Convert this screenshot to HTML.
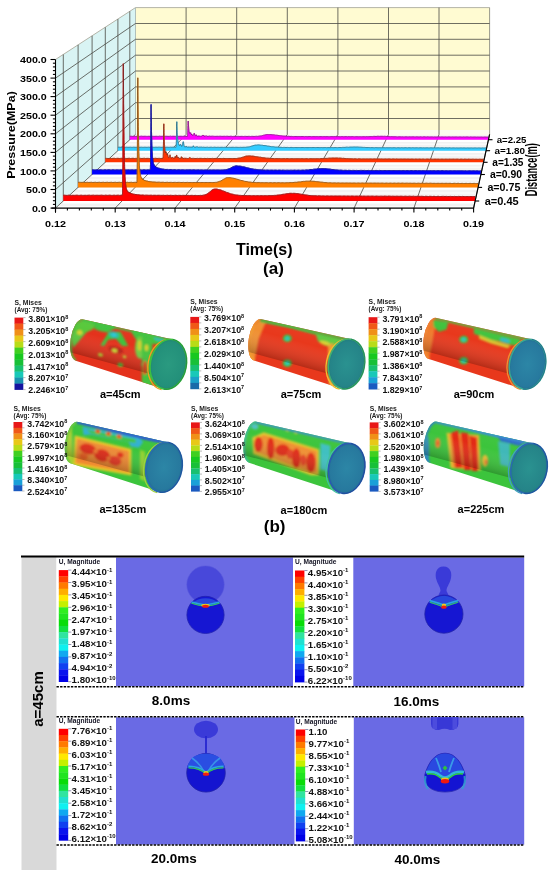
<!DOCTYPE html>
<html><head><meta charset="utf-8"><style>
html,body{margin:0;padding:0;background:#fff;width:550px;height:879px;overflow:hidden}
svg{display:block}
text{font-family:"Liberation Sans",sans-serif}
</style></head><body>
<svg width="550" height="879" viewBox="0 0 550 879">
<polygon points="55.5,208.1 473.6,208.1 489.6,134.4 135.5,134.4" fill="#f2f2f2"/>
<polygon points="63.3,201 475.2,201 474.8,203.4 62.8,203.4" fill="#ffffff"/>
<polygon points="57.7,206.1 474,206.1 473.6,207.6 57.2,207.6" fill="#fafafa"/>
<polygon points="78.1,187.4 478.1,187.4 477.7,189.8 77.6,189.8" fill="#ffffff"/>
<polygon points="72.9,192.2 477.1,192.2 476.7,193.7 72.4,193.7" fill="#fafafa"/>
<polygon points="92.1,174.5 480.9,174.5 480.5,176.9 91.6,176.9" fill="#ffffff"/>
<polygon points="87.1,179.1 479.9,179.1 479.5,180.6 86.6,180.6" fill="#fafafa"/>
<polygon points="105.3,162.3 483.6,162.3 483.2,164.7 104.8,164.7" fill="#ffffff"/>
<polygon points="100.7,166.6 482.7,166.6 482.3,168.1 100.2,168.1" fill="#fafafa"/>
<polygon points="117.9,150.7 486.1,150.7 485.7,153.1 117.4,153.1" fill="#ffffff"/>
<polygon points="113.5,154.8 485.2,154.8 484.8,156.3 113,156.3" fill="#fafafa"/>
<polygon points="129.8,139.7 488.5,139.7 488.1,142.1 129.3,142.1" fill="#ffffff"/>
<polygon points="125.6,143.6 487.6,143.6 487.2,145.1 125.1,145.1" fill="#fafafa"/>
<polygon points="55.5,208.1 55.5,59.5 135.5,7.6 135.5,134.4" fill="#d9f4f4"/>
<polygon points="135.5,134.4 489.6,134.4 489.6,7.6 135.5,7.6" fill="#fffbd2"/>
<polygon points="135.5,134.4 489.6,134.4 489.6,130 135.5,130" fill="#fbfbee"/>
<polyline points="55.5,59.5 135.5,7.6 489.6,7.6" fill="none" stroke="#b4b4a8" stroke-width="1"/>
<polyline points="489.6,7.6 489.6,134.4" fill="none" stroke="#8c8c80" stroke-width="0.9"/>
<polyline points="135.5,7.6 135.5,134.4" fill="none" stroke="#a8b8b4" stroke-width="0.9"/>
<g stroke="#4a4a44" stroke-width="0.8" fill="none"><line x1="186.1" y1="134.4" x2="186.1" y2="7.6"/><line x1="236.7" y1="134.4" x2="236.7" y2="7.6"/><line x1="287.3" y1="134.4" x2="287.3" y2="7.6"/><line x1="337.9" y1="134.4" x2="337.9" y2="7.6"/><line x1="388.5" y1="134.4" x2="388.5" y2="7.6"/><line x1="439" y1="134.4" x2="439" y2="7.6"/><line x1="135.5" y1="118.5" x2="489.6" y2="118.5"/><line x1="55.5" y1="189.5" x2="135.5" y2="118.5"/><line x1="135.5" y1="102.7" x2="489.6" y2="102.7"/><line x1="55.5" y1="170.9" x2="135.5" y2="102.7"/><line x1="135.5" y1="86.9" x2="489.6" y2="86.9"/><line x1="55.5" y1="152.4" x2="135.5" y2="86.9"/><line x1="135.5" y1="71" x2="489.6" y2="71"/><line x1="55.5" y1="133.8" x2="135.5" y2="71"/><line x1="135.5" y1="55.2" x2="489.6" y2="55.2"/><line x1="55.5" y1="115.2" x2="135.5" y2="55.2"/><line x1="135.5" y1="39.3" x2="489.6" y2="39.3"/><line x1="55.5" y1="96.6" x2="135.5" y2="39.3"/><line x1="135.5" y1="23.5" x2="489.6" y2="23.5"/><line x1="55.5" y1="78.1" x2="135.5" y2="23.5"/><line x1="63.3" y1="201" x2="63.3" y2="54.5"/><line x1="78.1" y1="187.4" x2="78.1" y2="44.9"/><line x1="92.1" y1="174.5" x2="92.1" y2="35.9"/><line x1="105.3" y1="162.3" x2="105.3" y2="27.3"/><line x1="117.9" y1="150.7" x2="117.9" y2="19.1"/><line x1="129.8" y1="139.7" x2="129.8" y2="11.4"/><line x1="115.2" y1="208.1" x2="186.1" y2="134.4"/><line x1="175" y1="208.1" x2="236.7" y2="134.4"/><line x1="234.7" y1="208.1" x2="287.3" y2="134.4"/><line x1="294.4" y1="208.1" x2="337.9" y2="134.4"/><line x1="354.1" y1="208.1" x2="388.5" y2="134.4"/><line x1="413.9" y1="208.1" x2="439" y2="134.4"/><line x1="473.6" y1="208.1" x2="489.6" y2="134.4"/><line x1="55.5" y1="208.1" x2="135.5" y2="134.4"/></g>
<polygon points="129.8,136.4 131,136.2 132.2,136.4 133.4,136.4 134.6,136.3 135.8,136.4 137,136.4 138.2,136.3 139.4,136.4 140.5,136.3 141.7,136.2 142.9,136.4 144.1,136.3 145.3,136.3 146.5,136.4 147.7,136.4 148.9,136.3 150.1,136.4 151.3,136.3 152.5,136.3 153.7,136.4 154.9,136.4 156.1,136.3 157.3,136.4 158.5,136.4 159.7,136.2 160.9,136.4 162.1,136.3 163.3,136.3 164.5,136.4 165.7,136.3 166.8,136.3 168,136.4 169.2,136.4 170.4,136.2 171.6,136.4 172.8,136.3 174,136.3 175.2,136.4 176.4,136.3 177.6,136.3 178.8,136.4 180,136.3 181.2,136.3 182.4,136.4 183.6,136.3 184.8,136.3 186,136.4 186.7,136.4 186.7,136.4 186.8,136.3 186.8,136.4 186.9,136.4 186.9,136.3 187,136.4 187,136.3 187.1,136.4 187.1,136.3 187.2,136.3 187.2,136.3 187.3,136.3 187.3,136.3 187.4,136.2 187.4,136.1 187.5,136 187.5,135.8 187.6,135.5 187.6,135 187.7,134.3 187.7,133.3 187.8,132.2 187.8,130.6 187.9,128.9 187.9,127.1 188,125.3 188,123.6 188.1,122.2 188.2,121.3 188.2,121 188.3,122 188.3,122.9 188.4,123.8 188.4,124 188.4,124.6 188.5,125.3 188.5,126 188.6,126.6 188.6,127.2 188.7,127.7 188.7,128.3 188.8,128.7 188.8,129.2 188.9,129.6 188.9,130 189,130.3 189,130.7 189.1,131 189.1,131.3 189.2,131.6 189.2,131.8 189.3,132 189.3,132.2 189.4,132.4 189.4,132.6 189.5,132.7 189.5,132.9 189.6,132.9 189.6,133 189.6,133.1 189.7,133.1 189.7,133.2 189.8,133.2 189.8,133.2 189.9,133.2 189.9,133.2 190,133.2 190,133.2 190.1,133.2 190.1,133.2 190.2,133.2 190.3,133.2 190.3,133.2 190.4,133.1 190.4,133 190.5,132.9 190.5,132.8 190.6,132.7 190.6,132.7 190.7,132.7 190.7,132.9 190.8,133.1 190.8,133.3 190.9,133.5 190.9,133.7 191,133.8 191,133.9 191.1,134 191.1,134.1 191.2,134.2 191.2,134.3 191.3,134.4 191.3,134.4 191.4,134.4 191.4,134.5 191.5,134.5 191.5,134.4 191.6,134.3 191.6,134.2 191.7,134.1 191.7,134 191.8,134 191.8,134 191.9,134.1 191.9,134.3 192,134.3 192,134.4 192,134.6 192.1,134.8 192.1,134.9 192.2,135.1 192.2,135.2 192.3,135.3 192.4,135.3 192.4,135.3 192.5,135.4 192.5,135.4 192.6,135.4 192.6,135.5 192.7,135.5 192.7,135.5 192.8,135.5 192.8,135.5 192.9,135.6 192.9,135.6 193,135.6 193,135.6 193.1,135.5 193.1,135.5 193.2,135.5 193.2,135.5 193.2,135.5 193.3,135.4 193.3,135.4 193.4,135.3 193.4,135.2 193.5,135.1 193.5,135 193.6,134.9 193.6,134.7 193.7,134.6 193.7,134.4 193.8,134.2 193.8,134 193.9,133.9 193.9,133.7 194,133.5 194,133.4 194.1,133.3 194.1,133.3 194.2,133.2 194.2,133.3 194.3,133.3 194.4,133.4 194.4,133.5 194.5,133.6 194.5,133.8 194.6,134 194.6,134.2 194.7,134.4 194.7,134.5 194.8,134.7 194.8,134.9 194.9,135 195,135.3 195.1,135.5 195.2,135.6 195.3,135.7 195.4,135.7 195.5,135.8 195.5,135.8 195.6,135.8 195.7,135.8 195.8,135.7 195.9,135.5 196,135.2 196.1,134.9 196.2,134.7 196.3,134.9 196.4,135.3 196.5,135.6 196.6,135.9 196.7,136 196.7,136 196.8,136 196.9,136.1 197,136.1 197.1,136.1 197.2,136.1 197.3,136.1 197.4,136.1 197.5,136.1 197.6,136.1 197.7,136.1 197.8,136 197.9,136.1 198,136 198.1,136 198.2,136 198.3,136 198.5,136 198.6,136 198.7,136 198.8,136 198.9,136 199,136 199.1,136 199.1,136 199.2,136.1 199.3,136.1 199.4,136.1 199.5,136.1 199.6,136.1 199.7,136.1 199.8,136.2 199.9,136.2 200,136.2 200.1,136.2 200.2,136.2 200.3,136.2 200.3,136.2 200.4,136.3 200.5,136.3 200.6,136.3 200.7,136.3 200.8,136.2 200.9,136.3 201,136.2 201.1,136.2 201.2,136.2 201.3,136.2 201.4,136.2 201.5,136.2 201.6,136.2 201.7,136.1 201.8,136.1 201.9,136.1 202,136 202.1,135.9 202.2,135.8 202.3,135.7 202.4,135.5 202.5,135.4 202.7,135.4 202.7,135.5 202.8,135.5 202.9,135.6 203,135.7 203.1,135.8 203.2,135.8 203.3,135.7 203.4,135.5 203.5,135.3 203.6,135.2 203.7,135.2 203.8,135.5 203.9,135.8 203.9,135.9 204,136.1 204.1,136.2 204.2,136.3 204.3,136.3 204.4,136.3 204.5,136.3 204.6,136.3 204.7,136.3 204.8,136.3 204.9,136.3 205,136.3 205.1,136.2 205.2,136.2 205.3,136.2 205.4,136.1 205.5,136.1 205.6,136 205.7,136 205.8,135.9 205.9,135.9 206,135.9 206.1,135.8 206.2,135.8 206.3,135.8 206.3,135.8 206.4,135.9 206.5,136 206.6,136.1 206.8,136.2 206.9,136.3 207,136.3 207.1,136.3 207.2,136.3 207.3,136.3 207.4,136.4 207.5,136.4 207.5,136.4 207.6,136.4 207.7,136.4 207.8,136.4 207.9,136.4 208,136.4 208.1,136.3 208.2,136.3 208.3,136.3 208.4,136.4 208.5,136.3 208.6,136.3 208.7,136.3 208.8,136.3 208.9,136.3 209,136.3 209.1,136.2 209.2,136.2 209.3,136.2 209.4,136.2 209.5,136.1 209.6,136.1 209.7,136 209.8,136.1 209.9,136.1 209.9,136.1 210,136.2 210.1,136.3 211.1,136.3 212.3,136.2 213.5,136.3 214.7,136.4 215.9,136.4 217.1,136.3 218.3,136.4 219.5,136.3 220.7,136.3 221.9,136.4 223,136.4 224.2,136.3 225.4,136.4 226.6,136.3 227.8,136.3 229,136.5 230.2,136.3 231.4,136.3 232.6,136.5 233.8,136.4 235,136.4 236.2,136.5 237.4,136.4 238.6,136.4 239.8,136.5 241,136.4 242.2,136.4 243.4,136.5 244.6,136.4 245.8,136.4 247,136.5 248.2,136.4 249.4,136.4 250.5,136.5 251.7,136.4 252.9,136.4 254.1,136.5 255.3,136.4 256.5,136.3 257.7,136.4 258.9,136.2 260.1,136 261.3,135.9 262.5,135.5 263.7,135.2 264.9,135 266.1,134.7 267.3,134.5 268.5,134.6 269.7,134.6 270.9,134.6 272.1,134.8 273.3,134.8 274.5,134.9 275.7,135.2 276.9,135.2 278,135.4 279.2,135.6 280.4,135.7 281.6,135.8 282.8,136 284,136.1 285.2,136.1 286.4,136.3 287.6,136.3 288.8,136.3 290,136.5 291.2,136.4 292.4,136.5 293.6,136.6 294.8,136.5 296,136.5 297.2,136.6 298.4,136.5 299.6,136.5 300.8,136.6 302,136.5 303.2,136.5 304.4,136.7 305.5,136.5 306.7,136.6 307.9,136.7 309.1,136.5 310.3,136.5 311.5,136.7 312.7,136.6 313.9,136.6 315.1,136.7 316.3,136.6 317.5,136.6 318.7,136.7 319.9,136.6 321.1,136.6 322.3,136.7 323.5,136.6 324.7,136.6 325.9,136.7 327.1,136.6 328.3,136.7 329.5,136.7 330.7,136.6 331.9,136.6 333.1,136.7 334.2,136.6 335.4,136.6 336.6,136.7 337.8,136.6 339,136.7 340.2,136.8 341.4,136.6 342.6,136.6 343.8,136.8 345,136.7 346.2,136.6 347.4,136.8 348.6,136.6 349.8,136.7 351,136.8 352.2,136.6 353.4,136.7 354.6,136.8 355.8,136.7 357,136.7 358.2,136.8 359.4,136.7 360.5,136.7 361.7,136.8 362.9,136.7 364.1,136.7 365.3,136.8 366.5,136.6 367.7,136.7 368.9,136.7 370.1,136.6 371.3,136.5 372.5,136.6 373.7,136.4 374.9,136.4 376.1,136.5 377.3,136.3 378.5,136.3 379.7,136.4 380.9,136.3 382.1,136.3 383.3,136.4 384.5,136.3 385.7,136.4 386.9,136.5 388.1,136.4 389.2,136.6 390.4,136.7 391.6,136.6 392.8,136.7 394,136.8 395.2,136.7 396.4,136.8 397.6,136.9 398.8,136.8 400,136.8 401.2,136.9 402.4,136.8 403.6,136.9 404.8,136.9 406,136.8 407.2,136.9 408.4,136.9 409.6,136.8 410.8,136.9 412,136.9 413.2,136.8 414.4,136.9 415.6,136.9 416.7,136.8 417.9,136.9 419.1,137 420.3,136.8 421.5,136.9 422.7,137 423.9,136.8 425.1,136.9 426.3,137 427.5,136.8 428.7,136.9 429.9,137 431.1,136.9 432.3,136.9 433.5,137 434.7,136.9 435.9,137 437.1,137 438.3,136.9 439.5,136.9 440.7,137 441.9,136.9 443.1,137 444.2,137 445.4,136.9 446.6,137 447.8,137 449,136.9 450.2,137 451.4,137 452.6,136.9 453.8,137 455,137 456.2,136.9 457.4,137 458.6,137 459.8,136.9 461,137 462.2,137.1 463.4,136.9 464.6,137 465.8,137 467,136.9 468.2,137 469.4,137.1 470.6,136.9 471.7,137 472.9,137.1 474.1,137 475.3,137 476.5,137.1 477.7,137 478.9,137.1 480.1,137.1 481.3,137 482.5,137.1 483.7,137.1 484.9,137 486.1,137.1 487.3,137.1 488.5,137 488.5,139.7 129.8,139.7" fill="#ff00ff"/>
<polyline points="129.8,136.4 131,136.2 132.2,136.4 133.4,136.4 134.6,136.3 135.8,136.4 137,136.4 138.2,136.3 139.4,136.4 140.5,136.3 141.7,136.2 142.9,136.4 144.1,136.3 145.3,136.3 146.5,136.4 147.7,136.4 148.9,136.3 150.1,136.4 151.3,136.3 152.5,136.3 153.7,136.4 154.9,136.4 156.1,136.3 157.3,136.4 158.5,136.4 159.7,136.2 160.9,136.4 162.1,136.3 163.3,136.3 164.5,136.4 165.7,136.3 166.8,136.3 168,136.4 169.2,136.4 170.4,136.2 171.6,136.4 172.8,136.3 174,136.3 175.2,136.4 176.4,136.3 177.6,136.3 178.8,136.4 180,136.3 181.2,136.3 182.4,136.4 183.6,136.3 184.8,136.3 186,136.4 186.7,136.4 186.7,136.4 186.8,136.3 186.8,136.4 186.9,136.4 186.9,136.3 187,136.4 187,136.3 187.1,136.4 187.1,136.3 187.2,136.3 187.2,136.3 187.3,136.3 187.3,136.3 187.4,136.2 187.4,136.1 187.5,136 187.5,135.8 187.6,135.5 187.6,135 187.7,134.3 187.7,133.3 187.8,132.2 187.8,130.6 187.9,128.9 187.9,127.1 188,125.3 188,123.6 188.1,122.2 188.2,121.3 188.2,121 188.3,122 188.3,122.9 188.4,123.8 188.4,124 188.4,124.6 188.5,125.3 188.5,126 188.6,126.6 188.6,127.2 188.7,127.7 188.7,128.3 188.8,128.7 188.8,129.2 188.9,129.6 188.9,130 189,130.3 189,130.7 189.1,131 189.1,131.3 189.2,131.6 189.2,131.8 189.3,132 189.3,132.2 189.4,132.4 189.4,132.6 189.5,132.7 189.5,132.9 189.6,132.9 189.6,133 189.6,133.1 189.7,133.1 189.7,133.2 189.8,133.2 189.8,133.2 189.9,133.2 189.9,133.2 190,133.2 190,133.2 190.1,133.2 190.1,133.2 190.2,133.2 190.3,133.2 190.3,133.2 190.4,133.1 190.4,133 190.5,132.9 190.5,132.8 190.6,132.7 190.6,132.7 190.7,132.7 190.7,132.9 190.8,133.1 190.8,133.3 190.9,133.5 190.9,133.7 191,133.8 191,133.9 191.1,134 191.1,134.1 191.2,134.2 191.2,134.3 191.3,134.4 191.3,134.4 191.4,134.4 191.4,134.5 191.5,134.5 191.5,134.4 191.6,134.3 191.6,134.2 191.7,134.1 191.7,134 191.8,134 191.8,134 191.9,134.1 191.9,134.3 192,134.3 192,134.4 192,134.6 192.1,134.8 192.1,134.9 192.2,135.1 192.2,135.2 192.3,135.3 192.4,135.3 192.4,135.3 192.5,135.4 192.5,135.4 192.6,135.4 192.6,135.5 192.7,135.5 192.7,135.5 192.8,135.5 192.8,135.5 192.9,135.6 192.9,135.6 193,135.6 193,135.6 193.1,135.5 193.1,135.5 193.2,135.5 193.2,135.5 193.2,135.5 193.3,135.4 193.3,135.4 193.4,135.3 193.4,135.2 193.5,135.1 193.5,135 193.6,134.9 193.6,134.7 193.7,134.6 193.7,134.4 193.8,134.2 193.8,134 193.9,133.9 193.9,133.7 194,133.5 194,133.4 194.1,133.3 194.1,133.3 194.2,133.2 194.2,133.3 194.3,133.3 194.4,133.4 194.4,133.5 194.5,133.6 194.5,133.8 194.6,134 194.6,134.2 194.7,134.4 194.7,134.5 194.8,134.7 194.8,134.9 194.9,135 195,135.3 195.1,135.5 195.2,135.6 195.3,135.7 195.4,135.7 195.5,135.8 195.5,135.8 195.6,135.8 195.7,135.8 195.8,135.7 195.9,135.5 196,135.2 196.1,134.9 196.2,134.7 196.3,134.9 196.4,135.3 196.5,135.6 196.6,135.9 196.7,136 196.7,136 196.8,136 196.9,136.1 197,136.1 197.1,136.1 197.2,136.1 197.3,136.1 197.4,136.1 197.5,136.1 197.6,136.1 197.7,136.1 197.8,136 197.9,136.1 198,136 198.1,136 198.2,136 198.3,136 198.5,136 198.6,136 198.7,136 198.8,136 198.9,136 199,136 199.1,136 199.1,136 199.2,136.1 199.3,136.1 199.4,136.1 199.5,136.1 199.6,136.1 199.7,136.1 199.8,136.2 199.9,136.2 200,136.2 200.1,136.2 200.2,136.2 200.3,136.2 200.3,136.2 200.4,136.3 200.5,136.3 200.6,136.3 200.7,136.3 200.8,136.2 200.9,136.3 201,136.2 201.1,136.2 201.2,136.2 201.3,136.2 201.4,136.2 201.5,136.2 201.6,136.2 201.7,136.1 201.8,136.1 201.9,136.1 202,136 202.1,135.9 202.2,135.8 202.3,135.7 202.4,135.5 202.5,135.4 202.7,135.4 202.7,135.5 202.8,135.5 202.9,135.6 203,135.7 203.1,135.8 203.2,135.8 203.3,135.7 203.4,135.5 203.5,135.3 203.6,135.2 203.7,135.2 203.8,135.5 203.9,135.8 203.9,135.9 204,136.1 204.1,136.2 204.2,136.3 204.3,136.3 204.4,136.3 204.5,136.3 204.6,136.3 204.7,136.3 204.8,136.3 204.9,136.3 205,136.3 205.1,136.2 205.2,136.2 205.3,136.2 205.4,136.1 205.5,136.1 205.6,136 205.7,136 205.8,135.9 205.9,135.9 206,135.9 206.1,135.8 206.2,135.8 206.3,135.8 206.3,135.8 206.4,135.9 206.5,136 206.6,136.1 206.8,136.2 206.9,136.3 207,136.3 207.1,136.3 207.2,136.3 207.3,136.3 207.4,136.4 207.5,136.4 207.5,136.4 207.6,136.4 207.7,136.4 207.8,136.4 207.9,136.4 208,136.4 208.1,136.3 208.2,136.3 208.3,136.3 208.4,136.4 208.5,136.3 208.6,136.3 208.7,136.3 208.8,136.3 208.9,136.3 209,136.3 209.1,136.2 209.2,136.2 209.3,136.2 209.4,136.2 209.5,136.1 209.6,136.1 209.7,136 209.8,136.1 209.9,136.1 209.9,136.1 210,136.2 210.1,136.3 211.1,136.3 212.3,136.2 213.5,136.3 214.7,136.4 215.9,136.4 217.1,136.3 218.3,136.4 219.5,136.3 220.7,136.3 221.9,136.4 223,136.4 224.2,136.3 225.4,136.4 226.6,136.3 227.8,136.3 229,136.5 230.2,136.3 231.4,136.3 232.6,136.5 233.8,136.4 235,136.4 236.2,136.5 237.4,136.4 238.6,136.4 239.8,136.5 241,136.4 242.2,136.4 243.4,136.5 244.6,136.4 245.8,136.4 247,136.5 248.2,136.4 249.4,136.4 250.5,136.5 251.7,136.4 252.9,136.4 254.1,136.5 255.3,136.4 256.5,136.3 257.7,136.4 258.9,136.2 260.1,136 261.3,135.9 262.5,135.5 263.7,135.2 264.9,135 266.1,134.7 267.3,134.5 268.5,134.6 269.7,134.6 270.9,134.6 272.1,134.8 273.3,134.8 274.5,134.9 275.7,135.2 276.9,135.2 278,135.4 279.2,135.6 280.4,135.7 281.6,135.8 282.8,136 284,136.1 285.2,136.1 286.4,136.3 287.6,136.3 288.8,136.3 290,136.5 291.2,136.4 292.4,136.5 293.6,136.6 294.8,136.5 296,136.5 297.2,136.6 298.4,136.5 299.6,136.5 300.8,136.6 302,136.5 303.2,136.5 304.4,136.7 305.5,136.5 306.7,136.6 307.9,136.7 309.1,136.5 310.3,136.5 311.5,136.7 312.7,136.6 313.9,136.6 315.1,136.7 316.3,136.6 317.5,136.6 318.7,136.7 319.9,136.6 321.1,136.6 322.3,136.7 323.5,136.6 324.7,136.6 325.9,136.7 327.1,136.6 328.3,136.7 329.5,136.7 330.7,136.6 331.9,136.6 333.1,136.7 334.2,136.6 335.4,136.6 336.6,136.7 337.8,136.6 339,136.7 340.2,136.8 341.4,136.6 342.6,136.6 343.8,136.8 345,136.7 346.2,136.6 347.4,136.8 348.6,136.6 349.8,136.7 351,136.8 352.2,136.6 353.4,136.7 354.6,136.8 355.8,136.7 357,136.7 358.2,136.8 359.4,136.7 360.5,136.7 361.7,136.8 362.9,136.7 364.1,136.7 365.3,136.8 366.5,136.6 367.7,136.7 368.9,136.7 370.1,136.6 371.3,136.5 372.5,136.6 373.7,136.4 374.9,136.4 376.1,136.5 377.3,136.3 378.5,136.3 379.7,136.4 380.9,136.3 382.1,136.3 383.3,136.4 384.5,136.3 385.7,136.4 386.9,136.5 388.1,136.4 389.2,136.6 390.4,136.7 391.6,136.6 392.8,136.7 394,136.8 395.2,136.7 396.4,136.8 397.6,136.9 398.8,136.8 400,136.8 401.2,136.9 402.4,136.8 403.6,136.9 404.8,136.9 406,136.8 407.2,136.9 408.4,136.9 409.6,136.8 410.8,136.9 412,136.9 413.2,136.8 414.4,136.9 415.6,136.9 416.7,136.8 417.9,136.9 419.1,137 420.3,136.8 421.5,136.9 422.7,137 423.9,136.8 425.1,136.9 426.3,137 427.5,136.8 428.7,136.9 429.9,137 431.1,136.9 432.3,136.9 433.5,137 434.7,136.9 435.9,137 437.1,137 438.3,136.9 439.5,136.9 440.7,137 441.9,136.9 443.1,137 444.2,137 445.4,136.9 446.6,137 447.8,137 449,136.9 450.2,137 451.4,137 452.6,136.9 453.8,137 455,137 456.2,136.9 457.4,137 458.6,137 459.8,136.9 461,137 462.2,137.1 463.4,136.9 464.6,137 465.8,137 467,136.9 468.2,137 469.4,137.1 470.6,136.9 471.7,137 472.9,137.1 474.1,137 475.3,137 476.5,137.1 477.7,137 478.9,137.1 480.1,137.1 481.3,137 482.5,137.1 483.7,137.1 484.9,137 486.1,137.1 487.3,137.1 488.5,137" fill="none" stroke="#ff00ff" stroke-width="0.9" stroke-linejoin="round"/>
<polyline points="129.8,136.4 131,136.2 132.2,136.4 133.4,136.4 134.6,136.3 135.8,136.4 137,136.4 138.2,136.3 139.4,136.4 140.5,136.3 141.7,136.2 142.9,136.4 144.1,136.3 145.3,136.3 146.5,136.4 147.7,136.4 148.9,136.3 150.1,136.4 151.3,136.3 152.5,136.3 153.7,136.4 154.9,136.4 156.1,136.3 157.3,136.4 158.5,136.4 159.7,136.2 160.9,136.4 162.1,136.3 163.3,136.3 164.5,136.4 165.7,136.3 166.8,136.3 168,136.4 169.2,136.4 170.4,136.2 171.6,136.4 172.8,136.3 174,136.3 175.2,136.4 176.4,136.3 177.6,136.3 178.8,136.4 180,136.3 181.2,136.3 182.4,136.4 183.6,136.3 184.8,136.3 186,136.4 186.7,136.4 186.7,136.4 186.8,136.3 186.8,136.4 186.9,136.4 186.9,136.3 187,136.4 187,136.3 187.1,136.4 187.1,136.3 187.2,136.3 187.2,136.3 187.3,136.3 187.3,136.3 187.4,136.2 187.4,136.1 187.5,136 187.5,135.8 187.6,135.5 187.6,135 187.7,134.3 187.7,133.3 187.8,132.2 187.8,130.6 187.9,128.9 187.9,127.1 188,125.3 188,123.6 188.1,122.2 188.2,121.3 188.2,121 188.3,122 188.3,122.9 188.4,123.8 188.4,124 188.4,124.6 188.5,125.3 188.5,126 188.6,126.6 188.6,127.2 188.7,127.7 188.7,128.3 188.8,128.7 188.8,129.2 188.9,129.6 188.9,130 189,130.3 189,130.7 189.1,131 189.1,131.3 189.2,131.6 189.2,131.8 189.3,132 189.3,132.2 189.4,132.4 189.4,132.6 189.5,132.7 189.5,132.9 189.6,132.9 189.6,133 189.6,133.1 189.7,133.1 189.7,133.2 189.8,133.2 189.8,133.2 189.9,133.2 189.9,133.2 190,133.2 190,133.2 190.1,133.2 190.1,133.2 190.2,133.2 190.3,133.2 190.3,133.2 190.4,133.1 190.4,133 190.5,132.9 190.5,132.8 190.6,132.7 190.6,132.7 190.7,132.7 190.7,132.9 190.8,133.1 190.8,133.3 190.9,133.5 190.9,133.7 191,133.8 191,133.9 191.1,134 191.1,134.1 191.2,134.2 191.2,134.3 191.3,134.4 191.3,134.4 191.4,134.4 191.4,134.5 191.5,134.5 191.5,134.4 191.6,134.3 191.6,134.2 191.7,134.1 191.7,134 191.8,134 191.8,134 191.9,134.1 191.9,134.3 192,134.3 192,134.4 192,134.6 192.1,134.8 192.1,134.9 192.2,135.1 192.2,135.2 192.3,135.3 192.4,135.3 192.4,135.3 192.5,135.4 192.5,135.4 192.6,135.4 192.6,135.5 192.7,135.5 192.7,135.5 192.8,135.5 192.8,135.5 192.9,135.6 192.9,135.6 193,135.6 193,135.6 193.1,135.5 193.1,135.5 193.2,135.5 193.2,135.5 193.2,135.5 193.3,135.4 193.3,135.4 193.4,135.3 193.4,135.2 193.5,135.1 193.5,135 193.6,134.9 193.6,134.7 193.7,134.6 193.7,134.4 193.8,134.2 193.8,134 193.9,133.9 193.9,133.7 194,133.5 194,133.4 194.1,133.3 194.1,133.3 194.2,133.2 194.2,133.3 194.3,133.3 194.4,133.4 194.4,133.5 194.5,133.6 194.5,133.8 194.6,134 194.6,134.2 194.7,134.4 194.7,134.5 194.8,134.7 194.8,134.9 194.9,135 195,135.3 195.1,135.5 195.2,135.6 195.3,135.7 195.4,135.7 195.5,135.8 195.5,135.8 195.6,135.8 195.7,135.8 195.8,135.7 195.9,135.5 196,135.2 196.1,134.9 196.2,134.7 196.3,134.9 196.4,135.3 196.5,135.6 196.6,135.9 196.7,136 196.7,136 196.8,136 196.9,136.1 197,136.1 197.1,136.1 197.2,136.1 197.3,136.1 197.4,136.1 197.5,136.1 197.6,136.1 197.7,136.1 197.8,136 197.9,136.1 198,136 198.1,136 198.2,136 198.3,136 198.5,136 198.6,136 198.7,136 198.8,136 198.9,136 199,136 199.1,136 199.1,136 199.2,136.1 199.3,136.1 199.4,136.1 199.5,136.1 199.6,136.1 199.7,136.1 199.8,136.2 199.9,136.2 200,136.2 200.1,136.2 200.2,136.2 200.3,136.2 200.3,136.2 200.4,136.3 200.5,136.3 200.6,136.3 200.7,136.3 200.8,136.2 200.9,136.3 201,136.2 201.1,136.2 201.2,136.2 201.3,136.2 201.4,136.2 201.5,136.2 201.6,136.2 201.7,136.1 201.8,136.1 201.9,136.1 202,136 202.1,135.9 202.2,135.8 202.3,135.7 202.4,135.5 202.5,135.4 202.7,135.4 202.7,135.5 202.8,135.5 202.9,135.6 203,135.7 203.1,135.8 203.2,135.8 203.3,135.7 203.4,135.5 203.5,135.3 203.6,135.2 203.7,135.2 203.8,135.5 203.9,135.8 203.9,135.9 204,136.1 204.1,136.2 204.2,136.3 204.3,136.3 204.4,136.3 204.5,136.3 204.6,136.3 204.7,136.3 204.8,136.3 204.9,136.3 205,136.3 205.1,136.2 205.2,136.2 205.3,136.2 205.4,136.1 205.5,136.1 205.6,136 205.7,136 205.8,135.9 205.9,135.9 206,135.9 206.1,135.8 206.2,135.8 206.3,135.8 206.3,135.8 206.4,135.9 206.5,136 206.6,136.1 206.8,136.2 206.9,136.3 207,136.3 207.1,136.3 207.2,136.3 207.3,136.3 207.4,136.4 207.5,136.4 207.5,136.4 207.6,136.4 207.7,136.4 207.8,136.4 207.9,136.4 208,136.4 208.1,136.3 208.2,136.3 208.3,136.3 208.4,136.4 208.5,136.3 208.6,136.3 208.7,136.3 208.8,136.3 208.9,136.3 209,136.3 209.1,136.2 209.2,136.2 209.3,136.2 209.4,136.2 209.5,136.1 209.6,136.1 209.7,136 209.8,136.1 209.9,136.1 209.9,136.1 210,136.2 210.1,136.3 211.1,136.3 212.3,136.2 213.5,136.3 214.7,136.4 215.9,136.4 217.1,136.3 218.3,136.4 219.5,136.3 220.7,136.3 221.9,136.4 223,136.4 224.2,136.3 225.4,136.4 226.6,136.3 227.8,136.3 229,136.5 230.2,136.3 231.4,136.3 232.6,136.5 233.8,136.4 235,136.4 236.2,136.5 237.4,136.4 238.6,136.4 239.8,136.5 241,136.4 242.2,136.4 243.4,136.5 244.6,136.4 245.8,136.4 247,136.5 248.2,136.4 249.4,136.4 250.5,136.5 251.7,136.4 252.9,136.4 254.1,136.5 255.3,136.4 256.5,136.3 257.7,136.4 258.9,136.2 260.1,136 261.3,135.9 262.5,135.5 263.7,135.2 264.9,135 266.1,134.7 267.3,134.5 268.5,134.6 269.7,134.6 270.9,134.6 272.1,134.8 273.3,134.8 274.5,134.9 275.7,135.2 276.9,135.2 278,135.4 279.2,135.6 280.4,135.7 281.6,135.8 282.8,136 284,136.1 285.2,136.1 286.4,136.3 287.6,136.3 288.8,136.3 290,136.5 291.2,136.4 292.4,136.5 293.6,136.6 294.8,136.5 296,136.5 297.2,136.6 298.4,136.5 299.6,136.5 300.8,136.6 302,136.5 303.2,136.5 304.4,136.7 305.5,136.5 306.7,136.6 307.9,136.7 309.1,136.5 310.3,136.5 311.5,136.7 312.7,136.6 313.9,136.6 315.1,136.7 316.3,136.6 317.5,136.6 318.7,136.7 319.9,136.6 321.1,136.6 322.3,136.7 323.5,136.6 324.7,136.6 325.9,136.7 327.1,136.6 328.3,136.7 329.5,136.7 330.7,136.6 331.9,136.6 333.1,136.7 334.2,136.6 335.4,136.6 336.6,136.7 337.8,136.6 339,136.7 340.2,136.8 341.4,136.6 342.6,136.6 343.8,136.8 345,136.7 346.2,136.6 347.4,136.8 348.6,136.6 349.8,136.7 351,136.8 352.2,136.6 353.4,136.7 354.6,136.8 355.8,136.7 357,136.7 358.2,136.8 359.4,136.7 360.5,136.7 361.7,136.8 362.9,136.7 364.1,136.7 365.3,136.8 366.5,136.6 367.7,136.7 368.9,136.7 370.1,136.6 371.3,136.5 372.5,136.6 373.7,136.4 374.9,136.4 376.1,136.5 377.3,136.3 378.5,136.3 379.7,136.4 380.9,136.3 382.1,136.3 383.3,136.4 384.5,136.3 385.7,136.4 386.9,136.5 388.1,136.4 389.2,136.6 390.4,136.7 391.6,136.6 392.8,136.7 394,136.8 395.2,136.7 396.4,136.8 397.6,136.9 398.8,136.8 400,136.8 401.2,136.9 402.4,136.8 403.6,136.9 404.8,136.9 406,136.8 407.2,136.9 408.4,136.9 409.6,136.8 410.8,136.9 412,136.9 413.2,136.8 414.4,136.9 415.6,136.9 416.7,136.8 417.9,136.9 419.1,137 420.3,136.8 421.5,136.9 422.7,137 423.9,136.8 425.1,136.9 426.3,137 427.5,136.8 428.7,136.9 429.9,137 431.1,136.9 432.3,136.9 433.5,137 434.7,136.9 435.9,137 437.1,137 438.3,136.9 439.5,136.9 440.7,137 441.9,136.9 443.1,137 444.2,137 445.4,136.9 446.6,137 447.8,137 449,136.9 450.2,137 451.4,137 452.6,136.9 453.8,137 455,137 456.2,136.9 457.4,137 458.6,137 459.8,136.9 461,137 462.2,137.1 463.4,136.9 464.6,137 465.8,137 467,136.9 468.2,137 469.4,137.1 470.6,136.9 471.7,137 472.9,137.1 474.1,137 475.3,137 476.5,137.1 477.7,137 478.9,137.1 480.1,137.1 481.3,137 482.5,137.1 483.7,137.1 484.9,137 486.1,137.1 487.3,137.1 488.5,137" fill="none" stroke="#383838" stroke-width="0.55" stroke-opacity="0.85"/>
<polygon points="117.9,147.3 119.1,147.2 120.3,147.3 121.6,147.2 122.8,147.2 124,147.3 125.3,147.3 126.5,147.2 127.7,147.3 128.9,147.3 130.2,147.2 131.4,147.3 132.6,147.3 133.8,147.2 135.1,147.3 136.3,147.3 137.5,147.2 138.8,147.3 140,147.3 141.2,147.2 142.4,147.3 143.7,147.3 144.9,147.2 146.1,147.3 147.3,147.3 148.6,147.2 149.8,147.3 151,147.3 152.3,147.2 153.5,147.3 154.7,147.3 155.9,147.2 157.2,147.3 158.4,147.2 159.6,147.2 160.8,147.3 162.1,147.3 163.3,147.2 164.5,147.3 165.8,147.3 167,147.2 168.2,147.3 169.4,147.3 170.7,147.2 171.9,147.3 173.1,147.2 174.3,147.2 175.2,147.3 175.3,147.3 175.3,147.3 175.4,147.3 175.4,147.3 175.5,147.3 175.5,147.3 175.6,147.3 175.6,147.3 175.6,147.3 175.7,147.3 175.8,147.3 175.8,147.3 175.9,147.3 175.9,147.3 176,147.2 176,147.1 176.1,146.9 176.1,146.5 176.2,146 176.2,145.2 176.3,144 176.3,142.5 176.4,140.4 176.4,137.9 176.5,135.1 176.5,132 176.6,128.9 176.6,126.1 176.7,123.8 176.8,122.3 176.8,121.7 176.9,123.5 176.9,125.1 177,126.6 177,128 177.1,129.3 177.1,130.4 177.2,131.5 177.2,132.6 177.3,133.5 177.3,134.4 177.4,135.2 177.4,136 177.5,136.7 177.5,137.3 177.6,137.9 177.6,138.5 177.7,139 177.8,139.5 177.8,139.9 177.9,140.4 177.9,140.7 178,141.1 178,141.5 178,141.5 178.1,141.8 178.1,142.1 178.2,142.3 178.2,142.6 178.3,142.8 178.3,143 178.4,143.3 178.4,143.4 178.5,143.7 178.5,143.8 178.6,144 178.6,144.1 178.7,144.3 178.7,144.4 178.8,144.6 178.9,144.6 178.9,144.7 179,144.8 179,145 179.1,145 179.1,145.1 179.2,145.2 179.2,145.2 179.3,145.3 179.3,145.3 179.3,145.4 179.4,145.4 179.4,145.4 179.5,145.5 179.5,145.5 179.6,145.5 179.6,145.5 179.7,145.4 179.7,145.4 179.8,145.4 179.9,145.3 179.9,145.2 180,145.2 180,145.1 180.1,145 180.1,144.9 180.2,144.7 180.2,144.7 180.3,144.5 180.3,144.5 180.4,144.4 180.4,144.3 180.5,144.3 180.5,144.3 180.6,144.3 180.6,144.3 180.7,144.4 180.7,144.4 180.8,144.6 180.9,144.7 180.9,144.8 181,144.9 181,145.1 181.1,145.2 181.1,145.3 181.2,145.5 181.2,145.6 181.3,145.7 181.3,145.8 181.4,145.9 181.4,146 181.5,146.1 181.5,146.1 181.6,146.2 181.6,146.3 181.7,146.3 181.7,146.3 181.7,146.3 181.8,146.3 181.9,146.3 181.9,146.3 182,146.3 182,146.3 182.1,146.2 182.1,146.1 182.2,145.9 182.2,145.8 182.3,145.7 182.3,145.5 182.4,145.3 182.4,145 182.5,144.8 182.5,144.5 182.6,144.2 182.6,143.9 182.7,143.5 182.7,143.1 182.8,142.7 182.9,142.4 182.9,142.2 182.9,142.1 183,142 183,141.9 183.1,141.9 183.1,141.9 183.2,141.8 183.2,141.8 183.3,141.7 183.3,141.7 183.4,141.8 183.4,141.9 183.5,142.1 183.5,142.4 183.6,142.7 183.6,143.1 183.7,143.9 183.9,144.7 184,145.4 184.1,145.9 184.2,146.2 184.3,146.4 184.4,146.6 184.5,146.7 184.6,146.7 184.7,146.7 184.8,146.7 184.9,146.8 185,146.8 185.1,146.8 185.2,146.8 185.3,146.8 185.4,146.8 185.4,146.8 185.5,146.8 185.6,146.9 185.7,146.8 185.9,146.7 186,146.5 186.1,146.2 186.2,146.2 186.3,146.3 186.4,146.6 186.5,146.9 186.6,147 186.6,147 186.7,147 186.8,147.1 186.9,147.1 187,147.1 187.1,147.1 187.2,147.1 187.3,147 187.4,147 187.5,147 187.6,147.1 187.7,147.1 187.8,147.1 188,147 188.1,147 188.2,147 188.3,147 188.4,147 188.5,147 188.6,147 188.7,147 188.8,147 188.9,147 189,147 189.1,147 189.1,147 189.2,147 189.3,147 189.4,147 189.5,147.1 189.6,147.1 189.7,147.1 189.8,147.2 190,147.1 190.1,147.1 190.2,147.2 190.3,147.2 190.3,147.2 190.4,147.2 190.5,147.2 190.6,147.2 190.7,147.2 190.8,147.2 190.9,147.2 191,147.2 191.1,147.2 191.2,147.2 191.3,147.2 191.4,147.2 191.5,147.1 191.6,147.1 191.7,147.1 191.8,147.1 192,147.1 192.1,147.1 192.2,147.1 192.3,147.1 192.4,147.1 192.5,147.1 192.6,147.1 192.7,147 192.8,147 192.8,147 192.9,146.8 193,146.5 193.1,146.2 193.2,145.9 193.3,145.8 193.4,145.8 193.5,146 193.6,146.2 193.7,146.4 193.8,146.6 194,146.8 194,146.9 194.1,147 194.2,147.1 194.3,147.2 194.4,147.2 194.5,147.2 194.6,147.3 194.7,147.3 194.8,147.2 194.9,147.2 195,147.3 195.1,147.2 195.2,147.2 195.3,147.2 195.4,147.2 195.5,147.2 195.6,147.1 195.7,147.1 195.8,147.1 196,147.1 196.1,147 196.2,146.9 196.3,146.9 196.4,146.8 196.4,146.9 196.5,146.9 196.6,147 196.7,147 196.8,147 196.9,147 197,147 197.1,146.9 197.2,146.9 197.3,146.9 197.4,146.9 197.5,146.9 197.6,146.9 197.7,147 197.7,147 197.8,147.1 197.9,147.1 198.1,147.2 198.2,147.2 198.3,147.3 198.4,147.2 198.5,147.3 198.6,147.3 198.7,147.2 198.8,147.2 198.9,147.2 199,147.2 199.1,147.2 199.2,147.2 199.3,147.2 200.1,147.2 201.4,147.1 202.6,147.3 203.8,147.2 205,147.4 206.3,147.3 207.5,147.2 208.7,147.4 209.9,147.3 211.2,147.2 212.4,147.4 213.6,147.3 214.9,147.2 216.1,147.4 217.3,147.3 218.5,147.3 219.8,147.4 221,147.3 222.2,147.3 223.4,147.4 224.7,147.3 225.9,147.3 227.1,147.4 228.4,147.4 229.6,147.3 230.8,147.4 232,147.3 233.3,147.3 234.5,147.4 235.7,147.3 236.9,147.3 238.2,147.4 239.4,147.4 240.6,147.3 241.9,147.4 243.1,147.3 244.3,147.3 245.5,147.3 246.8,147.1 248,147 249.2,146.9 250.4,146.5 251.7,146.1 252.9,145.8 254.1,145.4 255.4,145.1 256.6,145.1 257.8,144.9 259,144.9 260.3,145.1 261.5,145.2 262.7,145.3 263.9,145.6 265.2,145.6 266.4,145.8 267.6,146.1 268.9,146.2 270.1,146.4 271.3,146.7 272.5,146.7 273.8,146.8 275,147.1 276.2,147.1 277.4,147.1 278.7,147.3 279.9,147.3 281.1,147.3 282.4,147.5 283.6,147.4 284.8,147.4 286,147.5 287.3,147.4 288.5,147.5 289.7,147.6 291,147.4 292.2,147.5 293.4,147.6 294.6,147.5 295.9,147.5 297.1,147.6 298.3,147.5 299.5,147.5 300.8,147.6 302,147.5 303.2,147.5 304.5,147.6 305.7,147.5 306.9,147.6 308.1,147.6 309.4,147.5 310.6,147.5 311.8,147.6 313,147.5 314.3,147.5 315.5,147.6 316.7,147.5 318,147.5 319.2,147.6 320.4,147.6 321.6,147.5 322.9,147.7 324.1,147.6 325.3,147.5 326.5,147.7 327.8,147.6 329,147.6 330.2,147.7 331.5,147.5 332.7,147.6 333.9,147.7 335.1,147.5 336.4,147.6 337.6,147.7 338.8,147.5 340,147.5 341.3,147.6 342.5,147.4 343.7,147.4 345,147.4 346.2,147.2 347.4,147.2 348.6,147.3 349.9,147.1 351.1,147.1 352.3,147.1 353.5,147 354.8,147 356,147.1 357.2,147 358.5,147.1 359.7,147.2 360.9,147.2 362.1,147.3 363.4,147.4 364.6,147.4 365.8,147.5 367,147.6 368.3,147.5 369.5,147.6 370.7,147.7 372,147.6 373.2,147.7 374.4,147.8 375.6,147.6 376.9,147.7 378.1,147.8 379.3,147.7 380.5,147.7 381.8,147.8 383,147.7 384.2,147.7 385.5,147.8 386.7,147.7 387.9,147.8 389.1,147.8 390.4,147.7 391.6,147.8 392.8,147.8 394.1,147.7 395.3,147.8 396.5,147.9 397.7,147.7 399,147.8 400.2,147.9 401.4,147.7 402.6,147.8 403.9,147.9 405.1,147.7 406.3,147.8 407.6,147.9 408.8,147.7 410,147.8 411.2,147.9 412.5,147.7 413.7,147.8 414.9,147.9 416.1,147.8 417.4,147.8 418.6,147.9 419.8,147.8 421.1,147.8 422.3,147.9 423.5,147.8 424.7,147.9 426,147.9 427.2,147.8 428.4,147.9 429.6,147.9 430.9,147.8 432.1,147.9 433.3,147.9 434.6,147.8 435.8,147.9 437,147.9 438.2,147.8 439.5,147.9 440.7,147.9 441.9,147.8 443.1,147.9 444.4,148 445.6,147.8 446.8,147.9 448.1,148 449.3,147.8 450.5,147.9 451.7,148 453,147.9 454.2,147.9 455.4,148 456.6,147.9 457.9,148 459.1,148 460.3,147.9 461.6,147.9 462.8,148 464,147.9 465.2,148 466.5,148 467.7,147.9 468.9,148 470.1,148 471.4,147.9 472.6,148 473.8,148 475.1,147.9 476.3,148 477.5,148 478.7,147.9 480,148 481.2,148.1 482.4,147.9 483.6,148 484.9,148 486.1,147.9 486.1,150.7 117.9,150.7" fill="#33ccff"/>
<polyline points="117.9,147.3 119.1,147.2 120.3,147.3 121.6,147.2 122.8,147.2 124,147.3 125.3,147.3 126.5,147.2 127.7,147.3 128.9,147.3 130.2,147.2 131.4,147.3 132.6,147.3 133.8,147.2 135.1,147.3 136.3,147.3 137.5,147.2 138.8,147.3 140,147.3 141.2,147.2 142.4,147.3 143.7,147.3 144.9,147.2 146.1,147.3 147.3,147.3 148.6,147.2 149.8,147.3 151,147.3 152.3,147.2 153.5,147.3 154.7,147.3 155.9,147.2 157.2,147.3 158.4,147.2 159.6,147.2 160.8,147.3 162.1,147.3 163.3,147.2 164.5,147.3 165.8,147.3 167,147.2 168.2,147.3 169.4,147.3 170.7,147.2 171.9,147.3 173.1,147.2 174.3,147.2 175.2,147.3 175.3,147.3 175.3,147.3 175.4,147.3 175.4,147.3 175.5,147.3 175.5,147.3 175.6,147.3 175.6,147.3 175.6,147.3 175.7,147.3 175.8,147.3 175.8,147.3 175.9,147.3 175.9,147.3 176,147.2 176,147.1 176.1,146.9 176.1,146.5 176.2,146 176.2,145.2 176.3,144 176.3,142.5 176.4,140.4 176.4,137.9 176.5,135.1 176.5,132 176.6,128.9 176.6,126.1 176.7,123.8 176.8,122.3 176.8,121.7 176.9,123.5 176.9,125.1 177,126.6 177,128 177.1,129.3 177.1,130.4 177.2,131.5 177.2,132.6 177.3,133.5 177.3,134.4 177.4,135.2 177.4,136 177.5,136.7 177.5,137.3 177.6,137.9 177.6,138.5 177.7,139 177.8,139.5 177.8,139.9 177.9,140.4 177.9,140.7 178,141.1 178,141.5 178,141.5 178.1,141.8 178.1,142.1 178.2,142.3 178.2,142.6 178.3,142.8 178.3,143 178.4,143.3 178.4,143.4 178.5,143.7 178.5,143.8 178.6,144 178.6,144.1 178.7,144.3 178.7,144.4 178.8,144.6 178.9,144.6 178.9,144.7 179,144.8 179,145 179.1,145 179.1,145.1 179.2,145.2 179.2,145.2 179.3,145.3 179.3,145.3 179.3,145.4 179.4,145.4 179.4,145.4 179.5,145.5 179.5,145.5 179.6,145.5 179.6,145.5 179.7,145.4 179.7,145.4 179.8,145.4 179.9,145.3 179.9,145.2 180,145.2 180,145.1 180.1,145 180.1,144.9 180.2,144.7 180.2,144.7 180.3,144.5 180.3,144.5 180.4,144.4 180.4,144.3 180.5,144.3 180.5,144.3 180.6,144.3 180.6,144.3 180.7,144.4 180.7,144.4 180.8,144.6 180.9,144.7 180.9,144.8 181,144.9 181,145.1 181.1,145.2 181.1,145.3 181.2,145.5 181.2,145.6 181.3,145.7 181.3,145.8 181.4,145.9 181.4,146 181.5,146.1 181.5,146.1 181.6,146.2 181.6,146.3 181.7,146.3 181.7,146.3 181.7,146.3 181.8,146.3 181.9,146.3 181.9,146.3 182,146.3 182,146.3 182.1,146.2 182.1,146.1 182.2,145.9 182.2,145.8 182.3,145.7 182.3,145.5 182.4,145.3 182.4,145 182.5,144.8 182.5,144.5 182.6,144.2 182.6,143.9 182.7,143.5 182.7,143.1 182.8,142.7 182.9,142.4 182.9,142.2 182.9,142.1 183,142 183,141.9 183.1,141.9 183.1,141.9 183.2,141.8 183.2,141.8 183.3,141.7 183.3,141.7 183.4,141.8 183.4,141.9 183.5,142.1 183.5,142.4 183.6,142.7 183.6,143.1 183.7,143.9 183.9,144.7 184,145.4 184.1,145.9 184.2,146.2 184.3,146.4 184.4,146.6 184.5,146.7 184.6,146.7 184.7,146.7 184.8,146.7 184.9,146.8 185,146.8 185.1,146.8 185.2,146.8 185.3,146.8 185.4,146.8 185.4,146.8 185.5,146.8 185.6,146.9 185.7,146.8 185.9,146.7 186,146.5 186.1,146.2 186.2,146.2 186.3,146.3 186.4,146.6 186.5,146.9 186.6,147 186.6,147 186.7,147 186.8,147.1 186.9,147.1 187,147.1 187.1,147.1 187.2,147.1 187.3,147 187.4,147 187.5,147 187.6,147.1 187.7,147.1 187.8,147.1 188,147 188.1,147 188.2,147 188.3,147 188.4,147 188.5,147 188.6,147 188.7,147 188.8,147 188.9,147 189,147 189.1,147 189.1,147 189.2,147 189.3,147 189.4,147 189.5,147.1 189.6,147.1 189.7,147.1 189.8,147.2 190,147.1 190.1,147.1 190.2,147.2 190.3,147.2 190.3,147.2 190.4,147.2 190.5,147.2 190.6,147.2 190.7,147.2 190.8,147.2 190.9,147.2 191,147.2 191.1,147.2 191.2,147.2 191.3,147.2 191.4,147.2 191.5,147.1 191.6,147.1 191.7,147.1 191.8,147.1 192,147.1 192.1,147.1 192.2,147.1 192.3,147.1 192.4,147.1 192.5,147.1 192.6,147.1 192.7,147 192.8,147 192.8,147 192.9,146.8 193,146.5 193.1,146.2 193.2,145.9 193.3,145.8 193.4,145.8 193.5,146 193.6,146.2 193.7,146.4 193.8,146.6 194,146.8 194,146.9 194.1,147 194.2,147.1 194.3,147.2 194.4,147.2 194.5,147.2 194.6,147.3 194.7,147.3 194.8,147.2 194.9,147.2 195,147.3 195.1,147.2 195.2,147.2 195.3,147.2 195.4,147.2 195.5,147.2 195.6,147.1 195.7,147.1 195.8,147.1 196,147.1 196.1,147 196.2,146.9 196.3,146.9 196.4,146.8 196.4,146.9 196.5,146.9 196.6,147 196.7,147 196.8,147 196.9,147 197,147 197.1,146.9 197.2,146.9 197.3,146.9 197.4,146.9 197.5,146.9 197.6,146.9 197.7,147 197.7,147 197.8,147.1 197.9,147.1 198.1,147.2 198.2,147.2 198.3,147.3 198.4,147.2 198.5,147.3 198.6,147.3 198.7,147.2 198.8,147.2 198.9,147.2 199,147.2 199.1,147.2 199.2,147.2 199.3,147.2 200.1,147.2 201.4,147.1 202.6,147.3 203.8,147.2 205,147.4 206.3,147.3 207.5,147.2 208.7,147.4 209.9,147.3 211.2,147.2 212.4,147.4 213.6,147.3 214.9,147.2 216.1,147.4 217.3,147.3 218.5,147.3 219.8,147.4 221,147.3 222.2,147.3 223.4,147.4 224.7,147.3 225.9,147.3 227.1,147.4 228.4,147.4 229.6,147.3 230.8,147.4 232,147.3 233.3,147.3 234.5,147.4 235.7,147.3 236.9,147.3 238.2,147.4 239.4,147.4 240.6,147.3 241.9,147.4 243.1,147.3 244.3,147.3 245.5,147.3 246.8,147.1 248,147 249.2,146.9 250.4,146.5 251.7,146.1 252.9,145.8 254.1,145.4 255.4,145.1 256.6,145.1 257.8,144.9 259,144.9 260.3,145.1 261.5,145.2 262.7,145.3 263.9,145.6 265.2,145.6 266.4,145.8 267.6,146.1 268.9,146.2 270.1,146.4 271.3,146.7 272.5,146.7 273.8,146.8 275,147.1 276.2,147.1 277.4,147.1 278.7,147.3 279.9,147.3 281.1,147.3 282.4,147.5 283.6,147.4 284.8,147.4 286,147.5 287.3,147.4 288.5,147.5 289.7,147.6 291,147.4 292.2,147.5 293.4,147.6 294.6,147.5 295.9,147.5 297.1,147.6 298.3,147.5 299.5,147.5 300.8,147.6 302,147.5 303.2,147.5 304.5,147.6 305.7,147.5 306.9,147.6 308.1,147.6 309.4,147.5 310.6,147.5 311.8,147.6 313,147.5 314.3,147.5 315.5,147.6 316.7,147.5 318,147.5 319.2,147.6 320.4,147.6 321.6,147.5 322.9,147.7 324.1,147.6 325.3,147.5 326.5,147.7 327.8,147.6 329,147.6 330.2,147.7 331.5,147.5 332.7,147.6 333.9,147.7 335.1,147.5 336.4,147.6 337.6,147.7 338.8,147.5 340,147.5 341.3,147.6 342.5,147.4 343.7,147.4 345,147.4 346.2,147.2 347.4,147.2 348.6,147.3 349.9,147.1 351.1,147.1 352.3,147.1 353.5,147 354.8,147 356,147.1 357.2,147 358.5,147.1 359.7,147.2 360.9,147.2 362.1,147.3 363.4,147.4 364.6,147.4 365.8,147.5 367,147.6 368.3,147.5 369.5,147.6 370.7,147.7 372,147.6 373.2,147.7 374.4,147.8 375.6,147.6 376.9,147.7 378.1,147.8 379.3,147.7 380.5,147.7 381.8,147.8 383,147.7 384.2,147.7 385.5,147.8 386.7,147.7 387.9,147.8 389.1,147.8 390.4,147.7 391.6,147.8 392.8,147.8 394.1,147.7 395.3,147.8 396.5,147.9 397.7,147.7 399,147.8 400.2,147.9 401.4,147.7 402.6,147.8 403.9,147.9 405.1,147.7 406.3,147.8 407.6,147.9 408.8,147.7 410,147.8 411.2,147.9 412.5,147.7 413.7,147.8 414.9,147.9 416.1,147.8 417.4,147.8 418.6,147.9 419.8,147.8 421.1,147.8 422.3,147.9 423.5,147.8 424.7,147.9 426,147.9 427.2,147.8 428.4,147.9 429.6,147.9 430.9,147.8 432.1,147.9 433.3,147.9 434.6,147.8 435.8,147.9 437,147.9 438.2,147.8 439.5,147.9 440.7,147.9 441.9,147.8 443.1,147.9 444.4,148 445.6,147.8 446.8,147.9 448.1,148 449.3,147.8 450.5,147.9 451.7,148 453,147.9 454.2,147.9 455.4,148 456.6,147.9 457.9,148 459.1,148 460.3,147.9 461.6,147.9 462.8,148 464,147.9 465.2,148 466.5,148 467.7,147.9 468.9,148 470.1,148 471.4,147.9 472.6,148 473.8,148 475.1,147.9 476.3,148 477.5,148 478.7,147.9 480,148 481.2,148.1 482.4,147.9 483.6,148 484.9,148 486.1,147.9" fill="none" stroke="#33ccff" stroke-width="0.9" stroke-linejoin="round"/>
<polyline points="117.9,147.3 119.1,147.2 120.3,147.3 121.6,147.2 122.8,147.2 124,147.3 125.3,147.3 126.5,147.2 127.7,147.3 128.9,147.3 130.2,147.2 131.4,147.3 132.6,147.3 133.8,147.2 135.1,147.3 136.3,147.3 137.5,147.2 138.8,147.3 140,147.3 141.2,147.2 142.4,147.3 143.7,147.3 144.9,147.2 146.1,147.3 147.3,147.3 148.6,147.2 149.8,147.3 151,147.3 152.3,147.2 153.5,147.3 154.7,147.3 155.9,147.2 157.2,147.3 158.4,147.2 159.6,147.2 160.8,147.3 162.1,147.3 163.3,147.2 164.5,147.3 165.8,147.3 167,147.2 168.2,147.3 169.4,147.3 170.7,147.2 171.9,147.3 173.1,147.2 174.3,147.2 175.2,147.3 175.3,147.3 175.3,147.3 175.4,147.3 175.4,147.3 175.5,147.3 175.5,147.3 175.6,147.3 175.6,147.3 175.6,147.3 175.7,147.3 175.8,147.3 175.8,147.3 175.9,147.3 175.9,147.3 176,147.2 176,147.1 176.1,146.9 176.1,146.5 176.2,146 176.2,145.2 176.3,144 176.3,142.5 176.4,140.4 176.4,137.9 176.5,135.1 176.5,132 176.6,128.9 176.6,126.1 176.7,123.8 176.8,122.3 176.8,121.7 176.9,123.5 176.9,125.1 177,126.6 177,128 177.1,129.3 177.1,130.4 177.2,131.5 177.2,132.6 177.3,133.5 177.3,134.4 177.4,135.2 177.4,136 177.5,136.7 177.5,137.3 177.6,137.9 177.6,138.5 177.7,139 177.8,139.5 177.8,139.9 177.9,140.4 177.9,140.7 178,141.1 178,141.5 178,141.5 178.1,141.8 178.1,142.1 178.2,142.3 178.2,142.6 178.3,142.8 178.3,143 178.4,143.3 178.4,143.4 178.5,143.7 178.5,143.8 178.6,144 178.6,144.1 178.7,144.3 178.7,144.4 178.8,144.6 178.9,144.6 178.9,144.7 179,144.8 179,145 179.1,145 179.1,145.1 179.2,145.2 179.2,145.2 179.3,145.3 179.3,145.3 179.3,145.4 179.4,145.4 179.4,145.4 179.5,145.5 179.5,145.5 179.6,145.5 179.6,145.5 179.7,145.4 179.7,145.4 179.8,145.4 179.9,145.3 179.9,145.2 180,145.2 180,145.1 180.1,145 180.1,144.9 180.2,144.7 180.2,144.7 180.3,144.5 180.3,144.5 180.4,144.4 180.4,144.3 180.5,144.3 180.5,144.3 180.6,144.3 180.6,144.3 180.7,144.4 180.7,144.4 180.8,144.6 180.9,144.7 180.9,144.8 181,144.9 181,145.1 181.1,145.2 181.1,145.3 181.2,145.5 181.2,145.6 181.3,145.7 181.3,145.8 181.4,145.9 181.4,146 181.5,146.1 181.5,146.1 181.6,146.2 181.6,146.3 181.7,146.3 181.7,146.3 181.7,146.3 181.8,146.3 181.9,146.3 181.9,146.3 182,146.3 182,146.3 182.1,146.2 182.1,146.1 182.2,145.9 182.2,145.8 182.3,145.7 182.3,145.5 182.4,145.3 182.4,145 182.5,144.8 182.5,144.5 182.6,144.2 182.6,143.9 182.7,143.5 182.7,143.1 182.8,142.7 182.9,142.4 182.9,142.2 182.9,142.1 183,142 183,141.9 183.1,141.9 183.1,141.9 183.2,141.8 183.2,141.8 183.3,141.7 183.3,141.7 183.4,141.8 183.4,141.9 183.5,142.1 183.5,142.4 183.6,142.7 183.6,143.1 183.7,143.9 183.9,144.7 184,145.4 184.1,145.9 184.2,146.2 184.3,146.4 184.4,146.6 184.5,146.7 184.6,146.7 184.7,146.7 184.8,146.7 184.9,146.8 185,146.8 185.1,146.8 185.2,146.8 185.3,146.8 185.4,146.8 185.4,146.8 185.5,146.8 185.6,146.9 185.7,146.8 185.9,146.7 186,146.5 186.1,146.2 186.2,146.2 186.3,146.3 186.4,146.6 186.5,146.9 186.6,147 186.6,147 186.7,147 186.8,147.1 186.9,147.1 187,147.1 187.1,147.1 187.2,147.1 187.3,147 187.4,147 187.5,147 187.6,147.1 187.7,147.1 187.8,147.1 188,147 188.1,147 188.2,147 188.3,147 188.4,147 188.5,147 188.6,147 188.7,147 188.8,147 188.9,147 189,147 189.1,147 189.1,147 189.2,147 189.3,147 189.4,147 189.5,147.1 189.6,147.1 189.7,147.1 189.8,147.2 190,147.1 190.1,147.1 190.2,147.2 190.3,147.2 190.3,147.2 190.4,147.2 190.5,147.2 190.6,147.2 190.7,147.2 190.8,147.2 190.9,147.2 191,147.2 191.1,147.2 191.2,147.2 191.3,147.2 191.4,147.2 191.5,147.1 191.6,147.1 191.7,147.1 191.8,147.1 192,147.1 192.1,147.1 192.2,147.1 192.3,147.1 192.4,147.1 192.5,147.1 192.6,147.1 192.7,147 192.8,147 192.8,147 192.9,146.8 193,146.5 193.1,146.2 193.2,145.9 193.3,145.8 193.4,145.8 193.5,146 193.6,146.2 193.7,146.4 193.8,146.6 194,146.8 194,146.9 194.1,147 194.2,147.1 194.3,147.2 194.4,147.2 194.5,147.2 194.6,147.3 194.7,147.3 194.8,147.2 194.9,147.2 195,147.3 195.1,147.2 195.2,147.2 195.3,147.2 195.4,147.2 195.5,147.2 195.6,147.1 195.7,147.1 195.8,147.1 196,147.1 196.1,147 196.2,146.9 196.3,146.9 196.4,146.8 196.4,146.9 196.5,146.9 196.6,147 196.7,147 196.8,147 196.9,147 197,147 197.1,146.9 197.2,146.9 197.3,146.9 197.4,146.9 197.5,146.9 197.6,146.9 197.7,147 197.7,147 197.8,147.1 197.9,147.1 198.1,147.2 198.2,147.2 198.3,147.3 198.4,147.2 198.5,147.3 198.6,147.3 198.7,147.2 198.8,147.2 198.9,147.2 199,147.2 199.1,147.2 199.2,147.2 199.3,147.2 200.1,147.2 201.4,147.1 202.6,147.3 203.8,147.2 205,147.4 206.3,147.3 207.5,147.2 208.7,147.4 209.9,147.3 211.2,147.2 212.4,147.4 213.6,147.3 214.9,147.2 216.1,147.4 217.3,147.3 218.5,147.3 219.8,147.4 221,147.3 222.2,147.3 223.4,147.4 224.7,147.3 225.9,147.3 227.1,147.4 228.4,147.4 229.6,147.3 230.8,147.4 232,147.3 233.3,147.3 234.5,147.4 235.7,147.3 236.9,147.3 238.2,147.4 239.4,147.4 240.6,147.3 241.9,147.4 243.1,147.3 244.3,147.3 245.5,147.3 246.8,147.1 248,147 249.2,146.9 250.4,146.5 251.7,146.1 252.9,145.8 254.1,145.4 255.4,145.1 256.6,145.1 257.8,144.9 259,144.9 260.3,145.1 261.5,145.2 262.7,145.3 263.9,145.6 265.2,145.6 266.4,145.8 267.6,146.1 268.9,146.2 270.1,146.4 271.3,146.7 272.5,146.7 273.8,146.8 275,147.1 276.2,147.1 277.4,147.1 278.7,147.3 279.9,147.3 281.1,147.3 282.4,147.5 283.6,147.4 284.8,147.4 286,147.5 287.3,147.4 288.5,147.5 289.7,147.6 291,147.4 292.2,147.5 293.4,147.6 294.6,147.5 295.9,147.5 297.1,147.6 298.3,147.5 299.5,147.5 300.8,147.6 302,147.5 303.2,147.5 304.5,147.6 305.7,147.5 306.9,147.6 308.1,147.6 309.4,147.5 310.6,147.5 311.8,147.6 313,147.5 314.3,147.5 315.5,147.6 316.7,147.5 318,147.5 319.2,147.6 320.4,147.6 321.6,147.5 322.9,147.7 324.1,147.6 325.3,147.5 326.5,147.7 327.8,147.6 329,147.6 330.2,147.7 331.5,147.5 332.7,147.6 333.9,147.7 335.1,147.5 336.4,147.6 337.6,147.7 338.8,147.5 340,147.5 341.3,147.6 342.5,147.4 343.7,147.4 345,147.4 346.2,147.2 347.4,147.2 348.6,147.3 349.9,147.1 351.1,147.1 352.3,147.1 353.5,147 354.8,147 356,147.1 357.2,147 358.5,147.1 359.7,147.2 360.9,147.2 362.1,147.3 363.4,147.4 364.6,147.4 365.8,147.5 367,147.6 368.3,147.5 369.5,147.6 370.7,147.7 372,147.6 373.2,147.7 374.4,147.8 375.6,147.6 376.9,147.7 378.1,147.8 379.3,147.7 380.5,147.7 381.8,147.8 383,147.7 384.2,147.7 385.5,147.8 386.7,147.7 387.9,147.8 389.1,147.8 390.4,147.7 391.6,147.8 392.8,147.8 394.1,147.7 395.3,147.8 396.5,147.9 397.7,147.7 399,147.8 400.2,147.9 401.4,147.7 402.6,147.8 403.9,147.9 405.1,147.7 406.3,147.8 407.6,147.9 408.8,147.7 410,147.8 411.2,147.9 412.5,147.7 413.7,147.8 414.9,147.9 416.1,147.8 417.4,147.8 418.6,147.9 419.8,147.8 421.1,147.8 422.3,147.9 423.5,147.8 424.7,147.9 426,147.9 427.2,147.8 428.4,147.9 429.6,147.9 430.9,147.8 432.1,147.9 433.3,147.9 434.6,147.8 435.8,147.9 437,147.9 438.2,147.8 439.5,147.9 440.7,147.9 441.9,147.8 443.1,147.9 444.4,148 445.6,147.8 446.8,147.9 448.1,148 449.3,147.8 450.5,147.9 451.7,148 453,147.9 454.2,147.9 455.4,148 456.6,147.9 457.9,148 459.1,148 460.3,147.9 461.6,147.9 462.8,148 464,147.9 465.2,148 466.5,148 467.7,147.9 468.9,148 470.1,148 471.4,147.9 472.6,148 473.8,148 475.1,147.9 476.3,148 477.5,148 478.7,147.9 480,148 481.2,148.1 482.4,147.9 483.6,148 484.9,148 486.1,147.9" fill="none" stroke="#383838" stroke-width="0.55" stroke-opacity="0.85"/>
<polygon points="105.3,158.4 106.6,158.4 107.9,158.5 109.1,158.5 110.4,158.3 111.7,158.5 112.9,158.4 114.2,158.3 115.4,158.5 116.7,158.4 118,158.3 119.2,158.5 120.5,158.4 121.7,158.3 123,158.5 124.3,158.4 125.5,158.4 126.8,158.5 128,158.4 129.3,158.3 130.6,158.5 131.8,158.4 133.1,158.3 134.3,158.5 135.6,158.4 136.9,158.4 138.1,158.5 139.4,158.4 140.6,158.4 141.9,158.5 143.2,158.4 144.4,158.3 145.7,158.5 147,158.4 148.2,158.4 149.5,158.5 150.7,158.5 152,158.3 153.3,158.5 154.5,158.4 155.8,158.3 157,158.5 158.3,158.4 159.6,158.4 160.8,158.5 162.1,158.4 162.2,158.4 162.2,158.4 162.3,158.4 162.4,158.4 162.4,158.4 162.5,158.4 162.5,158.4 162.6,158.3 162.6,158.3 162.7,158.3 162.7,158.3 162.8,158.3 162.8,158.3 162.9,158.2 162.9,158.2 163,158 163.1,157.7 163.1,157.2 163.2,156.5 163.2,155.4 163.3,153.9 163.3,151.7 163.3,151 163.4,149 163.4,145.6 163.5,141.8 163.5,137.6 163.6,133.4 163.7,129.6 163.7,126.5 163.8,124.5 163.8,123.8 163.9,126.2 163.9,128.5 164,130.6 164,132.5 164.1,134.2 164.1,135.9 164.2,137.5 164.2,138.9 164.3,140.2 164.4,141.4 164.4,142.6 164.5,143.6 164.5,144.6 164.6,145.5 164.6,146.1 164.6,146.3 164.7,147.1 164.7,147.8 164.8,148.5 164.8,149.1 164.9,149.7 164.9,150.2 165,150.7 165.1,151.2 165.1,151.5 165.2,151.9 165.2,152.3 165.3,152.5 165.3,152.8 165.4,153 165.4,153 165.5,153 165.5,152.9 165.6,152.6 165.6,152.2 165.7,151.8 165.8,151.6 165.8,151.5 165.9,151.6 165.9,151.8 166,152.1 166,152.4 166.1,152.6 166.1,152.8 166.2,152.8 166.2,152.8 166.3,152.8 166.4,152.7 166.4,152.8 166.5,152.8 166.5,152.9 166.6,153 166.6,153.2 166.7,153.4 166.7,153.6 166.8,153.8 166.8,154 166.9,154.3 166.9,154.4 167,154.6 167.1,154.7 167.1,154.7 167.1,154.8 167.2,154.8 167.2,154.7 167.3,154.7 167.3,154.6 167.4,154.5 167.4,154.4 167.5,154.4 167.5,154.3 167.6,154.3 167.6,154.4 167.7,154.5 167.8,154.6 167.8,154.8 167.9,155 167.9,155.3 168,155.5 168,155.8 168.1,156.1 168.1,156.3 168.2,156.6 168.2,156.8 168.3,156.9 168.4,157.1 168.4,157.2 168.4,157.2 168.5,157.3 168.5,157.4 168.6,157.5 168.6,157.5 168.7,157.6 168.7,157.6 168.8,157.6 168.8,157.6 168.9,157.6 168.9,157.6 169,157.6 169.1,157.6 169.1,157.6 169.2,157.5 169.2,157.5 169.3,157.4 169.3,157.3 169.4,157.1 169.4,157.1 169.5,156.9 169.5,156.7 169.6,156.6 169.6,156.4 169.7,156.2 169.8,155.9 169.8,155.6 169.9,155.4 169.9,155.1 170,154.9 170,154.8 170.1,154.9 170.1,155.2 170.2,155.5 170.2,155.9 170.3,156.3 170.4,156.7 170.4,156.9 170.5,157.1 170.5,157.3 170.6,157.4 170.6,157.5 170.7,157.6 170.7,157.6 170.8,157.7 170.8,157.7 170.9,157.8 170.9,157.8 171.1,157.8 171.2,157.8 171.3,157.9 171.4,157.9 171.5,157.9 171.6,157.9 171.7,157.9 171.8,157.9 171.9,157.7 172,157.7 172.1,157.6 172.2,157.5 172.2,157.5 172.3,157.4 172.5,157.4 172.6,157.4 172.7,157.5 172.8,157.6 172.9,157.7 173,157.8 173.1,157.9 173.2,158 173.3,158 173.4,158 173.5,158 173.6,158.1 173.8,158 173.9,158 174,158 174.1,158.1 174.2,158.1 174.3,158.1 174.4,158 174.5,158 174.6,157.9 174.7,157.7 174.7,157.6 174.8,157.3 174.9,156.9 175.1,156.5 175.2,156.4 175.3,156.5 175.4,156.8 175.5,157.2 175.6,157.5 175.7,157.6 175.8,157.6 175.9,157.4 176,157.3 176,157.1 176.1,156.7 176.2,156.3 176.3,155.8 176.5,155.4 176.6,155.1 176.7,155.1 176.8,155.2 176.9,155.5 177,156 177.1,156.5 177.2,157 177.3,157.4 177.4,157.6 177.5,157.7 177.6,157.6 177.8,157.4 177.9,157.2 178,157 178.1,157 178.2,157.1 178.3,157.3 178.4,157.6 178.5,157.8 178.5,157.8 178.6,158 178.7,158.2 178.8,158.3 178.9,158.3 179.1,158.3 179.2,158.4 179.3,158.3 179.4,158.4 179.5,158.4 179.6,158.4 179.7,158.4 179.7,158.4 179.8,158.4 179.9,158.4 180,158.4 180.1,158.4 180.2,158.4 180.3,158.4 180.5,158.4 180.6,158.4 180.7,158.4 180.8,158.4 180.9,158.2 181,158.1 181.1,157.7 181.2,157.2 181.3,156.8 181.4,156.7 181.5,156.9 181.6,157.2 181.8,157.6 181.9,157.9 182,158.1 182.1,158.2 182.2,158.2 182.3,158.2 182.3,158.1 182.4,158 182.5,157.9 182.6,157.7 182.7,157.8 182.8,157.9 182.9,158.1 183,158.3 183.2,158.4 183.3,158.4 183.4,158.5 183.5,158.4 183.5,158.5 183.6,158.5 183.7,158.5 183.8,158.5 183.9,158.5 184,158.5 184.1,158.4 184.2,158.4 184.3,158.3 184.5,158.2 184.6,158.1 184.7,158 184.8,158 184.9,158.1 185,158.1 185.1,158.2 185.2,158.3 185.3,158.3 185.4,158.3 185.5,158.3 185.6,158.3 185.8,158.3 185.9,158.3 186,158.3 186,158.3 186.1,158.3 186.2,158.4 186.3,158.4 186.4,158.4 186.5,158.4 186.6,158.4 186.7,158.4 186.8,158.4 186.9,158.4 187.3,158.5 188.6,158.4 189.8,157.6 191.1,158.5 192.3,158.4 193.6,158.4 194.9,158.5 196.1,158.5 197.4,158.4 198.6,158.5 199.9,158.4 201.2,158.4 202.4,158.5 203.7,158.5 204.9,158.4 206.2,158.6 207.5,158.4 208.7,158.5 210,158.6 211.3,158.5 212.5,158.4 213.8,158.6 215,158.5 216.3,158.4 217.6,158.6 218.8,158.5 220.1,158.5 221.3,158.6 222.6,158.5 223.9,158.4 225.1,158.6 226.4,158.5 227.6,158.5 228.9,158.6 230.2,158.5 231.4,158.5 232.7,158.6 233.9,158.5 235.2,158.5 236.5,158.5 237.7,158.3 239,158.1 240.3,158 241.5,157.5 242.8,157.2 244,156.9 245.3,156.3 246.6,156 247.8,156 249.1,155.9 250.3,155.9 251.6,156.1 252.9,156.1 254.1,156.3 255.4,156.6 256.6,156.7 257.9,156.9 259.2,157.2 260.4,157.2 261.7,157.5 262.9,157.8 264.2,157.8 265.5,158 266.7,158.2 268,158.2 269.3,158.3 270.5,158.5 271.8,158.5 273,158.5 274.3,158.7 275.6,158.6 276.8,158.6 278.1,158.7 279.3,158.6 280.6,158.7 281.9,158.8 283.1,158.7 284.4,158.6 285.6,158.8 286.9,158.6 288.2,158.7 289.4,158.8 290.7,158.7 291.9,158.7 293.2,158.8 294.5,158.7 295.7,158.7 297,158.8 298.3,158.7 299.5,158.7 300.8,158.8 302,158.7 303.3,158.8 304.6,158.8 305.8,158.7 307.1,158.7 308.3,158.9 309.6,158.7 310.9,158.7 312.1,158.8 313.4,158.7 314.6,158.7 315.9,158.8 317.2,158.7 318.4,158.7 319.7,158.8 320.9,158.6 322.2,158.6 323.5,158.6 324.7,158.4 326,158.4 327.3,158.4 328.5,158.2 329.8,158.1 331,158.2 332.3,158 333.6,158 334.8,158.1 336.1,158 337.3,158 338.6,158.2 339.9,158.1 341.1,158.2 342.4,158.4 343.6,158.3 344.9,158.5 346.2,158.7 347.4,158.6 348.7,158.7 349.9,158.8 351.2,158.8 352.5,158.8 353.7,158.9 355,158.8 356.2,158.9 357.5,159 358.8,158.8 360,158.9 361.3,159 362.6,158.9 363.8,158.9 365.1,159 366.3,158.9 367.6,158.9 368.9,159 370.1,158.9 371.4,158.9 372.6,159 373.9,158.9 375.2,158.9 376.4,159 377.7,158.9 378.9,158.9 380.2,159 381.5,158.9 382.7,159 384,159.1 385.2,158.9 386.5,159 387.8,159 389,158.9 390.3,159 391.6,159.1 392.8,158.9 394.1,159 395.3,159.1 396.6,158.9 397.9,159.1 399.1,159.1 400.4,159 401.6,159 402.9,159.1 404.2,159 405.4,159 406.7,159.1 407.9,159 409.2,159.1 410.5,159.1 411.7,159 413,159.1 414.2,159.2 415.5,159 416.8,159.1 418,159.2 419.3,159 420.5,159.1 421.8,159.2 423.1,159 424.3,159.2 425.6,159.2 426.9,159 428.1,159.1 429.4,159.2 430.6,159 431.9,159.2 433.2,159.2 434.4,159.1 435.7,159.1 436.9,159.2 438.2,159.1 439.5,159.2 440.7,159.2 442,159.1 443.2,159.2 444.5,159.2 445.8,159.1 447,159.2 448.3,159.2 449.5,159.1 450.8,159.2 452.1,159.2 453.3,159.1 454.6,159.2 455.9,159.2 457.1,159.1 458.4,159.2 459.6,159.3 460.9,159.1 462.2,159.2 463.4,159.3 464.7,159.1 465.9,159.2 467.2,159.3 468.5,159.1 469.7,159.2 471,159.3 472.2,159.2 473.5,159.2 474.8,159.3 476,159.2 477.3,159.3 478.5,159.3 479.8,159.2 481.1,159.3 482.3,159.3 483.6,159.2 483.6,162.3 105.3,162.3" fill="#ff3300"/>
<polyline points="105.3,158.4 106.6,158.4 107.9,158.5 109.1,158.5 110.4,158.3 111.7,158.5 112.9,158.4 114.2,158.3 115.4,158.5 116.7,158.4 118,158.3 119.2,158.5 120.5,158.4 121.7,158.3 123,158.5 124.3,158.4 125.5,158.4 126.8,158.5 128,158.4 129.3,158.3 130.6,158.5 131.8,158.4 133.1,158.3 134.3,158.5 135.6,158.4 136.9,158.4 138.1,158.5 139.4,158.4 140.6,158.4 141.9,158.5 143.2,158.4 144.4,158.3 145.7,158.5 147,158.4 148.2,158.4 149.5,158.5 150.7,158.5 152,158.3 153.3,158.5 154.5,158.4 155.8,158.3 157,158.5 158.3,158.4 159.6,158.4 160.8,158.5 162.1,158.4 162.2,158.4 162.2,158.4 162.3,158.4 162.4,158.4 162.4,158.4 162.5,158.4 162.5,158.4 162.6,158.3 162.6,158.3 162.7,158.3 162.7,158.3 162.8,158.3 162.8,158.3 162.9,158.2 162.9,158.2 163,158 163.1,157.7 163.1,157.2 163.2,156.5 163.2,155.4 163.3,153.9 163.3,151.7 163.3,151 163.4,149 163.4,145.6 163.5,141.8 163.5,137.6 163.6,133.4 163.7,129.6 163.7,126.5 163.8,124.5 163.8,123.8 163.9,126.2 163.9,128.5 164,130.6 164,132.5 164.1,134.2 164.1,135.9 164.2,137.5 164.2,138.9 164.3,140.2 164.4,141.4 164.4,142.6 164.5,143.6 164.5,144.6 164.6,145.5 164.6,146.1 164.6,146.3 164.7,147.1 164.7,147.8 164.8,148.5 164.8,149.1 164.9,149.7 164.9,150.2 165,150.7 165.1,151.2 165.1,151.5 165.2,151.9 165.2,152.3 165.3,152.5 165.3,152.8 165.4,153 165.4,153 165.5,153 165.5,152.9 165.6,152.6 165.6,152.2 165.7,151.8 165.8,151.6 165.8,151.5 165.9,151.6 165.9,151.8 166,152.1 166,152.4 166.1,152.6 166.1,152.8 166.2,152.8 166.2,152.8 166.3,152.8 166.4,152.7 166.4,152.8 166.5,152.8 166.5,152.9 166.6,153 166.6,153.2 166.7,153.4 166.7,153.6 166.8,153.8 166.8,154 166.9,154.3 166.9,154.4 167,154.6 167.1,154.7 167.1,154.7 167.1,154.8 167.2,154.8 167.2,154.7 167.3,154.7 167.3,154.6 167.4,154.5 167.4,154.4 167.5,154.4 167.5,154.3 167.6,154.3 167.6,154.4 167.7,154.5 167.8,154.6 167.8,154.8 167.9,155 167.9,155.3 168,155.5 168,155.8 168.1,156.1 168.1,156.3 168.2,156.6 168.2,156.8 168.3,156.9 168.4,157.1 168.4,157.2 168.4,157.2 168.5,157.3 168.5,157.4 168.6,157.5 168.6,157.5 168.7,157.6 168.7,157.6 168.8,157.6 168.8,157.6 168.9,157.6 168.9,157.6 169,157.6 169.1,157.6 169.1,157.6 169.2,157.5 169.2,157.5 169.3,157.4 169.3,157.3 169.4,157.1 169.4,157.1 169.5,156.9 169.5,156.7 169.6,156.6 169.6,156.4 169.7,156.2 169.8,155.9 169.8,155.6 169.9,155.4 169.9,155.1 170,154.9 170,154.8 170.1,154.9 170.1,155.2 170.2,155.5 170.2,155.9 170.3,156.3 170.4,156.7 170.4,156.9 170.5,157.1 170.5,157.3 170.6,157.4 170.6,157.5 170.7,157.6 170.7,157.6 170.8,157.7 170.8,157.7 170.9,157.8 170.9,157.8 171.1,157.8 171.2,157.8 171.3,157.9 171.4,157.9 171.5,157.9 171.6,157.9 171.7,157.9 171.8,157.9 171.9,157.7 172,157.7 172.1,157.6 172.2,157.5 172.2,157.5 172.3,157.4 172.5,157.4 172.6,157.4 172.7,157.5 172.8,157.6 172.9,157.7 173,157.8 173.1,157.9 173.2,158 173.3,158 173.4,158 173.5,158 173.6,158.1 173.8,158 173.9,158 174,158 174.1,158.1 174.2,158.1 174.3,158.1 174.4,158 174.5,158 174.6,157.9 174.7,157.7 174.7,157.6 174.8,157.3 174.9,156.9 175.1,156.5 175.2,156.4 175.3,156.5 175.4,156.8 175.5,157.2 175.6,157.5 175.7,157.6 175.8,157.6 175.9,157.4 176,157.3 176,157.1 176.1,156.7 176.2,156.3 176.3,155.8 176.5,155.4 176.6,155.1 176.7,155.1 176.8,155.2 176.9,155.5 177,156 177.1,156.5 177.2,157 177.3,157.4 177.4,157.6 177.5,157.7 177.6,157.6 177.8,157.4 177.9,157.2 178,157 178.1,157 178.2,157.1 178.3,157.3 178.4,157.6 178.5,157.8 178.5,157.8 178.6,158 178.7,158.2 178.8,158.3 178.9,158.3 179.1,158.3 179.2,158.4 179.3,158.3 179.4,158.4 179.5,158.4 179.6,158.4 179.7,158.4 179.7,158.4 179.8,158.4 179.9,158.4 180,158.4 180.1,158.4 180.2,158.4 180.3,158.4 180.5,158.4 180.6,158.4 180.7,158.4 180.8,158.4 180.9,158.2 181,158.1 181.1,157.7 181.2,157.2 181.3,156.8 181.4,156.7 181.5,156.9 181.6,157.2 181.8,157.6 181.9,157.9 182,158.1 182.1,158.2 182.2,158.2 182.3,158.2 182.3,158.1 182.4,158 182.5,157.9 182.6,157.7 182.7,157.8 182.8,157.9 182.9,158.1 183,158.3 183.2,158.4 183.3,158.4 183.4,158.5 183.5,158.4 183.5,158.5 183.6,158.5 183.7,158.5 183.8,158.5 183.9,158.5 184,158.5 184.1,158.4 184.2,158.4 184.3,158.3 184.5,158.2 184.6,158.1 184.7,158 184.8,158 184.9,158.1 185,158.1 185.1,158.2 185.2,158.3 185.3,158.3 185.4,158.3 185.5,158.3 185.6,158.3 185.8,158.3 185.9,158.3 186,158.3 186,158.3 186.1,158.3 186.2,158.4 186.3,158.4 186.4,158.4 186.5,158.4 186.6,158.4 186.7,158.4 186.8,158.4 186.9,158.4 187.3,158.5 188.6,158.4 189.8,157.6 191.1,158.5 192.3,158.4 193.6,158.4 194.9,158.5 196.1,158.5 197.4,158.4 198.6,158.5 199.9,158.4 201.2,158.4 202.4,158.5 203.7,158.5 204.9,158.4 206.2,158.6 207.5,158.4 208.7,158.5 210,158.6 211.3,158.5 212.5,158.4 213.8,158.6 215,158.5 216.3,158.4 217.6,158.6 218.8,158.5 220.1,158.5 221.3,158.6 222.6,158.5 223.9,158.4 225.1,158.6 226.4,158.5 227.6,158.5 228.9,158.6 230.2,158.5 231.4,158.5 232.7,158.6 233.9,158.5 235.2,158.5 236.5,158.5 237.7,158.3 239,158.1 240.3,158 241.5,157.5 242.8,157.2 244,156.9 245.3,156.3 246.6,156 247.8,156 249.1,155.9 250.3,155.9 251.6,156.1 252.9,156.1 254.1,156.3 255.4,156.6 256.6,156.7 257.9,156.9 259.2,157.2 260.4,157.2 261.7,157.5 262.9,157.8 264.2,157.8 265.5,158 266.7,158.2 268,158.2 269.3,158.3 270.5,158.5 271.8,158.5 273,158.5 274.3,158.7 275.6,158.6 276.8,158.6 278.1,158.7 279.3,158.6 280.6,158.7 281.9,158.8 283.1,158.7 284.4,158.6 285.6,158.8 286.9,158.6 288.2,158.7 289.4,158.8 290.7,158.7 291.9,158.7 293.2,158.8 294.5,158.7 295.7,158.7 297,158.8 298.3,158.7 299.5,158.7 300.8,158.8 302,158.7 303.3,158.8 304.6,158.8 305.8,158.7 307.1,158.7 308.3,158.9 309.6,158.7 310.9,158.7 312.1,158.8 313.4,158.7 314.6,158.7 315.9,158.8 317.2,158.7 318.4,158.7 319.7,158.8 320.9,158.6 322.2,158.6 323.5,158.6 324.7,158.4 326,158.4 327.3,158.4 328.5,158.2 329.8,158.1 331,158.2 332.3,158 333.6,158 334.8,158.1 336.1,158 337.3,158 338.6,158.2 339.9,158.1 341.1,158.2 342.4,158.4 343.6,158.3 344.9,158.5 346.2,158.7 347.4,158.6 348.7,158.7 349.9,158.8 351.2,158.8 352.5,158.8 353.7,158.9 355,158.8 356.2,158.9 357.5,159 358.8,158.8 360,158.9 361.3,159 362.6,158.9 363.8,158.9 365.1,159 366.3,158.9 367.6,158.9 368.9,159 370.1,158.9 371.4,158.9 372.6,159 373.9,158.9 375.2,158.9 376.4,159 377.7,158.9 378.9,158.9 380.2,159 381.5,158.9 382.7,159 384,159.1 385.2,158.9 386.5,159 387.8,159 389,158.9 390.3,159 391.6,159.1 392.8,158.9 394.1,159 395.3,159.1 396.6,158.9 397.9,159.1 399.1,159.1 400.4,159 401.6,159 402.9,159.1 404.2,159 405.4,159 406.7,159.1 407.9,159 409.2,159.1 410.5,159.1 411.7,159 413,159.1 414.2,159.2 415.5,159 416.8,159.1 418,159.2 419.3,159 420.5,159.1 421.8,159.2 423.1,159 424.3,159.2 425.6,159.2 426.9,159 428.1,159.1 429.4,159.2 430.6,159 431.9,159.2 433.2,159.2 434.4,159.1 435.7,159.1 436.9,159.2 438.2,159.1 439.5,159.2 440.7,159.2 442,159.1 443.2,159.2 444.5,159.2 445.8,159.1 447,159.2 448.3,159.2 449.5,159.1 450.8,159.2 452.1,159.2 453.3,159.1 454.6,159.2 455.9,159.2 457.1,159.1 458.4,159.2 459.6,159.3 460.9,159.1 462.2,159.2 463.4,159.3 464.7,159.1 465.9,159.2 467.2,159.3 468.5,159.1 469.7,159.2 471,159.3 472.2,159.2 473.5,159.2 474.8,159.3 476,159.2 477.3,159.3 478.5,159.3 479.8,159.2 481.1,159.3 482.3,159.3 483.6,159.2" fill="none" stroke="#ff3300" stroke-width="0.9" stroke-linejoin="round"/>
<polyline points="105.3,158.4 106.6,158.4 107.9,158.5 109.1,158.5 110.4,158.3 111.7,158.5 112.9,158.4 114.2,158.3 115.4,158.5 116.7,158.4 118,158.3 119.2,158.5 120.5,158.4 121.7,158.3 123,158.5 124.3,158.4 125.5,158.4 126.8,158.5 128,158.4 129.3,158.3 130.6,158.5 131.8,158.4 133.1,158.3 134.3,158.5 135.6,158.4 136.9,158.4 138.1,158.5 139.4,158.4 140.6,158.4 141.9,158.5 143.2,158.4 144.4,158.3 145.7,158.5 147,158.4 148.2,158.4 149.5,158.5 150.7,158.5 152,158.3 153.3,158.5 154.5,158.4 155.8,158.3 157,158.5 158.3,158.4 159.6,158.4 160.8,158.5 162.1,158.4 162.2,158.4 162.2,158.4 162.3,158.4 162.4,158.4 162.4,158.4 162.5,158.4 162.5,158.4 162.6,158.3 162.6,158.3 162.7,158.3 162.7,158.3 162.8,158.3 162.8,158.3 162.9,158.2 162.9,158.2 163,158 163.1,157.7 163.1,157.2 163.2,156.5 163.2,155.4 163.3,153.9 163.3,151.7 163.3,151 163.4,149 163.4,145.6 163.5,141.8 163.5,137.6 163.6,133.4 163.7,129.6 163.7,126.5 163.8,124.5 163.8,123.8 163.9,126.2 163.9,128.5 164,130.6 164,132.5 164.1,134.2 164.1,135.9 164.2,137.5 164.2,138.9 164.3,140.2 164.4,141.4 164.4,142.6 164.5,143.6 164.5,144.6 164.6,145.5 164.6,146.1 164.6,146.3 164.7,147.1 164.7,147.8 164.8,148.5 164.8,149.1 164.9,149.7 164.9,150.2 165,150.7 165.1,151.2 165.1,151.5 165.2,151.9 165.2,152.3 165.3,152.5 165.3,152.8 165.4,153 165.4,153 165.5,153 165.5,152.9 165.6,152.6 165.6,152.2 165.7,151.8 165.8,151.6 165.8,151.5 165.9,151.6 165.9,151.8 166,152.1 166,152.4 166.1,152.6 166.1,152.8 166.2,152.8 166.2,152.8 166.3,152.8 166.4,152.7 166.4,152.8 166.5,152.8 166.5,152.9 166.6,153 166.6,153.2 166.7,153.4 166.7,153.6 166.8,153.8 166.8,154 166.9,154.3 166.9,154.4 167,154.6 167.1,154.7 167.1,154.7 167.1,154.8 167.2,154.8 167.2,154.7 167.3,154.7 167.3,154.6 167.4,154.5 167.4,154.4 167.5,154.4 167.5,154.3 167.6,154.3 167.6,154.4 167.7,154.5 167.8,154.6 167.8,154.8 167.9,155 167.9,155.3 168,155.5 168,155.8 168.1,156.1 168.1,156.3 168.2,156.6 168.2,156.8 168.3,156.9 168.4,157.1 168.4,157.2 168.4,157.2 168.5,157.3 168.5,157.4 168.6,157.5 168.6,157.5 168.7,157.6 168.7,157.6 168.8,157.6 168.8,157.6 168.9,157.6 168.9,157.6 169,157.6 169.1,157.6 169.1,157.6 169.2,157.5 169.2,157.5 169.3,157.4 169.3,157.3 169.4,157.1 169.4,157.1 169.5,156.9 169.5,156.7 169.6,156.6 169.6,156.4 169.7,156.2 169.8,155.9 169.8,155.6 169.9,155.4 169.9,155.1 170,154.9 170,154.8 170.1,154.9 170.1,155.2 170.2,155.5 170.2,155.9 170.3,156.3 170.4,156.7 170.4,156.9 170.5,157.1 170.5,157.3 170.6,157.4 170.6,157.5 170.7,157.6 170.7,157.6 170.8,157.7 170.8,157.7 170.9,157.8 170.9,157.8 171.1,157.8 171.2,157.8 171.3,157.9 171.4,157.9 171.5,157.9 171.6,157.9 171.7,157.9 171.8,157.9 171.9,157.7 172,157.7 172.1,157.6 172.2,157.5 172.2,157.5 172.3,157.4 172.5,157.4 172.6,157.4 172.7,157.5 172.8,157.6 172.9,157.7 173,157.8 173.1,157.9 173.2,158 173.3,158 173.4,158 173.5,158 173.6,158.1 173.8,158 173.9,158 174,158 174.1,158.1 174.2,158.1 174.3,158.1 174.4,158 174.5,158 174.6,157.9 174.7,157.7 174.7,157.6 174.8,157.3 174.9,156.9 175.1,156.5 175.2,156.4 175.3,156.5 175.4,156.8 175.5,157.2 175.6,157.5 175.7,157.6 175.8,157.6 175.9,157.4 176,157.3 176,157.1 176.1,156.7 176.2,156.3 176.3,155.8 176.5,155.4 176.6,155.1 176.7,155.1 176.8,155.2 176.9,155.5 177,156 177.1,156.5 177.2,157 177.3,157.4 177.4,157.6 177.5,157.7 177.6,157.6 177.8,157.4 177.9,157.2 178,157 178.1,157 178.2,157.1 178.3,157.3 178.4,157.6 178.5,157.8 178.5,157.8 178.6,158 178.7,158.2 178.8,158.3 178.9,158.3 179.1,158.3 179.2,158.4 179.3,158.3 179.4,158.4 179.5,158.4 179.6,158.4 179.7,158.4 179.7,158.4 179.8,158.4 179.9,158.4 180,158.4 180.1,158.4 180.2,158.4 180.3,158.4 180.5,158.4 180.6,158.4 180.7,158.4 180.8,158.4 180.9,158.2 181,158.1 181.1,157.7 181.2,157.2 181.3,156.8 181.4,156.7 181.5,156.9 181.6,157.2 181.8,157.6 181.9,157.9 182,158.1 182.1,158.2 182.2,158.2 182.3,158.2 182.3,158.1 182.4,158 182.5,157.9 182.6,157.7 182.7,157.8 182.8,157.9 182.9,158.1 183,158.3 183.2,158.4 183.3,158.4 183.4,158.5 183.5,158.4 183.5,158.5 183.6,158.5 183.7,158.5 183.8,158.5 183.9,158.5 184,158.5 184.1,158.4 184.2,158.4 184.3,158.3 184.5,158.2 184.6,158.1 184.7,158 184.8,158 184.9,158.1 185,158.1 185.1,158.2 185.2,158.3 185.3,158.3 185.4,158.3 185.5,158.3 185.6,158.3 185.8,158.3 185.9,158.3 186,158.3 186,158.3 186.1,158.3 186.2,158.4 186.3,158.4 186.4,158.4 186.5,158.4 186.6,158.4 186.7,158.4 186.8,158.4 186.9,158.4 187.3,158.5 188.6,158.4 189.8,157.6 191.1,158.5 192.3,158.4 193.6,158.4 194.9,158.5 196.1,158.5 197.4,158.4 198.6,158.5 199.9,158.4 201.2,158.4 202.4,158.5 203.7,158.5 204.9,158.4 206.2,158.6 207.5,158.4 208.7,158.5 210,158.6 211.3,158.5 212.5,158.4 213.8,158.6 215,158.5 216.3,158.4 217.6,158.6 218.8,158.5 220.1,158.5 221.3,158.6 222.6,158.5 223.9,158.4 225.1,158.6 226.4,158.5 227.6,158.5 228.9,158.6 230.2,158.5 231.4,158.5 232.7,158.6 233.9,158.5 235.2,158.5 236.5,158.5 237.7,158.3 239,158.1 240.3,158 241.5,157.5 242.8,157.2 244,156.9 245.3,156.3 246.6,156 247.8,156 249.1,155.9 250.3,155.9 251.6,156.1 252.9,156.1 254.1,156.3 255.4,156.6 256.6,156.7 257.9,156.9 259.2,157.2 260.4,157.2 261.7,157.5 262.9,157.8 264.2,157.8 265.5,158 266.7,158.2 268,158.2 269.3,158.3 270.5,158.5 271.8,158.5 273,158.5 274.3,158.7 275.6,158.6 276.8,158.6 278.1,158.7 279.3,158.6 280.6,158.7 281.9,158.8 283.1,158.7 284.4,158.6 285.6,158.8 286.9,158.6 288.2,158.7 289.4,158.8 290.7,158.7 291.9,158.7 293.2,158.8 294.5,158.7 295.7,158.7 297,158.8 298.3,158.7 299.5,158.7 300.8,158.8 302,158.7 303.3,158.8 304.6,158.8 305.8,158.7 307.1,158.7 308.3,158.9 309.6,158.7 310.9,158.7 312.1,158.8 313.4,158.7 314.6,158.7 315.9,158.8 317.2,158.7 318.4,158.7 319.7,158.8 320.9,158.6 322.2,158.6 323.5,158.6 324.7,158.4 326,158.4 327.3,158.4 328.5,158.2 329.8,158.1 331,158.2 332.3,158 333.6,158 334.8,158.1 336.1,158 337.3,158 338.6,158.2 339.9,158.1 341.1,158.2 342.4,158.4 343.6,158.3 344.9,158.5 346.2,158.7 347.4,158.6 348.7,158.7 349.9,158.8 351.2,158.8 352.5,158.8 353.7,158.9 355,158.8 356.2,158.9 357.5,159 358.8,158.8 360,158.9 361.3,159 362.6,158.9 363.8,158.9 365.1,159 366.3,158.9 367.6,158.9 368.9,159 370.1,158.9 371.4,158.9 372.6,159 373.9,158.9 375.2,158.9 376.4,159 377.7,158.9 378.9,158.9 380.2,159 381.5,158.9 382.7,159 384,159.1 385.2,158.9 386.5,159 387.8,159 389,158.9 390.3,159 391.6,159.1 392.8,158.9 394.1,159 395.3,159.1 396.6,158.9 397.9,159.1 399.1,159.1 400.4,159 401.6,159 402.9,159.1 404.2,159 405.4,159 406.7,159.1 407.9,159 409.2,159.1 410.5,159.1 411.7,159 413,159.1 414.2,159.2 415.5,159 416.8,159.1 418,159.2 419.3,159 420.5,159.1 421.8,159.2 423.1,159 424.3,159.2 425.6,159.2 426.9,159 428.1,159.1 429.4,159.2 430.6,159 431.9,159.2 433.2,159.2 434.4,159.1 435.7,159.1 436.9,159.2 438.2,159.1 439.5,159.2 440.7,159.2 442,159.1 443.2,159.2 444.5,159.2 445.8,159.1 447,159.2 448.3,159.2 449.5,159.1 450.8,159.2 452.1,159.2 453.3,159.1 454.6,159.2 455.9,159.2 457.1,159.1 458.4,159.2 459.6,159.3 460.9,159.1 462.2,159.2 463.4,159.3 464.7,159.1 465.9,159.2 467.2,159.3 468.5,159.1 469.7,159.2 471,159.3 472.2,159.2 473.5,159.2 474.8,159.3 476,159.2 477.3,159.3 478.5,159.3 479.8,159.2 481.1,159.3 482.3,159.3 483.6,159.2" fill="none" stroke="#383838" stroke-width="0.55" stroke-opacity="0.85"/>
<polygon points="92.1,169.8 93.4,169.8 94.7,169.9 96,169.9 97.3,169.7 98.6,169.9 99.9,169.8 101.2,169.8 102.5,169.9 103.8,169.9 105.1,169.7 106.4,169.9 107.7,169.8 108.9,169.7 110.2,169.9 111.5,169.9 112.8,169.7 114.1,169.9 115.4,169.9 116.7,169.8 118,169.9 119.3,169.9 120.6,169.8 121.9,169.9 123.2,169.8 124.5,169.7 125.8,169.9 127.1,169.9 128.4,169.8 129.7,169.9 131,169.9 132.3,169.8 133.6,169.9 134.9,169.9 136.2,169.7 137.5,169.9 138.8,169.8 140.1,169.8 141.4,169.9 142.7,169.9 143.9,169.7 145.2,169.9 146.5,169.9 147.8,169.8 149.1,169.9 149.4,169.9 149.5,169.9 149.5,169.9 149.6,169.9 149.6,169.9 149.7,169.9 149.8,169.9 149.8,169.9 149.9,169.9 149.9,169.9 150,169.8 150,169.9 150.1,169.8 150.1,169.7 150.2,169.5 150.3,169.2 150.3,168.6 150.4,167.8 150.4,166.4 150.5,164.3 150.5,161.3 150.6,157.3 150.6,152.1 150.7,145.8 150.8,138.4 150.8,130.5 150.9,122.6 150.9,115.4 151,109.6 151,105.8 151.1,104.4 151.1,108.8 151.2,112.8 151.3,116.6 151.3,120 151.4,123.2 151.4,126.2 151.5,129 151.5,131.6 151.6,134 151.6,136.2 151.7,138.2 151.7,138.9 151.8,140.1 151.8,141.9 151.9,143.6 151.9,145.1 152,146.5 152,147.9 152.1,149.1 152.1,150.2 152.2,151.3 152.3,152.3 152.3,153.2 152.4,154.1 152.4,154.9 152.5,155.7 152.5,156.4 152.6,157 152.6,157.6 152.7,158.1 152.8,158.7 152.8,159.1 152.9,159.6 152.9,160.1 153,160.5 153,160.7 153,160.8 153.1,161.2 153.1,161.5 153.2,161.8 153.3,162.1 153.3,162.4 153.4,162.6 153.4,162.9 153.5,163.1 153.5,163.3 153.6,163.5 153.6,163.6 153.7,163.8 153.8,164 153.8,164.1 153.9,164.3 153.9,164.4 154,164.5 154,164.7 154.1,164.7 154.1,164.9 154.2,165 154.3,165.1 154.3,165.2 154.4,165.2 154.4,165.3 154.5,165.4 154.5,165.5 154.6,165.6 154.6,165.6 154.7,165.7 154.8,165.8 154.8,165.8 154.9,165.9 154.9,165.9 155,166 155,166 155.1,166.1 155.1,166.1 155.2,166.2 155.3,166.2 155.3,166.3 155.4,166.4 155.4,166.4 155.5,166.4 155.5,166.5 155.6,166.5 155.6,166.6 155.6,166.6 155.7,166.7 155.8,166.7 155.8,166.8 155.9,166.8 155.9,166.8 156,166.9 156,166.9 156.1,167 156.1,167 156.2,167 156.3,167.1 156.3,167.1 156.4,167.2 156.4,167.2 156.5,167.2 156.5,167.3 156.6,167.3 156.6,167.3 156.7,167.4 156.8,167.4 156.8,167.5 156.9,167.5 156.9,167.5 156.9,167.5 157,167.6 157,167.6 157.1,167.6 157.1,167.6 157.2,167.7 157.3,167.7 157.3,167.7 157.4,167.7 157.4,167.7 157.5,167.8 157.5,167.8 157.6,167.8 157.6,167.8 157.7,167.9 157.8,167.9 157.8,167.9 157.9,167.9 157.9,167.9 158,167.9 158,167.9 158.1,168 158.1,168 158.2,168 158.3,168 159.5,168.3 160.8,168.8 162.1,169 163.4,169.1 164.7,169.4 166,169.5 167.3,169.4 168.6,169.7 169.9,169.6 171.2,169.6 172.5,169.8 173.8,169.7 175.1,169.7 176.4,169.9 177.6,169.8 178.9,169.7 180.2,169.9 181.5,169.8 182.8,169.8 184.1,169.9 185.4,169.9 186.7,169.8 188,169.9 189.3,169.8 190.6,169.8 191.9,170 193.2,169.8 194.5,169.8 195.8,170 197.1,169.9 198.4,169.8 199.7,170 201,169.9 202.3,169.9 203.6,170 204.9,169.9 206.2,169.9 207.5,170 208.8,170 210,169.9 211.3,170 212.6,169.9 213.9,169.9 215.2,170 216.5,169.9 217.8,169.9 219.1,170 220.4,170 221.7,169.9 223,170 224.3,169.8 225.6,169.7 226.9,169.5 228.2,169 229.5,168.5 230.8,168 232.1,167.2 233.4,166.5 234.7,166.2 236,165.8 237.3,165.9 238.6,166.1 239.9,166.1 241.2,166.3 242.5,166.7 243.7,166.8 245,167.1 246.3,167.6 247.6,167.8 248.9,168.1 250.2,168.5 251.5,168.7 252.8,168.9 254.1,169.3 255.4,169.3 256.7,169.5 258,169.8 259.3,169.8 260.6,169.8 261.9,170 263.2,170 264.5,170 265.8,170.2 267.1,170 268.4,170.1 269.7,170.2 271,170.1 272.3,170.1 273.6,170.2 274.9,170.1 276.1,170.1 277.4,170.3 278.7,170.1 280,170.1 281.3,170.3 282.6,170.1 283.9,170.2 285.2,170.3 286.5,170.2 287.8,170.2 289.1,170.3 290.4,170.2 291.7,170.2 293,170.3 294.3,170.1 295.6,170.2 296.9,170.3 298.2,170.1 299.5,170.2 300.8,170.3 302.1,170.1 303.4,170.1 304.7,170.2 306,169.9 307.3,169.9 308.6,169.9 309.8,169.6 311.1,169.5 312.4,169.5 313.7,169.2 315,169.1 316.3,169.1 317.6,168.8 318.9,168.7 320.2,168.7 321.5,168.5 322.8,168.6 324.1,168.7 325.4,168.6 326.7,168.8 328,169 329.3,169 330.6,169.2 331.9,169.5 333.2,169.5 334.5,169.7 335.8,169.9 337.1,169.9 338.4,170.1 339.7,170.2 341,170.1 342.2,170.3 343.5,170.4 344.8,170.3 346.1,170.3 347.4,170.5 348.7,170.3 350,170.4 351.3,170.5 352.6,170.4 353.9,170.4 355.2,170.5 356.5,170.4 357.8,170.5 359.1,170.5 360.4,170.4 361.7,170.4 363,170.5 364.3,170.4 365.6,170.5 366.9,170.6 368.2,170.4 369.5,170.5 370.8,170.6 372.1,170.4 373.4,170.5 374.7,170.6 376,170.4 377.2,170.5 378.5,170.6 379.8,170.4 381.1,170.6 382.4,170.6 383.7,170.5 385,170.5 386.3,170.6 387.6,170.5 388.9,170.5 390.2,170.6 391.5,170.5 392.8,170.6 394.1,170.6 395.4,170.5 396.7,170.6 398,170.7 399.3,170.5 400.6,170.6 401.9,170.7 403.2,170.5 404.5,170.6 405.8,170.7 407.1,170.5 408.4,170.6 409.7,170.7 410.9,170.5 412.2,170.6 413.5,170.7 414.8,170.6 416.1,170.6 417.4,170.7 418.7,170.6 420,170.7 421.3,170.7 422.6,170.6 423.9,170.7 425.2,170.8 426.5,170.6 427.8,170.7 429.1,170.8 430.4,170.6 431.7,170.7 433,170.8 434.3,170.6 435.6,170.8 436.9,170.8 438.2,170.6 439.5,170.7 440.8,170.8 442.1,170.6 443.3,170.7 444.6,170.8 445.9,170.7 447.2,170.8 448.5,170.8 449.8,170.7 451.1,170.8 452.4,170.8 453.7,170.7 455,170.8 456.3,170.8 457.6,170.7 458.9,170.8 460.2,170.8 461.5,170.7 462.8,170.8 464.1,170.9 465.4,170.7 466.7,170.9 468,170.9 469.3,170.7 470.6,170.8 471.9,170.9 473.2,170.8 474.5,170.8 475.8,170.9 477,170.8 478.3,170.9 479.6,170.9 480.9,170.8 480.9,174.5 92.1,174.5" fill="#0000ff"/>
<polyline points="92.1,169.8 93.4,169.8 94.7,169.9 96,169.9 97.3,169.7 98.6,169.9 99.9,169.8 101.2,169.8 102.5,169.9 103.8,169.9 105.1,169.7 106.4,169.9 107.7,169.8 108.9,169.7 110.2,169.9 111.5,169.9 112.8,169.7 114.1,169.9 115.4,169.9 116.7,169.8 118,169.9 119.3,169.9 120.6,169.8 121.9,169.9 123.2,169.8 124.5,169.7 125.8,169.9 127.1,169.9 128.4,169.8 129.7,169.9 131,169.9 132.3,169.8 133.6,169.9 134.9,169.9 136.2,169.7 137.5,169.9 138.8,169.8 140.1,169.8 141.4,169.9 142.7,169.9 143.9,169.7 145.2,169.9 146.5,169.9 147.8,169.8 149.1,169.9 149.4,169.9 149.5,169.9 149.5,169.9 149.6,169.9 149.6,169.9 149.7,169.9 149.8,169.9 149.8,169.9 149.9,169.9 149.9,169.9 150,169.8 150,169.9 150.1,169.8 150.1,169.7 150.2,169.5 150.3,169.2 150.3,168.6 150.4,167.8 150.4,166.4 150.5,164.3 150.5,161.3 150.6,157.3 150.6,152.1 150.7,145.8 150.8,138.4 150.8,130.5 150.9,122.6 150.9,115.4 151,109.6 151,105.8 151.1,104.4 151.1,108.8 151.2,112.8 151.3,116.6 151.3,120 151.4,123.2 151.4,126.2 151.5,129 151.5,131.6 151.6,134 151.6,136.2 151.7,138.2 151.7,138.9 151.8,140.1 151.8,141.9 151.9,143.6 151.9,145.1 152,146.5 152,147.9 152.1,149.1 152.1,150.2 152.2,151.3 152.3,152.3 152.3,153.2 152.4,154.1 152.4,154.9 152.5,155.7 152.5,156.4 152.6,157 152.6,157.6 152.7,158.1 152.8,158.7 152.8,159.1 152.9,159.6 152.9,160.1 153,160.5 153,160.7 153,160.8 153.1,161.2 153.1,161.5 153.2,161.8 153.3,162.1 153.3,162.4 153.4,162.6 153.4,162.9 153.5,163.1 153.5,163.3 153.6,163.5 153.6,163.6 153.7,163.8 153.8,164 153.8,164.1 153.9,164.3 153.9,164.4 154,164.5 154,164.7 154.1,164.7 154.1,164.9 154.2,165 154.3,165.1 154.3,165.2 154.4,165.2 154.4,165.3 154.5,165.4 154.5,165.5 154.6,165.6 154.6,165.6 154.7,165.7 154.8,165.8 154.8,165.8 154.9,165.9 154.9,165.9 155,166 155,166 155.1,166.1 155.1,166.1 155.2,166.2 155.3,166.2 155.3,166.3 155.4,166.4 155.4,166.4 155.5,166.4 155.5,166.5 155.6,166.5 155.6,166.6 155.6,166.6 155.7,166.7 155.8,166.7 155.8,166.8 155.9,166.8 155.9,166.8 156,166.9 156,166.9 156.1,167 156.1,167 156.2,167 156.3,167.1 156.3,167.1 156.4,167.2 156.4,167.2 156.5,167.2 156.5,167.3 156.6,167.3 156.6,167.3 156.7,167.4 156.8,167.4 156.8,167.5 156.9,167.5 156.9,167.5 156.9,167.5 157,167.6 157,167.6 157.1,167.6 157.1,167.6 157.2,167.7 157.3,167.7 157.3,167.7 157.4,167.7 157.4,167.7 157.5,167.8 157.5,167.8 157.6,167.8 157.6,167.8 157.7,167.9 157.8,167.9 157.8,167.9 157.9,167.9 157.9,167.9 158,167.9 158,167.9 158.1,168 158.1,168 158.2,168 158.3,168 159.5,168.3 160.8,168.8 162.1,169 163.4,169.1 164.7,169.4 166,169.5 167.3,169.4 168.6,169.7 169.9,169.6 171.2,169.6 172.5,169.8 173.8,169.7 175.1,169.7 176.4,169.9 177.6,169.8 178.9,169.7 180.2,169.9 181.5,169.8 182.8,169.8 184.1,169.9 185.4,169.9 186.7,169.8 188,169.9 189.3,169.8 190.6,169.8 191.9,170 193.2,169.8 194.5,169.8 195.8,170 197.1,169.9 198.4,169.8 199.7,170 201,169.9 202.3,169.9 203.6,170 204.9,169.9 206.2,169.9 207.5,170 208.8,170 210,169.9 211.3,170 212.6,169.9 213.9,169.9 215.2,170 216.5,169.9 217.8,169.9 219.1,170 220.4,170 221.7,169.9 223,170 224.3,169.8 225.6,169.7 226.9,169.5 228.2,169 229.5,168.5 230.8,168 232.1,167.2 233.4,166.5 234.7,166.2 236,165.8 237.3,165.9 238.6,166.1 239.9,166.1 241.2,166.3 242.5,166.7 243.7,166.8 245,167.1 246.3,167.6 247.6,167.8 248.9,168.1 250.2,168.5 251.5,168.7 252.8,168.9 254.1,169.3 255.4,169.3 256.7,169.5 258,169.8 259.3,169.8 260.6,169.8 261.9,170 263.2,170 264.5,170 265.8,170.2 267.1,170 268.4,170.1 269.7,170.2 271,170.1 272.3,170.1 273.6,170.2 274.9,170.1 276.1,170.1 277.4,170.3 278.7,170.1 280,170.1 281.3,170.3 282.6,170.1 283.9,170.2 285.2,170.3 286.5,170.2 287.8,170.2 289.1,170.3 290.4,170.2 291.7,170.2 293,170.3 294.3,170.1 295.6,170.2 296.9,170.3 298.2,170.1 299.5,170.2 300.8,170.3 302.1,170.1 303.4,170.1 304.7,170.2 306,169.9 307.3,169.9 308.6,169.9 309.8,169.6 311.1,169.5 312.4,169.5 313.7,169.2 315,169.1 316.3,169.1 317.6,168.8 318.9,168.7 320.2,168.7 321.5,168.5 322.8,168.6 324.1,168.7 325.4,168.6 326.7,168.8 328,169 329.3,169 330.6,169.2 331.9,169.5 333.2,169.5 334.5,169.7 335.8,169.9 337.1,169.9 338.4,170.1 339.7,170.2 341,170.1 342.2,170.3 343.5,170.4 344.8,170.3 346.1,170.3 347.4,170.5 348.7,170.3 350,170.4 351.3,170.5 352.6,170.4 353.9,170.4 355.2,170.5 356.5,170.4 357.8,170.5 359.1,170.5 360.4,170.4 361.7,170.4 363,170.5 364.3,170.4 365.6,170.5 366.9,170.6 368.2,170.4 369.5,170.5 370.8,170.6 372.1,170.4 373.4,170.5 374.7,170.6 376,170.4 377.2,170.5 378.5,170.6 379.8,170.4 381.1,170.6 382.4,170.6 383.7,170.5 385,170.5 386.3,170.6 387.6,170.5 388.9,170.5 390.2,170.6 391.5,170.5 392.8,170.6 394.1,170.6 395.4,170.5 396.7,170.6 398,170.7 399.3,170.5 400.6,170.6 401.9,170.7 403.2,170.5 404.5,170.6 405.8,170.7 407.1,170.5 408.4,170.6 409.7,170.7 410.9,170.5 412.2,170.6 413.5,170.7 414.8,170.6 416.1,170.6 417.4,170.7 418.7,170.6 420,170.7 421.3,170.7 422.6,170.6 423.9,170.7 425.2,170.8 426.5,170.6 427.8,170.7 429.1,170.8 430.4,170.6 431.7,170.7 433,170.8 434.3,170.6 435.6,170.8 436.9,170.8 438.2,170.6 439.5,170.7 440.8,170.8 442.1,170.6 443.3,170.7 444.6,170.8 445.9,170.7 447.2,170.8 448.5,170.8 449.8,170.7 451.1,170.8 452.4,170.8 453.7,170.7 455,170.8 456.3,170.8 457.6,170.7 458.9,170.8 460.2,170.8 461.5,170.7 462.8,170.8 464.1,170.9 465.4,170.7 466.7,170.9 468,170.9 469.3,170.7 470.6,170.8 471.9,170.9 473.2,170.8 474.5,170.8 475.8,170.9 477,170.8 478.3,170.9 479.6,170.9 480.9,170.8" fill="none" stroke="#0000ff" stroke-width="0.9" stroke-linejoin="round"/>
<polyline points="92.1,169.8 93.4,169.8 94.7,169.9 96,169.9 97.3,169.7 98.6,169.9 99.9,169.8 101.2,169.8 102.5,169.9 103.8,169.9 105.1,169.7 106.4,169.9 107.7,169.8 108.9,169.7 110.2,169.9 111.5,169.9 112.8,169.7 114.1,169.9 115.4,169.9 116.7,169.8 118,169.9 119.3,169.9 120.6,169.8 121.9,169.9 123.2,169.8 124.5,169.7 125.8,169.9 127.1,169.9 128.4,169.8 129.7,169.9 131,169.9 132.3,169.8 133.6,169.9 134.9,169.9 136.2,169.7 137.5,169.9 138.8,169.8 140.1,169.8 141.4,169.9 142.7,169.9 143.9,169.7 145.2,169.9 146.5,169.9 147.8,169.8 149.1,169.9 149.4,169.9 149.5,169.9 149.5,169.9 149.6,169.9 149.6,169.9 149.7,169.9 149.8,169.9 149.8,169.9 149.9,169.9 149.9,169.9 150,169.8 150,169.9 150.1,169.8 150.1,169.7 150.2,169.5 150.3,169.2 150.3,168.6 150.4,167.8 150.4,166.4 150.5,164.3 150.5,161.3 150.6,157.3 150.6,152.1 150.7,145.8 150.8,138.4 150.8,130.5 150.9,122.6 150.9,115.4 151,109.6 151,105.8 151.1,104.4 151.1,108.8 151.2,112.8 151.3,116.6 151.3,120 151.4,123.2 151.4,126.2 151.5,129 151.5,131.6 151.6,134 151.6,136.2 151.7,138.2 151.7,138.9 151.8,140.1 151.8,141.9 151.9,143.6 151.9,145.1 152,146.5 152,147.9 152.1,149.1 152.1,150.2 152.2,151.3 152.3,152.3 152.3,153.2 152.4,154.1 152.4,154.9 152.5,155.7 152.5,156.4 152.6,157 152.6,157.6 152.7,158.1 152.8,158.7 152.8,159.1 152.9,159.6 152.9,160.1 153,160.5 153,160.7 153,160.8 153.1,161.2 153.1,161.5 153.2,161.8 153.3,162.1 153.3,162.4 153.4,162.6 153.4,162.9 153.5,163.1 153.5,163.3 153.6,163.5 153.6,163.6 153.7,163.8 153.8,164 153.8,164.1 153.9,164.3 153.9,164.4 154,164.5 154,164.7 154.1,164.7 154.1,164.9 154.2,165 154.3,165.1 154.3,165.2 154.4,165.2 154.4,165.3 154.5,165.4 154.5,165.5 154.6,165.6 154.6,165.6 154.7,165.7 154.8,165.8 154.8,165.8 154.9,165.9 154.9,165.9 155,166 155,166 155.1,166.1 155.1,166.1 155.2,166.2 155.3,166.2 155.3,166.3 155.4,166.4 155.4,166.4 155.5,166.4 155.5,166.5 155.6,166.5 155.6,166.6 155.6,166.6 155.7,166.7 155.8,166.7 155.8,166.8 155.9,166.8 155.9,166.8 156,166.9 156,166.9 156.1,167 156.1,167 156.2,167 156.3,167.1 156.3,167.1 156.4,167.2 156.4,167.2 156.5,167.2 156.5,167.3 156.6,167.3 156.6,167.3 156.7,167.4 156.8,167.4 156.8,167.5 156.9,167.5 156.9,167.5 156.9,167.5 157,167.6 157,167.6 157.1,167.6 157.1,167.6 157.2,167.7 157.3,167.7 157.3,167.7 157.4,167.7 157.4,167.7 157.5,167.8 157.5,167.8 157.6,167.8 157.6,167.8 157.7,167.9 157.8,167.9 157.8,167.9 157.9,167.9 157.9,167.9 158,167.9 158,167.9 158.1,168 158.1,168 158.2,168 158.3,168 159.5,168.3 160.8,168.8 162.1,169 163.4,169.1 164.7,169.4 166,169.5 167.3,169.4 168.6,169.7 169.9,169.6 171.2,169.6 172.5,169.8 173.8,169.7 175.1,169.7 176.4,169.9 177.6,169.8 178.9,169.7 180.2,169.9 181.5,169.8 182.8,169.8 184.1,169.9 185.4,169.9 186.7,169.8 188,169.9 189.3,169.8 190.6,169.8 191.9,170 193.2,169.8 194.5,169.8 195.8,170 197.1,169.9 198.4,169.8 199.7,170 201,169.9 202.3,169.9 203.6,170 204.9,169.9 206.2,169.9 207.5,170 208.8,170 210,169.9 211.3,170 212.6,169.9 213.9,169.9 215.2,170 216.5,169.9 217.8,169.9 219.1,170 220.4,170 221.7,169.9 223,170 224.3,169.8 225.6,169.7 226.9,169.5 228.2,169 229.5,168.5 230.8,168 232.1,167.2 233.4,166.5 234.7,166.2 236,165.8 237.3,165.9 238.6,166.1 239.9,166.1 241.2,166.3 242.5,166.7 243.7,166.8 245,167.1 246.3,167.6 247.6,167.8 248.9,168.1 250.2,168.5 251.5,168.7 252.8,168.9 254.1,169.3 255.4,169.3 256.7,169.5 258,169.8 259.3,169.8 260.6,169.8 261.9,170 263.2,170 264.5,170 265.8,170.2 267.1,170 268.4,170.1 269.7,170.2 271,170.1 272.3,170.1 273.6,170.2 274.9,170.1 276.1,170.1 277.4,170.3 278.7,170.1 280,170.1 281.3,170.3 282.6,170.1 283.9,170.2 285.2,170.3 286.5,170.2 287.8,170.2 289.1,170.3 290.4,170.2 291.7,170.2 293,170.3 294.3,170.1 295.6,170.2 296.9,170.3 298.2,170.1 299.5,170.2 300.8,170.3 302.1,170.1 303.4,170.1 304.7,170.2 306,169.9 307.3,169.9 308.6,169.9 309.8,169.6 311.1,169.5 312.4,169.5 313.7,169.2 315,169.1 316.3,169.1 317.6,168.8 318.9,168.7 320.2,168.7 321.5,168.5 322.8,168.6 324.1,168.7 325.4,168.6 326.7,168.8 328,169 329.3,169 330.6,169.2 331.9,169.5 333.2,169.5 334.5,169.7 335.8,169.9 337.1,169.9 338.4,170.1 339.7,170.2 341,170.1 342.2,170.3 343.5,170.4 344.8,170.3 346.1,170.3 347.4,170.5 348.7,170.3 350,170.4 351.3,170.5 352.6,170.4 353.9,170.4 355.2,170.5 356.5,170.4 357.8,170.5 359.1,170.5 360.4,170.4 361.7,170.4 363,170.5 364.3,170.4 365.6,170.5 366.9,170.6 368.2,170.4 369.5,170.5 370.8,170.6 372.1,170.4 373.4,170.5 374.7,170.6 376,170.4 377.2,170.5 378.5,170.6 379.8,170.4 381.1,170.6 382.4,170.6 383.7,170.5 385,170.5 386.3,170.6 387.6,170.5 388.9,170.5 390.2,170.6 391.5,170.5 392.8,170.6 394.1,170.6 395.4,170.5 396.7,170.6 398,170.7 399.3,170.5 400.6,170.6 401.9,170.7 403.2,170.5 404.5,170.6 405.8,170.7 407.1,170.5 408.4,170.6 409.7,170.7 410.9,170.5 412.2,170.6 413.5,170.7 414.8,170.6 416.1,170.6 417.4,170.7 418.7,170.6 420,170.7 421.3,170.7 422.6,170.6 423.9,170.7 425.2,170.8 426.5,170.6 427.8,170.7 429.1,170.8 430.4,170.6 431.7,170.7 433,170.8 434.3,170.6 435.6,170.8 436.9,170.8 438.2,170.6 439.5,170.7 440.8,170.8 442.1,170.6 443.3,170.7 444.6,170.8 445.9,170.7 447.2,170.8 448.5,170.8 449.8,170.7 451.1,170.8 452.4,170.8 453.7,170.7 455,170.8 456.3,170.8 457.6,170.7 458.9,170.8 460.2,170.8 461.5,170.7 462.8,170.8 464.1,170.9 465.4,170.7 466.7,170.9 468,170.9 469.3,170.7 470.6,170.8 471.9,170.9 473.2,170.8 474.5,170.8 475.8,170.9 477,170.8 478.3,170.9 479.6,170.9 480.9,170.8" fill="none" stroke="#383838" stroke-width="0.55" stroke-opacity="0.85"/>
<polygon points="78.1,182.4 79.4,182.3 80.8,182.4 82.1,182.4 83.4,182.3 84.8,182.5 86.1,182.4 87.4,182.3 88.8,182.5 90.1,182.4 91.4,182.3 92.8,182.5 94.1,182.4 95.4,182.3 96.8,182.5 98.1,182.4 99.4,182.3 100.8,182.5 102.1,182.4 103.4,182.3 104.8,182.5 106.1,182.4 107.4,182.3 108.8,182.5 110.1,182.4 111.4,182.3 112.8,182.5 114.1,182.4 115.4,182.3 116.8,182.5 118.1,182.4 119.4,182.3 120.8,182.5 122.1,182.4 123.4,182.3 124.8,182.5 126.1,182.4 127.4,182.3 128.8,182.5 130.1,182.4 131.4,182.3 132.8,182.5 134.1,182.4 135.4,182.3 136.1,182.4 136.2,182.4 136.2,182.4 136.3,182.4 136.3,182.4 136.4,182.4 136.4,182.5 136.5,182.4 136.6,182.5 136.6,182.5 136.7,182.5 136.7,182.4 136.8,182.4 136.8,182.3 136.8,182.2 136.9,181.9 137,181.4 137,180.6 137.1,179.2 137.1,177 137.2,173.6 137.2,168.9 137.3,162.4 137.4,154.1 137.4,144 137.5,132.2 137.5,119.6 137.6,106.9 137.6,95.3 137.7,85.9 137.8,79.8 137.8,77.8 137.9,85 137.9,91.7 138,98 138,103.7 138.1,109.1 138.2,114 138.2,118.6 138.3,122.8 138.3,126.8 138.4,130.4 138.4,133.9 138.5,137 138.6,139.9 138.6,142.6 138.7,145.1 138.7,147.5 138.8,149.7 138.8,151.6 138.9,153.5 139,155.2 139,156.9 139.1,158.4 139.1,159.7 139.2,161 139.2,162.2 139.3,163.3 139.4,164.4 139.4,165.3 139.4,165.6 139.5,166.3 139.5,167.1 139.6,167.9 139.6,168.6 139.7,169.3 139.8,169.9 139.8,170.5 139.9,171 139.9,171.6 140,172 140,172.5 140.1,172.9 140.2,173.3 140.2,173.7 140.3,174 140.3,174.3 140.4,174.6 140.4,175 140.5,175.2 140.6,175.5 140.6,175.7 140.7,175.9 140.7,176.1 140.8,176.2 140.8,176.3 140.8,176.5 140.9,176.7 141,176.8 141,177 141.1,177.1 141.1,177.3 141.2,177.4 141.2,177.5 141.3,177.6 141.4,177.7 141.4,177.8 141.5,177.9 141.5,178 141.6,178.1 141.6,178.2 141.7,178.3 141.8,178.3 141.8,178.4 141.9,178.5 141.9,178.5 142,178.6 142,178.7 142.1,178.7 142.2,178.8 142.2,178.8 142.3,178.9 142.3,178.9 142.4,178.9 142.4,179 142.5,179 142.6,179.1 142.6,179.1 142.7,179.1 142.7,179.2 142.8,179.2 142.8,179.3 142.9,179.3 143,179.3 143,179.4 143.1,179.4 143.1,179.5 143.2,179.5 143.2,179.5 143.3,179.6 143.4,179.6 143.4,179.6 143.4,179.6 143.5,179.7 143.5,179.7 143.6,179.7 143.6,179.8 143.7,179.9 143.8,179.9 143.8,179.9 143.9,180 143.9,180 144,180 144,180 144.1,180.1 144.2,180.1 144.2,180.1 144.3,180.2 144.3,180.2 144.4,180.3 144.4,180.3 144.5,180.3 144.6,180.4 144.6,180.4 144.7,180.4 144.7,180.4 144.8,180.4 144.8,180.4 144.8,180.5 144.9,180.5 145,180.5 145,180.5 145.1,180.6 145.1,180.6 145.2,180.6 146.1,180.9 147.4,181.1 148.8,181.6 150.1,181.7 151.4,181.8 152.8,182 154.1,182 155.4,182.1 156.8,182.3 158.1,182.2 159.4,182.2 160.8,182.4 162.1,182.3 163.4,182.3 164.8,182.5 166.1,182.4 167.4,182.3 168.8,182.5 170.1,182.4 171.4,182.4 172.8,182.5 174.1,182.4 175.4,182.4 176.8,182.5 178.1,182.4 179.4,182.4 180.8,182.5 182.1,182.5 183.4,182.4 184.8,182.6 186.1,182.5 187.4,182.4 188.8,182.6 190.1,182.5 191.4,182.5 192.8,182.6 194.1,182.5 195.4,182.5 196.8,182.6 198.1,182.5 199.4,182.5 200.8,182.6 202.1,182.5 203.4,182.5 204.8,182.6 206.1,182.5 207.4,182.5 208.8,182.6 210.1,182.5 211.4,182.5 212.8,182.6 214.1,182.5 215.4,182.4 216.8,182.3 218.1,181.9 219.4,181.4 220.8,181 222.1,180.2 223.4,179.4 224.8,178.7 226.1,177.9 227.4,177.7 228.8,177.7 230.1,177.7 231.4,177.9 232.8,178.2 234.1,178.4 235.4,178.7 236.8,179.2 238.1,179.5 239.4,179.9 240.8,180.4 242.1,180.6 243.4,180.9 244.8,181.4 246.1,181.5 247.4,181.7 248.8,182.1 250.1,182.1 251.4,182.3 252.8,182.5 254.1,182.4 255.4,182.5 256.8,182.7 258.1,182.6 259.4,182.6 260.8,182.8 262.1,182.7 263.4,182.7 264.8,182.8 266.1,182.7 267.4,182.7 268.8,182.9 270.1,182.7 271.4,182.7 272.8,182.9 274.1,182.7 275.4,182.7 276.8,182.9 278.1,182.7 279.4,182.7 280.8,182.9 282.1,182.8 283.4,182.8 284.8,182.9 286.1,182.8 287.4,182.7 288.8,182.8 290.1,182.6 291.4,182.6 292.8,182.6 294.1,182.4 295.4,182.3 296.8,182.3 298.1,182 299.4,181.9 300.8,181.9 302.1,181.6 303.4,181.4 304.8,181.4 306.1,181.2 307.4,181.2 308.8,181.2 310.1,181.1 311.4,181.2 312.8,181.3 314.1,181.3 315.4,181.5 316.8,181.7 318.1,181.8 319.4,181.9 320.8,182.2 322.1,182.2 323.4,182.4 324.8,182.6 326.1,182.6 327.4,182.8 328.8,182.9 330.1,182.8 331.4,182.9 332.8,183 334.1,182.9 335.4,182.9 336.8,183.1 338.1,182.9 339.4,183 340.8,183.1 342.1,183 343.4,183 344.8,183.1 346.1,183 347.4,183 348.8,183.1 350.1,183 351.4,183.1 352.8,183.1 354.1,183 355.4,183.1 356.8,183.2 358.1,183 359.4,183.1 360.8,183.2 362.1,183 363.4,183.1 364.8,183.2 366.1,183.1 367.5,183.1 368.8,183.2 370.1,183.1 371.5,183.1 372.8,183.2 374.1,183.1 375.5,183.1 376.8,183.2 378.1,183.1 379.5,183.2 380.8,183.2 382.1,183.1 383.5,183.2 384.8,183.3 386.1,183.1 387.5,183.2 388.8,183.3 390.1,183.1 391.5,183.2 392.8,183.3 394.1,183.1 395.5,183.2 396.8,183.3 398.1,183.1 399.5,183.2 400.8,183.3 402.1,183.1 403.5,183.2 404.8,183.3 406.1,183.2 407.5,183.2 408.8,183.3 410.1,183.2 411.5,183.3 412.8,183.3 414.1,183.2 415.5,183.3 416.8,183.4 418.1,183.2 419.5,183.3 420.8,183.4 422.1,183.2 423.5,183.3 424.8,183.4 426.1,183.2 427.5,183.3 428.8,183.4 430.1,183.2 431.5,183.3 432.8,183.4 434.1,183.3 435.5,183.4 436.8,183.4 438.1,183.3 439.5,183.4 440.8,183.4 442.1,183.3 443.5,183.4 444.8,183.4 446.1,183.3 447.5,183.4 448.8,183.4 450.1,183.3 451.5,183.5 452.8,183.5 454.1,183.3 455.5,183.4 456.8,183.5 458.1,183.3 459.5,183.5 460.8,183.5 462.1,183.4 463.5,183.5 464.8,183.5 466.1,183.4 467.5,183.5 468.8,183.5 470.1,183.4 471.5,183.5 472.8,183.5 474.1,183.4 475.5,183.5 476.8,183.6 478.1,183.4 478.1,187.4 78.1,187.4" fill="#ff8000"/>
<polyline points="78.1,182.4 79.4,182.3 80.8,182.4 82.1,182.4 83.4,182.3 84.8,182.5 86.1,182.4 87.4,182.3 88.8,182.5 90.1,182.4 91.4,182.3 92.8,182.5 94.1,182.4 95.4,182.3 96.8,182.5 98.1,182.4 99.4,182.3 100.8,182.5 102.1,182.4 103.4,182.3 104.8,182.5 106.1,182.4 107.4,182.3 108.8,182.5 110.1,182.4 111.4,182.3 112.8,182.5 114.1,182.4 115.4,182.3 116.8,182.5 118.1,182.4 119.4,182.3 120.8,182.5 122.1,182.4 123.4,182.3 124.8,182.5 126.1,182.4 127.4,182.3 128.8,182.5 130.1,182.4 131.4,182.3 132.8,182.5 134.1,182.4 135.4,182.3 136.1,182.4 136.2,182.4 136.2,182.4 136.3,182.4 136.3,182.4 136.4,182.4 136.4,182.5 136.5,182.4 136.6,182.5 136.6,182.5 136.7,182.5 136.7,182.4 136.8,182.4 136.8,182.3 136.8,182.2 136.9,181.9 137,181.4 137,180.6 137.1,179.2 137.1,177 137.2,173.6 137.2,168.9 137.3,162.4 137.4,154.1 137.4,144 137.5,132.2 137.5,119.6 137.6,106.9 137.6,95.3 137.7,85.9 137.8,79.8 137.8,77.8 137.9,85 137.9,91.7 138,98 138,103.7 138.1,109.1 138.2,114 138.2,118.6 138.3,122.8 138.3,126.8 138.4,130.4 138.4,133.9 138.5,137 138.6,139.9 138.6,142.6 138.7,145.1 138.7,147.5 138.8,149.7 138.8,151.6 138.9,153.5 139,155.2 139,156.9 139.1,158.4 139.1,159.7 139.2,161 139.2,162.2 139.3,163.3 139.4,164.4 139.4,165.3 139.4,165.6 139.5,166.3 139.5,167.1 139.6,167.9 139.6,168.6 139.7,169.3 139.8,169.9 139.8,170.5 139.9,171 139.9,171.6 140,172 140,172.5 140.1,172.9 140.2,173.3 140.2,173.7 140.3,174 140.3,174.3 140.4,174.6 140.4,175 140.5,175.2 140.6,175.5 140.6,175.7 140.7,175.9 140.7,176.1 140.8,176.2 140.8,176.3 140.8,176.5 140.9,176.7 141,176.8 141,177 141.1,177.1 141.1,177.3 141.2,177.4 141.2,177.5 141.3,177.6 141.4,177.7 141.4,177.8 141.5,177.9 141.5,178 141.6,178.1 141.6,178.2 141.7,178.3 141.8,178.3 141.8,178.4 141.9,178.5 141.9,178.5 142,178.6 142,178.7 142.1,178.7 142.2,178.8 142.2,178.8 142.3,178.9 142.3,178.9 142.4,178.9 142.4,179 142.5,179 142.6,179.1 142.6,179.1 142.7,179.1 142.7,179.2 142.8,179.2 142.8,179.3 142.9,179.3 143,179.3 143,179.4 143.1,179.4 143.1,179.5 143.2,179.5 143.2,179.5 143.3,179.6 143.4,179.6 143.4,179.6 143.4,179.6 143.5,179.7 143.5,179.7 143.6,179.7 143.6,179.8 143.7,179.9 143.8,179.9 143.8,179.9 143.9,180 143.9,180 144,180 144,180 144.1,180.1 144.2,180.1 144.2,180.1 144.3,180.2 144.3,180.2 144.4,180.3 144.4,180.3 144.5,180.3 144.6,180.4 144.6,180.4 144.7,180.4 144.7,180.4 144.8,180.4 144.8,180.4 144.8,180.5 144.9,180.5 145,180.5 145,180.5 145.1,180.6 145.1,180.6 145.2,180.6 146.1,180.9 147.4,181.1 148.8,181.6 150.1,181.7 151.4,181.8 152.8,182 154.1,182 155.4,182.1 156.8,182.3 158.1,182.2 159.4,182.2 160.8,182.4 162.1,182.3 163.4,182.3 164.8,182.5 166.1,182.4 167.4,182.3 168.8,182.5 170.1,182.4 171.4,182.4 172.8,182.5 174.1,182.4 175.4,182.4 176.8,182.5 178.1,182.4 179.4,182.4 180.8,182.5 182.1,182.5 183.4,182.4 184.8,182.6 186.1,182.5 187.4,182.4 188.8,182.6 190.1,182.5 191.4,182.5 192.8,182.6 194.1,182.5 195.4,182.5 196.8,182.6 198.1,182.5 199.4,182.5 200.8,182.6 202.1,182.5 203.4,182.5 204.8,182.6 206.1,182.5 207.4,182.5 208.8,182.6 210.1,182.5 211.4,182.5 212.8,182.6 214.1,182.5 215.4,182.4 216.8,182.3 218.1,181.9 219.4,181.4 220.8,181 222.1,180.2 223.4,179.4 224.8,178.7 226.1,177.9 227.4,177.7 228.8,177.7 230.1,177.7 231.4,177.9 232.8,178.2 234.1,178.4 235.4,178.7 236.8,179.2 238.1,179.5 239.4,179.9 240.8,180.4 242.1,180.6 243.4,180.9 244.8,181.4 246.1,181.5 247.4,181.7 248.8,182.1 250.1,182.1 251.4,182.3 252.8,182.5 254.1,182.4 255.4,182.5 256.8,182.7 258.1,182.6 259.4,182.6 260.8,182.8 262.1,182.7 263.4,182.7 264.8,182.8 266.1,182.7 267.4,182.7 268.8,182.9 270.1,182.7 271.4,182.7 272.8,182.9 274.1,182.7 275.4,182.7 276.8,182.9 278.1,182.7 279.4,182.7 280.8,182.9 282.1,182.8 283.4,182.8 284.8,182.9 286.1,182.8 287.4,182.7 288.8,182.8 290.1,182.6 291.4,182.6 292.8,182.6 294.1,182.4 295.4,182.3 296.8,182.3 298.1,182 299.4,181.9 300.8,181.9 302.1,181.6 303.4,181.4 304.8,181.4 306.1,181.2 307.4,181.2 308.8,181.2 310.1,181.1 311.4,181.2 312.8,181.3 314.1,181.3 315.4,181.5 316.8,181.7 318.1,181.8 319.4,181.9 320.8,182.2 322.1,182.2 323.4,182.4 324.8,182.6 326.1,182.6 327.4,182.8 328.8,182.9 330.1,182.8 331.4,182.9 332.8,183 334.1,182.9 335.4,182.9 336.8,183.1 338.1,182.9 339.4,183 340.8,183.1 342.1,183 343.4,183 344.8,183.1 346.1,183 347.4,183 348.8,183.1 350.1,183 351.4,183.1 352.8,183.1 354.1,183 355.4,183.1 356.8,183.2 358.1,183 359.4,183.1 360.8,183.2 362.1,183 363.4,183.1 364.8,183.2 366.1,183.1 367.5,183.1 368.8,183.2 370.1,183.1 371.5,183.1 372.8,183.2 374.1,183.1 375.5,183.1 376.8,183.2 378.1,183.1 379.5,183.2 380.8,183.2 382.1,183.1 383.5,183.2 384.8,183.3 386.1,183.1 387.5,183.2 388.8,183.3 390.1,183.1 391.5,183.2 392.8,183.3 394.1,183.1 395.5,183.2 396.8,183.3 398.1,183.1 399.5,183.2 400.8,183.3 402.1,183.1 403.5,183.2 404.8,183.3 406.1,183.2 407.5,183.2 408.8,183.3 410.1,183.2 411.5,183.3 412.8,183.3 414.1,183.2 415.5,183.3 416.8,183.4 418.1,183.2 419.5,183.3 420.8,183.4 422.1,183.2 423.5,183.3 424.8,183.4 426.1,183.2 427.5,183.3 428.8,183.4 430.1,183.2 431.5,183.3 432.8,183.4 434.1,183.3 435.5,183.4 436.8,183.4 438.1,183.3 439.5,183.4 440.8,183.4 442.1,183.3 443.5,183.4 444.8,183.4 446.1,183.3 447.5,183.4 448.8,183.4 450.1,183.3 451.5,183.5 452.8,183.5 454.1,183.3 455.5,183.4 456.8,183.5 458.1,183.3 459.5,183.5 460.8,183.5 462.1,183.4 463.5,183.5 464.8,183.5 466.1,183.4 467.5,183.5 468.8,183.5 470.1,183.4 471.5,183.5 472.8,183.5 474.1,183.4 475.5,183.5 476.8,183.6 478.1,183.4" fill="none" stroke="#ff8000" stroke-width="0.9" stroke-linejoin="round"/>
<polyline points="78.1,182.4 79.4,182.3 80.8,182.4 82.1,182.4 83.4,182.3 84.8,182.5 86.1,182.4 87.4,182.3 88.8,182.5 90.1,182.4 91.4,182.3 92.8,182.5 94.1,182.4 95.4,182.3 96.8,182.5 98.1,182.4 99.4,182.3 100.8,182.5 102.1,182.4 103.4,182.3 104.8,182.5 106.1,182.4 107.4,182.3 108.8,182.5 110.1,182.4 111.4,182.3 112.8,182.5 114.1,182.4 115.4,182.3 116.8,182.5 118.1,182.4 119.4,182.3 120.8,182.5 122.1,182.4 123.4,182.3 124.8,182.5 126.1,182.4 127.4,182.3 128.8,182.5 130.1,182.4 131.4,182.3 132.8,182.5 134.1,182.4 135.4,182.3 136.1,182.4 136.2,182.4 136.2,182.4 136.3,182.4 136.3,182.4 136.4,182.4 136.4,182.5 136.5,182.4 136.6,182.5 136.6,182.5 136.7,182.5 136.7,182.4 136.8,182.4 136.8,182.3 136.8,182.2 136.9,181.9 137,181.4 137,180.6 137.1,179.2 137.1,177 137.2,173.6 137.2,168.9 137.3,162.4 137.4,154.1 137.4,144 137.5,132.2 137.5,119.6 137.6,106.9 137.6,95.3 137.7,85.9 137.8,79.8 137.8,77.8 137.9,85 137.9,91.7 138,98 138,103.7 138.1,109.1 138.2,114 138.2,118.6 138.3,122.8 138.3,126.8 138.4,130.4 138.4,133.9 138.5,137 138.6,139.9 138.6,142.6 138.7,145.1 138.7,147.5 138.8,149.7 138.8,151.6 138.9,153.5 139,155.2 139,156.9 139.1,158.4 139.1,159.7 139.2,161 139.2,162.2 139.3,163.3 139.4,164.4 139.4,165.3 139.4,165.6 139.5,166.3 139.5,167.1 139.6,167.9 139.6,168.6 139.7,169.3 139.8,169.9 139.8,170.5 139.9,171 139.9,171.6 140,172 140,172.5 140.1,172.9 140.2,173.3 140.2,173.7 140.3,174 140.3,174.3 140.4,174.6 140.4,175 140.5,175.2 140.6,175.5 140.6,175.7 140.7,175.9 140.7,176.1 140.8,176.2 140.8,176.3 140.8,176.5 140.9,176.7 141,176.8 141,177 141.1,177.1 141.1,177.3 141.2,177.4 141.2,177.5 141.3,177.6 141.4,177.7 141.4,177.8 141.5,177.9 141.5,178 141.6,178.1 141.6,178.2 141.7,178.3 141.8,178.3 141.8,178.4 141.9,178.5 141.9,178.5 142,178.6 142,178.7 142.1,178.7 142.2,178.8 142.2,178.8 142.3,178.9 142.3,178.9 142.4,178.9 142.4,179 142.5,179 142.6,179.1 142.6,179.1 142.7,179.1 142.7,179.2 142.8,179.2 142.8,179.3 142.9,179.3 143,179.3 143,179.4 143.1,179.4 143.1,179.5 143.2,179.5 143.2,179.5 143.3,179.6 143.4,179.6 143.4,179.6 143.4,179.6 143.5,179.7 143.5,179.7 143.6,179.7 143.6,179.8 143.7,179.9 143.8,179.9 143.8,179.9 143.9,180 143.9,180 144,180 144,180 144.1,180.1 144.2,180.1 144.2,180.1 144.3,180.2 144.3,180.2 144.4,180.3 144.4,180.3 144.5,180.3 144.6,180.4 144.6,180.4 144.7,180.4 144.7,180.4 144.8,180.4 144.8,180.4 144.8,180.5 144.9,180.5 145,180.5 145,180.5 145.1,180.6 145.1,180.6 145.2,180.6 146.1,180.9 147.4,181.1 148.8,181.6 150.1,181.7 151.4,181.8 152.8,182 154.1,182 155.4,182.1 156.8,182.3 158.1,182.2 159.4,182.2 160.8,182.4 162.1,182.3 163.4,182.3 164.8,182.5 166.1,182.4 167.4,182.3 168.8,182.5 170.1,182.4 171.4,182.4 172.8,182.5 174.1,182.4 175.4,182.4 176.8,182.5 178.1,182.4 179.4,182.4 180.8,182.5 182.1,182.5 183.4,182.4 184.8,182.6 186.1,182.5 187.4,182.4 188.8,182.6 190.1,182.5 191.4,182.5 192.8,182.6 194.1,182.5 195.4,182.5 196.8,182.6 198.1,182.5 199.4,182.5 200.8,182.6 202.1,182.5 203.4,182.5 204.8,182.6 206.1,182.5 207.4,182.5 208.8,182.6 210.1,182.5 211.4,182.5 212.8,182.6 214.1,182.5 215.4,182.4 216.8,182.3 218.1,181.9 219.4,181.4 220.8,181 222.1,180.2 223.4,179.4 224.8,178.7 226.1,177.9 227.4,177.7 228.8,177.7 230.1,177.7 231.4,177.9 232.8,178.2 234.1,178.4 235.4,178.7 236.8,179.2 238.1,179.5 239.4,179.9 240.8,180.4 242.1,180.6 243.4,180.9 244.8,181.4 246.1,181.5 247.4,181.7 248.8,182.1 250.1,182.1 251.4,182.3 252.8,182.5 254.1,182.4 255.4,182.5 256.8,182.7 258.1,182.6 259.4,182.6 260.8,182.8 262.1,182.7 263.4,182.7 264.8,182.8 266.1,182.7 267.4,182.7 268.8,182.9 270.1,182.7 271.4,182.7 272.8,182.9 274.1,182.7 275.4,182.7 276.8,182.9 278.1,182.7 279.4,182.7 280.8,182.9 282.1,182.8 283.4,182.8 284.8,182.9 286.1,182.8 287.4,182.7 288.8,182.8 290.1,182.6 291.4,182.6 292.8,182.6 294.1,182.4 295.4,182.3 296.8,182.3 298.1,182 299.4,181.9 300.8,181.9 302.1,181.6 303.4,181.4 304.8,181.4 306.1,181.2 307.4,181.2 308.8,181.2 310.1,181.1 311.4,181.2 312.8,181.3 314.1,181.3 315.4,181.5 316.8,181.7 318.1,181.8 319.4,181.9 320.8,182.2 322.1,182.2 323.4,182.4 324.8,182.6 326.1,182.6 327.4,182.8 328.8,182.9 330.1,182.8 331.4,182.9 332.8,183 334.1,182.9 335.4,182.9 336.8,183.1 338.1,182.9 339.4,183 340.8,183.1 342.1,183 343.4,183 344.8,183.1 346.1,183 347.4,183 348.8,183.1 350.1,183 351.4,183.1 352.8,183.1 354.1,183 355.4,183.1 356.8,183.2 358.1,183 359.4,183.1 360.8,183.2 362.1,183 363.4,183.1 364.8,183.2 366.1,183.1 367.5,183.1 368.8,183.2 370.1,183.1 371.5,183.1 372.8,183.2 374.1,183.1 375.5,183.1 376.8,183.2 378.1,183.1 379.5,183.2 380.8,183.2 382.1,183.1 383.5,183.2 384.8,183.3 386.1,183.1 387.5,183.2 388.8,183.3 390.1,183.1 391.5,183.2 392.8,183.3 394.1,183.1 395.5,183.2 396.8,183.3 398.1,183.1 399.5,183.2 400.8,183.3 402.1,183.1 403.5,183.2 404.8,183.3 406.1,183.2 407.5,183.2 408.8,183.3 410.1,183.2 411.5,183.3 412.8,183.3 414.1,183.2 415.5,183.3 416.8,183.4 418.1,183.2 419.5,183.3 420.8,183.4 422.1,183.2 423.5,183.3 424.8,183.4 426.1,183.2 427.5,183.3 428.8,183.4 430.1,183.2 431.5,183.3 432.8,183.4 434.1,183.3 435.5,183.4 436.8,183.4 438.1,183.3 439.5,183.4 440.8,183.4 442.1,183.3 443.5,183.4 444.8,183.4 446.1,183.3 447.5,183.4 448.8,183.4 450.1,183.3 451.5,183.5 452.8,183.5 454.1,183.3 455.5,183.4 456.8,183.5 458.1,183.3 459.5,183.5 460.8,183.5 462.1,183.4 463.5,183.5 464.8,183.5 466.1,183.4 467.5,183.5 468.8,183.5 470.1,183.4 471.5,183.5 472.8,183.5 474.1,183.4 475.5,183.5 476.8,183.6 478.1,183.4" fill="none" stroke="#383838" stroke-width="0.55" stroke-opacity="0.85"/>
<polygon points="63.3,195.3 64.6,195.2 66,195.4 67.4,195.4 68.7,195.2 70.1,195.4 71.5,195.4 72.9,195.3 74.2,195.4 75.6,195.3 77,195.2 78.4,195.4 79.7,195.4 81.1,195.2 82.5,195.4 83.8,195.4 85.2,195.3 86.6,195.4 88,195.3 89.3,195.2 90.7,195.4 92.1,195.3 93.5,195.2 94.8,195.4 96.2,195.3 97.6,195.3 99,195.4 100.3,195.3 101.7,195.2 103.1,195.4 104.4,195.4 105.8,195.2 107.2,195.4 108.6,195.3 109.9,195.2 111.3,195.4 112.7,195.4 114.1,195.2 115.4,195.4 116.8,195.3 118.2,195.2 119.5,195.4 120.9,195.3 121.6,195.2 121.6,195.2 121.7,195.3 121.7,195.2 121.8,195.2 121.9,195.2 121.9,195.2 122,195.2 122,195.2 122.1,195.2 122.2,195.2 122.2,195.2 122.3,195.1 122.3,195 122.3,194.9 122.4,194.6 122.5,193.9 122.5,192.8 122.6,191.1 122.6,188.3 122.7,184.1 122.7,178.2 122.8,170.1 122.9,159.6 122.9,146.9 123,132.1 123,116.3 123.1,100.3 123.2,85.8 123.2,74 123.3,66.3 123.3,63.7 123.4,72.9 123.5,81.5 123.5,89.5 123.6,96.8 123.6,103.6 123.7,108.1 123.7,110 123.7,115.8 123.8,121.2 123.9,126.3 123.9,130.9 124,135.2 124,139.3 124.1,143 124.2,146.4 124.2,149.6 124.3,152.6 124.3,155.3 124.4,157.8 124.5,160.2 124.5,162.4 124.6,164.4 124.6,166.3 124.7,168 124.7,169.7 124.8,171.2 124.9,172.6 124.9,173.9 125,175 125,176.2 125.1,177.3 125.2,178.2 125.2,179.1 125.3,180 125.3,180.8 125.4,181.4 125.5,182.1 125.5,182.7 125.6,183.3 125.6,183.9 125.7,184.4 125.7,184.8 125.8,185.3 125.9,185.7 125.9,186.1 126,186.5 126,186.8 126.1,187.1 126.2,187.4 126.2,187.7 126.3,188 126.3,188.2 126.4,188.5 126.4,188.5 126.5,188.7 126.5,188.9 126.6,189.1 126.6,189.3 126.7,189.4 126.7,189.7 126.8,189.8 126.9,189.9 126.9,190.1 127,190.2 127,190.3 127.1,190.5 127.2,190.6 127.2,190.7 127.3,190.8 127.3,190.9 127.4,191 127.5,191.1 127.5,191.2 127.6,191.2 127.6,191.4 127.7,191.4 127.7,191.5 127.8,191.6 127.8,191.6 127.9,191.6 127.9,191.7 128,191.8 128,191.8 128.1,191.9 128.2,191.9 128.2,192 128.3,192 128.3,192.1 128.4,192.1 128.5,192.2 128.5,192.2 128.6,192.3 128.6,192.3 128.7,192.3 128.7,192.4 128.8,192.4 128.9,192.4 128.9,192.5 129,192.5 129,192.5 129.1,192.5 129.2,192.6 129.2,192.6 129.3,192.6 129.3,192.7 129.4,192.7 129.5,192.7 129.5,192.7 129.6,192.7 129.6,192.8 129.7,192.8 129.7,192.8 129.8,192.9 129.9,192.9 129.9,192.9 130,192.9 130,193 130.1,193 130.2,193 130.2,193 130.3,193.1 130.3,193.1 130.4,193.1 130.5,193.1 130.5,193.1 130.5,193.2 130.6,193.2 130.6,193.2 130.7,193.3 130.7,193.3 130.8,193.3 130.9,193.4 130.9,193.3 131.9,193.8 133.3,194.1 134.6,194.3 136,194.6 137.4,194.7 138.8,194.8 140.1,195.1 141.5,195.1 142.9,195 144.3,195.3 145.6,195.2 147,195.2 148.4,195.3 149.8,195.3 151.1,195.2 152.5,195.4 153.9,195.3 155.2,195.3 156.6,195.4 158,195.3 159.4,195.3 160.7,195.4 162.1,195.4 163.5,195.3 164.9,195.5 166.2,195.4 167.6,195.3 169,195.5 170.3,195.3 171.7,195.4 173.1,195.5 174.5,195.4 175.8,195.3 177.2,195.5 178.6,195.4 180,195.4 181.3,195.5 182.7,195.4 184.1,195.4 185.5,195.5 186.8,195.4 188.2,195.4 189.6,195.6 190.9,195.4 192.3,195.4 193.7,195.6 195.1,195.4 196.4,195.5 197.8,195.6 199.2,195.5 200.6,195.4 201.9,195.5 203.3,195.2 204.7,194.9 206,194.6 207.4,193.7 208.8,192.7 210.2,191.7 211.5,190.4 212.9,189.5 214.3,189.1 215.7,189 217,189.1 218.4,189.5 219.8,189.8 221.1,190.1 222.5,190.8 223.9,191.2 225.3,191.8 226.6,192.4 228,192.8 229.4,193.3 230.8,193.9 232.1,194.1 233.5,194.4 234.9,194.9 236.3,195 237.6,195.1 239,195.4 240.4,195.4 241.7,195.5 243.1,195.6 244.5,195.6 245.9,195.6 247.2,195.7 248.6,195.6 250,195.7 251.4,195.8 252.7,195.7 254.1,195.7 255.5,195.8 256.8,195.7 258.2,195.7 259.6,195.8 261,195.7 262.3,195.7 263.7,195.8 265.1,195.7 266.5,195.7 267.8,195.8 269.2,195.6 270.6,195.6 272,195.7 273.3,195.5 274.7,195.4 276.1,195.4 277.4,195.1 278.8,195 280.2,194.9 281.6,194.6 282.9,194.3 284.3,194.2 285.7,193.9 287.1,193.7 288.4,193.6 289.8,193.3 291.2,193.3 292.5,193.4 293.9,193.3 295.3,193.4 296.7,193.6 298,193.7 299.4,193.9 300.8,194.2 302.2,194.4 303.5,194.6 304.9,194.9 306.3,195 307.6,195.2 309,195.5 310.4,195.5 311.8,195.7 313.1,195.8 314.5,195.7 315.9,195.8 317.3,196 318.6,195.8 320,195.9 321.4,196 322.8,195.9 324.1,196 325.5,196.1 326.9,195.9 328.2,196 329.6,196.1 331,196 332.4,196 333.7,196.1 335.1,196 336.5,196 337.9,196.1 339.2,196 340.6,196 342,196.2 343.3,196 344.7,196 346.1,196.2 347.5,196 348.8,196.1 350.2,196.2 351.6,196 353,196.1 354.3,196.2 355.7,196.1 357.1,196.1 358.5,196.2 359.8,196 361.2,196.1 362.6,196.2 363.9,196.1 365.3,196.2 366.7,196.2 368.1,196.1 369.4,196.2 370.8,196.2 372.2,196.1 373.6,196.2 374.9,196.3 376.3,196.1 377.7,196.2 379,196.3 380.4,196.2 381.8,196.2 383.2,196.3 384.5,196.1 385.9,196.2 387.3,196.3 388.7,196.1 390,196.2 391.4,196.3 392.8,196.2 394.1,196.3 395.5,196.3 396.9,196.2 398.3,196.3 399.6,196.3 401,196.2 402.4,196.3 403.8,196.4 405.1,196.2 406.5,196.3 407.9,196.4 409.3,196.2 410.6,196.3 412,196.4 413.4,196.2 414.7,196.4 416.1,196.4 417.5,196.3 418.9,196.3 420.2,196.4 421.6,196.3 423,196.4 424.4,196.5 425.7,196.3 427.1,196.4 428.5,196.5 429.8,196.3 431.2,196.4 432.6,196.5 434,196.3 435.3,196.5 436.7,196.5 438.1,196.3 439.5,196.5 440.8,196.5 442.2,196.4 443.6,196.4 445,196.5 446.3,196.4 447.7,196.5 449.1,196.5 450.4,196.4 451.8,196.5 453.2,196.6 454.6,196.4 455.9,196.6 457.3,196.6 458.7,196.4 460,196.5 461.4,196.6 462.8,196.4 464.2,196.6 465.5,196.6 466.9,196.5 468.3,196.6 469.7,196.6 471,196.5 472.4,196.6 473.8,196.6 475.2,196.5 475.2,201 63.3,201" fill="#ff0000"/>
<polyline points="63.3,195.3 64.6,195.2 66,195.4 67.4,195.4 68.7,195.2 70.1,195.4 71.5,195.4 72.9,195.3 74.2,195.4 75.6,195.3 77,195.2 78.4,195.4 79.7,195.4 81.1,195.2 82.5,195.4 83.8,195.4 85.2,195.3 86.6,195.4 88,195.3 89.3,195.2 90.7,195.4 92.1,195.3 93.5,195.2 94.8,195.4 96.2,195.3 97.6,195.3 99,195.4 100.3,195.3 101.7,195.2 103.1,195.4 104.4,195.4 105.8,195.2 107.2,195.4 108.6,195.3 109.9,195.2 111.3,195.4 112.7,195.4 114.1,195.2 115.4,195.4 116.8,195.3 118.2,195.2 119.5,195.4 120.9,195.3 121.6,195.2 121.6,195.2 121.7,195.3 121.7,195.2 121.8,195.2 121.9,195.2 121.9,195.2 122,195.2 122,195.2 122.1,195.2 122.2,195.2 122.2,195.2 122.3,195.1 122.3,195 122.3,194.9 122.4,194.6 122.5,193.9 122.5,192.8 122.6,191.1 122.6,188.3 122.7,184.1 122.7,178.2 122.8,170.1 122.9,159.6 122.9,146.9 123,132.1 123,116.3 123.1,100.3 123.2,85.8 123.2,74 123.3,66.3 123.3,63.7 123.4,72.9 123.5,81.5 123.5,89.5 123.6,96.8 123.6,103.6 123.7,108.1 123.7,110 123.7,115.8 123.8,121.2 123.9,126.3 123.9,130.9 124,135.2 124,139.3 124.1,143 124.2,146.4 124.2,149.6 124.3,152.6 124.3,155.3 124.4,157.8 124.5,160.2 124.5,162.4 124.6,164.4 124.6,166.3 124.7,168 124.7,169.7 124.8,171.2 124.9,172.6 124.9,173.9 125,175 125,176.2 125.1,177.3 125.2,178.2 125.2,179.1 125.3,180 125.3,180.8 125.4,181.4 125.5,182.1 125.5,182.7 125.6,183.3 125.6,183.9 125.7,184.4 125.7,184.8 125.8,185.3 125.9,185.7 125.9,186.1 126,186.5 126,186.8 126.1,187.1 126.2,187.4 126.2,187.7 126.3,188 126.3,188.2 126.4,188.5 126.4,188.5 126.5,188.7 126.5,188.9 126.6,189.1 126.6,189.3 126.7,189.4 126.7,189.7 126.8,189.8 126.9,189.9 126.9,190.1 127,190.2 127,190.3 127.1,190.5 127.2,190.6 127.2,190.7 127.3,190.8 127.3,190.9 127.4,191 127.5,191.1 127.5,191.2 127.6,191.2 127.6,191.4 127.7,191.4 127.7,191.5 127.8,191.6 127.8,191.6 127.9,191.6 127.9,191.7 128,191.8 128,191.8 128.1,191.9 128.2,191.9 128.2,192 128.3,192 128.3,192.1 128.4,192.1 128.5,192.2 128.5,192.2 128.6,192.3 128.6,192.3 128.7,192.3 128.7,192.4 128.8,192.4 128.9,192.4 128.9,192.5 129,192.5 129,192.5 129.1,192.5 129.2,192.6 129.2,192.6 129.3,192.6 129.3,192.7 129.4,192.7 129.5,192.7 129.5,192.7 129.6,192.7 129.6,192.8 129.7,192.8 129.7,192.8 129.8,192.9 129.9,192.9 129.9,192.9 130,192.9 130,193 130.1,193 130.2,193 130.2,193 130.3,193.1 130.3,193.1 130.4,193.1 130.5,193.1 130.5,193.1 130.5,193.2 130.6,193.2 130.6,193.2 130.7,193.3 130.7,193.3 130.8,193.3 130.9,193.4 130.9,193.3 131.9,193.8 133.3,194.1 134.6,194.3 136,194.6 137.4,194.7 138.8,194.8 140.1,195.1 141.5,195.1 142.9,195 144.3,195.3 145.6,195.2 147,195.2 148.4,195.3 149.8,195.3 151.1,195.2 152.5,195.4 153.9,195.3 155.2,195.3 156.6,195.4 158,195.3 159.4,195.3 160.7,195.4 162.1,195.4 163.5,195.3 164.9,195.5 166.2,195.4 167.6,195.3 169,195.5 170.3,195.3 171.7,195.4 173.1,195.5 174.5,195.4 175.8,195.3 177.2,195.5 178.6,195.4 180,195.4 181.3,195.5 182.7,195.4 184.1,195.4 185.5,195.5 186.8,195.4 188.2,195.4 189.6,195.6 190.9,195.4 192.3,195.4 193.7,195.6 195.1,195.4 196.4,195.5 197.8,195.6 199.2,195.5 200.6,195.4 201.9,195.5 203.3,195.2 204.7,194.9 206,194.6 207.4,193.7 208.8,192.7 210.2,191.7 211.5,190.4 212.9,189.5 214.3,189.1 215.7,189 217,189.1 218.4,189.5 219.8,189.8 221.1,190.1 222.5,190.8 223.9,191.2 225.3,191.8 226.6,192.4 228,192.8 229.4,193.3 230.8,193.9 232.1,194.1 233.5,194.4 234.9,194.9 236.3,195 237.6,195.1 239,195.4 240.4,195.4 241.7,195.5 243.1,195.6 244.5,195.6 245.9,195.6 247.2,195.7 248.6,195.6 250,195.7 251.4,195.8 252.7,195.7 254.1,195.7 255.5,195.8 256.8,195.7 258.2,195.7 259.6,195.8 261,195.7 262.3,195.7 263.7,195.8 265.1,195.7 266.5,195.7 267.8,195.8 269.2,195.6 270.6,195.6 272,195.7 273.3,195.5 274.7,195.4 276.1,195.4 277.4,195.1 278.8,195 280.2,194.9 281.6,194.6 282.9,194.3 284.3,194.2 285.7,193.9 287.1,193.7 288.4,193.6 289.8,193.3 291.2,193.3 292.5,193.4 293.9,193.3 295.3,193.4 296.7,193.6 298,193.7 299.4,193.9 300.8,194.2 302.2,194.4 303.5,194.6 304.9,194.9 306.3,195 307.6,195.2 309,195.5 310.4,195.5 311.8,195.7 313.1,195.8 314.5,195.7 315.9,195.8 317.3,196 318.6,195.8 320,195.9 321.4,196 322.8,195.9 324.1,196 325.5,196.1 326.9,195.9 328.2,196 329.6,196.1 331,196 332.4,196 333.7,196.1 335.1,196 336.5,196 337.9,196.1 339.2,196 340.6,196 342,196.2 343.3,196 344.7,196 346.1,196.2 347.5,196 348.8,196.1 350.2,196.2 351.6,196 353,196.1 354.3,196.2 355.7,196.1 357.1,196.1 358.5,196.2 359.8,196 361.2,196.1 362.6,196.2 363.9,196.1 365.3,196.2 366.7,196.2 368.1,196.1 369.4,196.2 370.8,196.2 372.2,196.1 373.6,196.2 374.9,196.3 376.3,196.1 377.7,196.2 379,196.3 380.4,196.2 381.8,196.2 383.2,196.3 384.5,196.1 385.9,196.2 387.3,196.3 388.7,196.1 390,196.2 391.4,196.3 392.8,196.2 394.1,196.3 395.5,196.3 396.9,196.2 398.3,196.3 399.6,196.3 401,196.2 402.4,196.3 403.8,196.4 405.1,196.2 406.5,196.3 407.9,196.4 409.3,196.2 410.6,196.3 412,196.4 413.4,196.2 414.7,196.4 416.1,196.4 417.5,196.3 418.9,196.3 420.2,196.4 421.6,196.3 423,196.4 424.4,196.5 425.7,196.3 427.1,196.4 428.5,196.5 429.8,196.3 431.2,196.4 432.6,196.5 434,196.3 435.3,196.5 436.7,196.5 438.1,196.3 439.5,196.5 440.8,196.5 442.2,196.4 443.6,196.4 445,196.5 446.3,196.4 447.7,196.5 449.1,196.5 450.4,196.4 451.8,196.5 453.2,196.6 454.6,196.4 455.9,196.6 457.3,196.6 458.7,196.4 460,196.5 461.4,196.6 462.8,196.4 464.2,196.6 465.5,196.6 466.9,196.5 468.3,196.6 469.7,196.6 471,196.5 472.4,196.6 473.8,196.6 475.2,196.5" fill="none" stroke="#ff0000" stroke-width="0.9" stroke-linejoin="round"/>
<polyline points="63.3,195.3 64.6,195.2 66,195.4 67.4,195.4 68.7,195.2 70.1,195.4 71.5,195.4 72.9,195.3 74.2,195.4 75.6,195.3 77,195.2 78.4,195.4 79.7,195.4 81.1,195.2 82.5,195.4 83.8,195.4 85.2,195.3 86.6,195.4 88,195.3 89.3,195.2 90.7,195.4 92.1,195.3 93.5,195.2 94.8,195.4 96.2,195.3 97.6,195.3 99,195.4 100.3,195.3 101.7,195.2 103.1,195.4 104.4,195.4 105.8,195.2 107.2,195.4 108.6,195.3 109.9,195.2 111.3,195.4 112.7,195.4 114.1,195.2 115.4,195.4 116.8,195.3 118.2,195.2 119.5,195.4 120.9,195.3 121.6,195.2 121.6,195.2 121.7,195.3 121.7,195.2 121.8,195.2 121.9,195.2 121.9,195.2 122,195.2 122,195.2 122.1,195.2 122.2,195.2 122.2,195.2 122.3,195.1 122.3,195 122.3,194.9 122.4,194.6 122.5,193.9 122.5,192.8 122.6,191.1 122.6,188.3 122.7,184.1 122.7,178.2 122.8,170.1 122.9,159.6 122.9,146.9 123,132.1 123,116.3 123.1,100.3 123.2,85.8 123.2,74 123.3,66.3 123.3,63.7 123.4,72.9 123.5,81.5 123.5,89.5 123.6,96.8 123.6,103.6 123.7,108.1 123.7,110 123.7,115.8 123.8,121.2 123.9,126.3 123.9,130.9 124,135.2 124,139.3 124.1,143 124.2,146.4 124.2,149.6 124.3,152.6 124.3,155.3 124.4,157.8 124.5,160.2 124.5,162.4 124.6,164.4 124.6,166.3 124.7,168 124.7,169.7 124.8,171.2 124.9,172.6 124.9,173.9 125,175 125,176.2 125.1,177.3 125.2,178.2 125.2,179.1 125.3,180 125.3,180.8 125.4,181.4 125.5,182.1 125.5,182.7 125.6,183.3 125.6,183.9 125.7,184.4 125.7,184.8 125.8,185.3 125.9,185.7 125.9,186.1 126,186.5 126,186.8 126.1,187.1 126.2,187.4 126.2,187.7 126.3,188 126.3,188.2 126.4,188.5 126.4,188.5 126.5,188.7 126.5,188.9 126.6,189.1 126.6,189.3 126.7,189.4 126.7,189.7 126.8,189.8 126.9,189.9 126.9,190.1 127,190.2 127,190.3 127.1,190.5 127.2,190.6 127.2,190.7 127.3,190.8 127.3,190.9 127.4,191 127.5,191.1 127.5,191.2 127.6,191.2 127.6,191.4 127.7,191.4 127.7,191.5 127.8,191.6 127.8,191.6 127.9,191.6 127.9,191.7 128,191.8 128,191.8 128.1,191.9 128.2,191.9 128.2,192 128.3,192 128.3,192.1 128.4,192.1 128.5,192.2 128.5,192.2 128.6,192.3 128.6,192.3 128.7,192.3 128.7,192.4 128.8,192.4 128.9,192.4 128.9,192.5 129,192.5 129,192.5 129.1,192.5 129.2,192.6 129.2,192.6 129.3,192.6 129.3,192.7 129.4,192.7 129.5,192.7 129.5,192.7 129.6,192.7 129.6,192.8 129.7,192.8 129.7,192.8 129.8,192.9 129.9,192.9 129.9,192.9 130,192.9 130,193 130.1,193 130.2,193 130.2,193 130.3,193.1 130.3,193.1 130.4,193.1 130.5,193.1 130.5,193.1 130.5,193.2 130.6,193.2 130.6,193.2 130.7,193.3 130.7,193.3 130.8,193.3 130.9,193.4 130.9,193.3 131.9,193.8 133.3,194.1 134.6,194.3 136,194.6 137.4,194.7 138.8,194.8 140.1,195.1 141.5,195.1 142.9,195 144.3,195.3 145.6,195.2 147,195.2 148.4,195.3 149.8,195.3 151.1,195.2 152.5,195.4 153.9,195.3 155.2,195.3 156.6,195.4 158,195.3 159.4,195.3 160.7,195.4 162.1,195.4 163.5,195.3 164.9,195.5 166.2,195.4 167.6,195.3 169,195.5 170.3,195.3 171.7,195.4 173.1,195.5 174.5,195.4 175.8,195.3 177.2,195.5 178.6,195.4 180,195.4 181.3,195.5 182.7,195.4 184.1,195.4 185.5,195.5 186.8,195.4 188.2,195.4 189.6,195.6 190.9,195.4 192.3,195.4 193.7,195.6 195.1,195.4 196.4,195.5 197.8,195.6 199.2,195.5 200.6,195.4 201.9,195.5 203.3,195.2 204.7,194.9 206,194.6 207.4,193.7 208.8,192.7 210.2,191.7 211.5,190.4 212.9,189.5 214.3,189.1 215.7,189 217,189.1 218.4,189.5 219.8,189.8 221.1,190.1 222.5,190.8 223.9,191.2 225.3,191.8 226.6,192.4 228,192.8 229.4,193.3 230.8,193.9 232.1,194.1 233.5,194.4 234.9,194.9 236.3,195 237.6,195.1 239,195.4 240.4,195.4 241.7,195.5 243.1,195.6 244.5,195.6 245.9,195.6 247.2,195.7 248.6,195.6 250,195.7 251.4,195.8 252.7,195.7 254.1,195.7 255.5,195.8 256.8,195.7 258.2,195.7 259.6,195.8 261,195.7 262.3,195.7 263.7,195.8 265.1,195.7 266.5,195.7 267.8,195.8 269.2,195.6 270.6,195.6 272,195.7 273.3,195.5 274.7,195.4 276.1,195.4 277.4,195.1 278.8,195 280.2,194.9 281.6,194.6 282.9,194.3 284.3,194.2 285.7,193.9 287.1,193.7 288.4,193.6 289.8,193.3 291.2,193.3 292.5,193.4 293.9,193.3 295.3,193.4 296.7,193.6 298,193.7 299.4,193.9 300.8,194.2 302.2,194.4 303.5,194.6 304.9,194.9 306.3,195 307.6,195.2 309,195.5 310.4,195.5 311.8,195.7 313.1,195.8 314.5,195.7 315.9,195.8 317.3,196 318.6,195.8 320,195.9 321.4,196 322.8,195.9 324.1,196 325.5,196.1 326.9,195.9 328.2,196 329.6,196.1 331,196 332.4,196 333.7,196.1 335.1,196 336.5,196 337.9,196.1 339.2,196 340.6,196 342,196.2 343.3,196 344.7,196 346.1,196.2 347.5,196 348.8,196.1 350.2,196.2 351.6,196 353,196.1 354.3,196.2 355.7,196.1 357.1,196.1 358.5,196.2 359.8,196 361.2,196.1 362.6,196.2 363.9,196.1 365.3,196.2 366.7,196.2 368.1,196.1 369.4,196.2 370.8,196.2 372.2,196.1 373.6,196.2 374.9,196.3 376.3,196.1 377.7,196.2 379,196.3 380.4,196.2 381.8,196.2 383.2,196.3 384.5,196.1 385.9,196.2 387.3,196.3 388.7,196.1 390,196.2 391.4,196.3 392.8,196.2 394.1,196.3 395.5,196.3 396.9,196.2 398.3,196.3 399.6,196.3 401,196.2 402.4,196.3 403.8,196.4 405.1,196.2 406.5,196.3 407.9,196.4 409.3,196.2 410.6,196.3 412,196.4 413.4,196.2 414.7,196.4 416.1,196.4 417.5,196.3 418.9,196.3 420.2,196.4 421.6,196.3 423,196.4 424.4,196.5 425.7,196.3 427.1,196.4 428.5,196.5 429.8,196.3 431.2,196.4 432.6,196.5 434,196.3 435.3,196.5 436.7,196.5 438.1,196.3 439.5,196.5 440.8,196.5 442.2,196.4 443.6,196.4 445,196.5 446.3,196.4 447.7,196.5 449.1,196.5 450.4,196.4 451.8,196.5 453.2,196.6 454.6,196.4 455.9,196.6 457.3,196.6 458.7,196.4 460,196.5 461.4,196.6 462.8,196.4 464.2,196.6 465.5,196.6 466.9,196.5 468.3,196.6 469.7,196.6 471,196.5 472.4,196.6 473.8,196.6 475.2,196.5" fill="none" stroke="#383838" stroke-width="0.55" stroke-opacity="0.85"/>
<g stroke="#000" stroke-width="1.1"><line x1="55.5" y1="59.5" x2="55.5" y2="212.6"/><line x1="51.5" y1="208.1" x2="473.6" y2="208.1"/><line x1="50.5" y1="208.1" x2="55.5" y2="208.1"/><line x1="52.9" y1="204.4" x2="55.5" y2="204.4"/><line x1="52.9" y1="200.7" x2="55.5" y2="200.7"/><line x1="52.9" y1="197" x2="55.5" y2="197"/><line x1="52.9" y1="193.2" x2="55.5" y2="193.2"/><line x1="50.5" y1="189.5" x2="55.5" y2="189.5"/><line x1="52.9" y1="185.8" x2="55.5" y2="185.8"/><line x1="52.9" y1="182.1" x2="55.5" y2="182.1"/><line x1="52.9" y1="178.4" x2="55.5" y2="178.4"/><line x1="52.9" y1="174.7" x2="55.5" y2="174.7"/><line x1="50.5" y1="170.9" x2="55.5" y2="170.9"/><line x1="52.9" y1="167.2" x2="55.5" y2="167.2"/><line x1="52.9" y1="163.5" x2="55.5" y2="163.5"/><line x1="52.9" y1="159.8" x2="55.5" y2="159.8"/><line x1="52.9" y1="156.1" x2="55.5" y2="156.1"/><line x1="50.5" y1="152.4" x2="55.5" y2="152.4"/><line x1="52.9" y1="148.7" x2="55.5" y2="148.7"/><line x1="52.9" y1="144.9" x2="55.5" y2="144.9"/><line x1="52.9" y1="141.2" x2="55.5" y2="141.2"/><line x1="52.9" y1="137.5" x2="55.5" y2="137.5"/><line x1="50.5" y1="133.8" x2="55.5" y2="133.8"/><line x1="52.9" y1="130.1" x2="55.5" y2="130.1"/><line x1="52.9" y1="126.4" x2="55.5" y2="126.4"/><line x1="52.9" y1="122.7" x2="55.5" y2="122.7"/><line x1="52.9" y1="118.9" x2="55.5" y2="118.9"/><line x1="50.5" y1="115.2" x2="55.5" y2="115.2"/><line x1="52.9" y1="111.5" x2="55.5" y2="111.5"/><line x1="52.9" y1="107.8" x2="55.5" y2="107.8"/><line x1="52.9" y1="104.1" x2="55.5" y2="104.1"/><line x1="52.9" y1="100.4" x2="55.5" y2="100.4"/><line x1="50.5" y1="96.6" x2="55.5" y2="96.6"/><line x1="52.9" y1="92.9" x2="55.5" y2="92.9"/><line x1="52.9" y1="89.2" x2="55.5" y2="89.2"/><line x1="52.9" y1="85.5" x2="55.5" y2="85.5"/><line x1="52.9" y1="81.8" x2="55.5" y2="81.8"/><line x1="50.5" y1="78.1" x2="55.5" y2="78.1"/><line x1="52.9" y1="74.4" x2="55.5" y2="74.4"/><line x1="52.9" y1="70.6" x2="55.5" y2="70.6"/><line x1="52.9" y1="66.9" x2="55.5" y2="66.9"/><line x1="52.9" y1="63.2" x2="55.5" y2="63.2"/><line x1="50.5" y1="59.5" x2="55.5" y2="59.5"/><line x1="55.5" y1="208.1" x2="55.5" y2="212.6"/><line x1="67.4" y1="208.1" x2="67.4" y2="210.6"/><line x1="79.4" y1="208.1" x2="79.4" y2="210.6"/><line x1="91.3" y1="208.1" x2="91.3" y2="210.6"/><line x1="103.3" y1="208.1" x2="103.3" y2="210.6"/><line x1="115.2" y1="208.1" x2="115.2" y2="212.6"/><line x1="127.2" y1="208.1" x2="127.2" y2="210.6"/><line x1="139.1" y1="208.1" x2="139.1" y2="210.6"/><line x1="151.1" y1="208.1" x2="151.1" y2="210.6"/><line x1="163" y1="208.1" x2="163" y2="210.6"/><line x1="175" y1="208.1" x2="175" y2="212.6"/><line x1="186.9" y1="208.1" x2="186.9" y2="210.6"/><line x1="198.8" y1="208.1" x2="198.8" y2="210.6"/><line x1="210.8" y1="208.1" x2="210.8" y2="210.6"/><line x1="222.7" y1="208.1" x2="222.7" y2="210.6"/><line x1="234.7" y1="208.1" x2="234.7" y2="212.6"/><line x1="246.6" y1="208.1" x2="246.6" y2="210.6"/><line x1="258.6" y1="208.1" x2="258.6" y2="210.6"/><line x1="270.5" y1="208.1" x2="270.5" y2="210.6"/><line x1="282.5" y1="208.1" x2="282.5" y2="210.6"/><line x1="294.4" y1="208.1" x2="294.4" y2="212.6"/><line x1="306.4" y1="208.1" x2="306.4" y2="210.6"/><line x1="318.3" y1="208.1" x2="318.3" y2="210.6"/><line x1="330.3" y1="208.1" x2="330.3" y2="210.6"/><line x1="342.2" y1="208.1" x2="342.2" y2="210.6"/><line x1="354.1" y1="208.1" x2="354.1" y2="212.6"/><line x1="366.1" y1="208.1" x2="366.1" y2="210.6"/><line x1="378" y1="208.1" x2="378" y2="210.6"/><line x1="390" y1="208.1" x2="390" y2="210.6"/><line x1="401.9" y1="208.1" x2="401.9" y2="210.6"/><line x1="413.9" y1="208.1" x2="413.9" y2="212.6"/><line x1="425.8" y1="208.1" x2="425.8" y2="210.6"/><line x1="437.8" y1="208.1" x2="437.8" y2="210.6"/><line x1="449.7" y1="208.1" x2="449.7" y2="210.6"/><line x1="461.7" y1="208.1" x2="461.7" y2="210.6"/><line x1="473.6" y1="208.1" x2="473.6" y2="212.6"/><line x1="473.6" y1="208.1" x2="489.6" y2="134.4"/><line x1="475.2" y1="201" x2="479.2" y2="201"/><line x1="478.1" y1="187.4" x2="482.1" y2="187.4"/><line x1="480.9" y1="174.5" x2="484.9" y2="174.5"/><line x1="483.6" y1="162.3" x2="487.6" y2="162.3"/><line x1="486.1" y1="150.7" x2="490.1" y2="150.7"/><line x1="488.5" y1="139.7" x2="492.5" y2="139.7"/></g>
<g font-weight="bold" font-size="10" fill="#000"><text transform="translate(46.8,211.7) scale(1.03,0.9)" text-anchor="end" font-size="10.4">0.0</text><text transform="translate(46.8,193.1) scale(1.03,0.9)" text-anchor="end" font-size="10.4">50.0</text><text transform="translate(46.8,174.5) scale(1.03,0.9)" text-anchor="end" font-size="10.4">100.0</text><text transform="translate(46.8,156) scale(1.03,0.9)" text-anchor="end" font-size="10.4">150.0</text><text transform="translate(46.8,137.4) scale(1.03,0.9)" text-anchor="end" font-size="10.4">200.0</text><text transform="translate(46.8,118.8) scale(1.03,0.9)" text-anchor="end" font-size="10.4">250.0</text><text transform="translate(46.8,100.2) scale(1.03,0.9)" text-anchor="end" font-size="10.4">300.0</text><text transform="translate(46.8,81.7) scale(1.03,0.9)" text-anchor="end" font-size="10.4">350.0</text><text transform="translate(46.8,63.1) scale(1.03,0.9)" text-anchor="end" font-size="10.4">400.0</text><text transform="translate(55.5,227.4) scale(1.04,0.92)" text-anchor="middle" font-size="10.4">0.12</text><text transform="translate(115.2,227.4) scale(1.04,0.92)" text-anchor="middle" font-size="10.4">0.13</text><text transform="translate(175,227.4) scale(1.04,0.92)" text-anchor="middle" font-size="10.4">0.14</text><text transform="translate(234.7,227.4) scale(1.04,0.92)" text-anchor="middle" font-size="10.4">0.15</text><text transform="translate(294.4,227.4) scale(1.04,0.92)" text-anchor="middle" font-size="10.4">0.16</text><text transform="translate(354.1,227.4) scale(1.04,0.92)" text-anchor="middle" font-size="10.4">0.17</text><text transform="translate(413.9,227.4) scale(1.04,0.92)" text-anchor="middle" font-size="10.4">0.18</text><text transform="translate(473.6,227.4) scale(1.04,0.92)" text-anchor="middle" font-size="10.4">0.19</text><text transform="translate(484.7,205)" font-size="11">a=0.45</text><text transform="translate(487.4,191.2)" font-size="10.7">a=0.75</text><text transform="translate(489.9,178.3)" font-size="10.4">a=0.90</text><text transform="translate(492.3,165.9)" font-size="10.1">a=1.35</text><text transform="translate(494.6,154.3)" font-size="9.9">a=1.80</text><text transform="translate(496.7,143.2)" font-size="9.6">a=2.25</text></g>
<text x="0" y="0" font-weight="bold" font-size="12.8" text-anchor="middle" transform="translate(15.0,135) rotate(-90) scale(0.98,0.88)">Pressure(MPa)</text>
<text x="264.2" y="254.8" font-weight="bold" font-size="16" text-anchor="middle">Time(s)</text>
<text x="273.5" y="273.8" font-weight="bold" font-size="17" text-anchor="middle">(a)</text>
<text x="0" y="0" font-size="16" font-weight="bold" text-anchor="middle" transform="translate(536.8,169.7) rotate(-90) scale(0.58,1)">Distance(m)</text>
<defs>
<filter id="bl" x="-20%" y="-20%" width="140%" height="140%"><feGaussianBlur stdDeviation="1.6"/></filter>
<filter id="bl2" x="-20%" y="-20%" width="140%" height="140%"><feGaussianBlur stdDeviation="1.1"/></filter>
<linearGradient id="shade" x1="0" y1="0" x2="0" y2="1">
 <stop offset="0" stop-color="#000" stop-opacity="0.18"/>
 <stop offset="0.18" stop-color="#fff" stop-opacity="0.04"/>
 <stop offset="0.55" stop-color="#fff" stop-opacity="0"/>
 <stop offset="1" stop-color="#000" stop-opacity="0.22"/>
</linearGradient>
<radialGradient id="capG" cx="0.5" cy="0.5" r="0.55">
 <stop offset="0" stop-color="#2a9a80"/><stop offset="0.8" stop-color="#23907a"/><stop offset="1" stop-color="#1f7f66"/>
</radialGradient>
<radialGradient id="capB" cx="0.5" cy="0.5" r="0.55">
 <stop offset="0" stop-color="#2c86a6"/><stop offset="0.8" stop-color="#27799e"/><stop offset="1" stop-color="#1f6a8c"/>
</radialGradient>
<radialGradient id="capT" cx="0.5" cy="0.5" r="0.55">
 <stop offset="0" stop-color="#2a9290"/><stop offset="0.8" stop-color="#258488"/><stop offset="1" stop-color="#1f7478"/>
</radialGradient>
</defs>
<g transform="translate(168.3,364.3)"><clipPath id="cb0"><path d="M-86,-45 L4.6,-24.8 A18 25.2 10.5 0 1 -4.6,24.8 L-92.6,-3.6 A9 21 9 0 1 -86,-45 Z"/></clipPath><path d="M-86,-45 L4.6,-24.8 A18 25.2 10.5 0 1 -4.6,24.8 L-92.6,-3.6 A9 21 9 0 1 -86,-45 Z" fill="#e4321c"/><g clip-path="url(#cb0)"><g filter="url(#bl2)" transform="translate(-168.3,-364.3)"><polygon points="70.9,338.4 74.5,324.2 83.9,319 95.7,320.6 93.4,328.9 86.3,332.5 79.2,340.7 73.3,347.8" fill="#58c83a"/><ellipse cx="79.7" cy="332.5" rx="2.8" ry="2.4" fill="#d8d030" transform="rotate(15.2 79.7 332.5)"/><polygon points="93.4,320.6 114.6,324.7 115.8,327.7 107.5,332.5 100.5,331.3 94.5,328.9" fill="#40c23c"/><polygon points="100.5,345.5 108.7,331.7 120.5,331.7 128.3,345.9 122.2,345.9 115.8,338.8 108,339.8 104.2,345.9" fill="#40c23c"/><ellipse cx="113.9" cy="334.8" rx="5.2" ry="3.1" fill="#2cc0a8" transform="rotate(15.2 113.9 334.8)"/><ellipse cx="113.9" cy="334.8" rx="2.4" ry="1.4" fill="#30c8e0" transform="rotate(15.2 113.9 334.8)"/><polygon points="133.5,327.7 169,339.5 165.4,345.5 156,344.3 144.2,343.1 135.9,339.5 131.7,332.5" fill="#40c23c"/><ellipse cx="159.1" cy="338.8" rx="5.2" ry="2.1" fill="#30b8c0" transform="rotate(15.2 159.1 338.8)"/><ellipse cx="140.6" cy="339.5" rx="3.3" ry="2.4" fill="#c8d030" transform="rotate(15.2 140.6 339.5)"/><ellipse cx="100.5" cy="354.9" rx="2.6" ry="1.7" fill="#b8d830" transform="rotate(15.2 100.5 354.9)"/><ellipse cx="120.5" cy="364.8" rx="2.8" ry="1.9" fill="#70d030" transform="rotate(15.2 120.5 364.8)"/><ellipse cx="124.6" cy="356.8" rx="1.9" ry="1.4" fill="#c8d830" transform="rotate(15.2 124.6 356.8)"/><ellipse cx="115.8" cy="349.7" rx="7.6" ry="3.1" fill="#b81a12" transform="rotate(15.2 115.8 349.7)"/><ellipse cx="140.2" cy="347.8" rx="5.2" ry="11.3" fill="#70cc40" transform="rotate(0 140.2 347.8)"/><ellipse cx="139.7" cy="345.5" rx="2.1" ry="5.2" fill="#d0d030" transform="rotate(0 139.7 345.5)"/><ellipse cx="114.6" cy="350.7" rx="2.8" ry="2.1" fill="#c8d830" transform="rotate(15.2 114.6 350.7)"/><ellipse cx="143" cy="364.8" rx="2.1" ry="1.7" fill="#50c040" transform="rotate(15.2 143 364.8)"/><ellipse cx="119.8" cy="364.8" rx="2.4" ry="1.7" fill="#50c040" transform="rotate(15.2 119.8 364.8)"/><polygon points="79.2,369.1 150.1,385.6 150.1,389.2 79.2,373.3" fill="#ee5a22"/><polygon points="141.8,337.4 152.4,339.8 152.4,390.4 141.8,387.5" fill="#44c23c"/><ellipse cx="144.9" cy="367.9" rx="2.4" ry="7.1" fill="#e84a20" transform="rotate(0 144.9 367.9)"/><ellipse cx="146.5" cy="347.8" rx="1.9" ry="3.3" fill="#d8d030" transform="rotate(0 146.5 347.8)"/></g><path d="M-92.6,-3.6 A9 21 9 0 1 -86,-45" fill="none" stroke="#50c040" stroke-width="3.2" filter="url(#bl2)"/><line x1="-86" y1="-44.4" x2="4.6" y2="-24.2" stroke="#40c040" stroke-width="2.4" filter="url(#bl2)"/><g transform="rotate(15.2 -44.6 -12.2)"><rect x="-120" y="-50" width="150" height="52" fill="url(#shade)"/></g></g><path d="M4.6,-24.8 A18 25.2 10.5 0 0 -4.6,24.8" fill="none" stroke="#f0a020" stroke-width="1.3" transform="translate(-2.2,0.4)"/><ellipse cx="0" cy="0" rx="18" ry="25.2" transform="rotate(10.5)" fill="url(#capG)" stroke="#3cc040" stroke-width="1.6"/><path d="M4.6,-24.8 A18 25.2 10.5 0 1 -4.6,24.8" fill="none" stroke="#1a7a40" stroke-width="0.9" opacity="0.8"/></g>
<g transform="translate(346.5,364)"><clipPath id="cb1"><path d="M-86,-45 L4.6,-24.8 A18 25.2 10.5 0 1 -4.6,24.8 L-92.6,-3.6 A9 21 9 0 1 -86,-45 Z"/></clipPath><path d="M-86,-45 L4.6,-24.8 A18 25.2 10.5 0 1 -4.6,24.8 L-92.6,-3.6 A9 21 9 0 1 -86,-45 Z" fill="#e8381c"/><g clip-path="url(#cb1)"><g filter="url(#bl2)" transform="translate(-346.5,-364)"><polygon points="249.5,328.9 258.9,320.6 266,321.8 258.9,338.4 253,369.1 248.3,357.3" fill="#f09030"/><polygon points="258.9,319.9 287.3,324.7 318,332.9 349.2,340.3 347.5,342.4 318,335.3 287.3,327 261.3,322.3" fill="#40c23c"/><polygon points="315.6,333.6 347.5,340.7 339.3,349 325.1,345.5 318,341.2" fill="#60c840"/><ellipse cx="325.1" cy="343.1" rx="5.9" ry="1.9" fill="#d8d030" transform="rotate(15.2 325.1 343.1)"/><ellipse cx="287.3" cy="338.4" rx="4.5" ry="3.8" fill="#40c23c" transform="rotate(0 287.3 338.4)"/><ellipse cx="287.3" cy="338.4" rx="2.1" ry="1.9" fill="#30c4c4" transform="rotate(0 287.3 338.4)"/><ellipse cx="287.3" cy="363.2" rx="4.5" ry="3.8" fill="#40c23c" transform="rotate(0 287.3 363.2)"/><ellipse cx="287.3" cy="363.2" rx="2.1" ry="1.9" fill="#30c4c4" transform="rotate(0 287.3 363.2)"/><polygon points="253,371.9 329.8,388.5 329.8,392.3 254.7,376.7" fill="#f07030"/><polygon points="327.9,345.5 333.4,343.1 334.1,386.1 328.9,388.5" fill="#f09a30"/></g><path d="M-92.6,-3.6 A9 21 9 0 1 -86,-45" fill="none" stroke="#f0a030" stroke-width="3.2" filter="url(#bl2)"/><line x1="-86" y1="-44.4" x2="4.6" y2="-24.2" stroke="#40c040" stroke-width="2.4" filter="url(#bl2)"/><g transform="rotate(15.2 -44.6 -12.2)"><rect x="-120" y="-50" width="150" height="52" fill="url(#shade)"/></g></g><path d="M4.6,-24.8 A18 25.2 10.5 0 0 -4.6,24.8" fill="none" stroke="#f0c030" stroke-width="1.3" transform="translate(-2.2,0.4)"/><ellipse cx="0" cy="0" rx="18" ry="25.2" transform="rotate(10.5)" fill="url(#capT)" stroke="#40b070" stroke-width="1.6"/><path d="M4.6,-24.8 A18 25.2 10.5 0 1 -4.6,24.8" fill="none" stroke="#1a7a50" stroke-width="0.9" opacity="0.8"/></g>
<g transform="translate(527.5,364.2)"><clipPath id="cb2"><path d="M-92,-46.5 L4.6,-24.8 A18 25.2 10.5 0 1 -4.6,24.8 L-98.6,-5.1 A9 21 9 0 1 -92,-46.5 Z"/></clipPath><path d="M-92,-46.5 L4.6,-24.8 A18 25.2 10.5 0 1 -4.6,24.8 L-98.6,-5.1 A9 21 9 0 1 -92,-46.5 Z" fill="#e8381c"/><g clip-path="url(#cb2)"><g filter="url(#bl2)" transform="translate(-527.5,-364.2)"><polygon points="424.7,331.3 429.5,321.8 436.5,319.5 431.8,345.5 427.6,364.4 423.5,352.5" fill="#f07a2a"/><polygon points="433,319.5 448.4,321.8 446.5,329.4 438.9,331.7 433.7,327" fill="#40c23c"/><polygon points="473.9,327.7 520.4,338.8 520.4,345.9 509.8,344.7 498,341.2 488.5,340 481,336.5 473.9,333.6" fill="#40c23c"/><polygon points="479.1,335.1 490.9,339.8 510.3,345.5 507.9,348.3 490.9,343.6 479.1,338.8" fill="#d8c830"/><ellipse cx="505.1" cy="340.3" rx="5.2" ry="1.9" fill="#30b8c8" transform="rotate(15.2 505.1 340.3)"/><ellipse cx="463.7" cy="339.5" rx="4.5" ry="3.8" fill="#40c23c" transform="rotate(0 463.7 339.5)"/><ellipse cx="463.7" cy="339.5" rx="2.1" ry="1.9" fill="#30c4c4" transform="rotate(0 463.7 339.5)"/><ellipse cx="463.7" cy="360.8" rx="4.5" ry="3.8" fill="#40c23c" transform="rotate(0 463.7 360.8)"/><ellipse cx="463.7" cy="360.8" rx="2.1" ry="1.9" fill="#30c4c4" transform="rotate(0 463.7 360.8)"/><polygon points="429.5,369.1 509.8,386.1 509.8,389.7 429.5,373.1" fill="#f07030"/></g><path d="M-98.6,-5.1 A9 21 9 0 1 -92,-46.5" fill="none" stroke="#f08a30" stroke-width="3.2" filter="url(#bl2)"/><line x1="-92" y1="-45.9" x2="4.6" y2="-24.2" stroke="#50c040" stroke-width="2.4" filter="url(#bl2)"/><g transform="rotate(15.2 -44.6 -12.2)"><rect x="-120" y="-50" width="150" height="52" fill="url(#shade)"/></g></g><path d="M4.6,-24.8 A18 25.2 10.5 0 0 -4.6,24.8" fill="none" stroke="#f09030" stroke-width="1.3" transform="translate(-2.2,0.4)"/><ellipse cx="0" cy="0" rx="18" ry="25.2" transform="rotate(10.5)" fill="url(#capB)" stroke="#3aa890" stroke-width="1.6"/><path d="M4.6,-24.8 A18 25.2 10.5 0 1 -4.6,24.8" fill="none" stroke="#1a5a90" stroke-width="0.9" opacity="0.8"/></g>
<g transform="translate(164,467.3)"><clipPath id="cb3"><path d="M-87,-45.5 L4.6,-24.8 A18 25.2 10.5 0 1 -4.6,24.8 L-93.6,-4.1 A9 21 9 0 1 -87,-45.5 Z"/></clipPath><path d="M-87,-45.5 L4.6,-24.8 A18 25.2 10.5 0 1 -4.6,24.8 L-93.6,-4.1 A9 21 9 0 1 -87,-45.5 Z" fill="#3cc43c"/><g clip-path="url(#cb3)"><g filter="url(#bl2)" transform="translate(-164,-467.3)"><polygon points="74.2,421.8 88.4,419 165.2,437.2 162.1,443.1 140.4,438.8 88.4,425.6" fill="#2a5ac8"/><polygon points="82.5,426.5 139.2,437.4 143.2,442.1 138.9,447.8 130.9,446.4 128.5,442.1 90.7,434.6 83.6,435.3" fill="#30b0d0"/><polygon points="86.5,429.4 135.6,439.3 135.6,443.1 128.5,442.1 90.7,433.6" fill="#40c440"/><ellipse cx="97.8" cy="431.3" rx="2.6" ry="2.1" fill="#f07a2a" transform="rotate(15.2 97.8 431.3)"/><ellipse cx="97.8" cy="431.3" rx="1.4" ry="1.2" fill="#e22a18" transform="rotate(15.2 97.8 431.3)"/><ellipse cx="108.5" cy="433.6" rx="2.6" ry="2.1" fill="#f07a2a" transform="rotate(15.2 108.5 433.6)"/><ellipse cx="108.5" cy="433.6" rx="1.4" ry="1.2" fill="#e22a18" transform="rotate(15.2 108.5 433.6)"/><ellipse cx="119.1" cy="436.5" rx="2.6" ry="2.1" fill="#f07a2a" transform="rotate(15.2 119.1 436.5)"/><ellipse cx="119.1" cy="436.5" rx="1.4" ry="1.2" fill="#e22a18" transform="rotate(15.2 119.1 436.5)"/><polygon points="74.7,435.5 131.4,449 131.4,475.5 73.2,465.3" fill="#e8c828"/><polygon points="77,438.4 129,451.1 129,472.6 75.6,462.9" fill="#f08a30"/><ellipse cx="87.9" cy="449" rx="8.5" ry="5.2" fill="#e22a18" transform="rotate(15.2 87.9 449)"/><ellipse cx="102.1" cy="455.4" rx="8" ry="6.1" fill="#e22a18" transform="rotate(15.2 102.1 455.4)"/><ellipse cx="114.8" cy="460.8" rx="6.6" ry="4.7" fill="#e83820" transform="rotate(15.2 114.8 460.8)"/><ellipse cx="83.6" cy="456.6" rx="4.3" ry="3.3" fill="#f06020" transform="rotate(15.2 83.6 456.6)"/><ellipse cx="120.3" cy="454.9" rx="3.3" ry="2.6" fill="#e22a18" transform="rotate(15.2 120.3 454.9)"/><ellipse cx="95.5" cy="451.4" rx="2.4" ry="1.9" fill="#f07a2a" transform="rotate(15.2 95.5 451.4)"/><ellipse cx="108.5" cy="458.5" rx="2.1" ry="1.7" fill="#f07a2a" transform="rotate(15.2 108.5 458.5)"/><polygon points="66.6,433.6 71.8,426.5 73.2,464.8 69.9,469.6 65.7,452.5" fill="#a8d030"/><polygon points="139.9,449.7 145.1,451.4 145.1,481.4 139.9,479" fill="#90d030"/><polygon points="69.5,474.3 145.1,491.5 142.7,494.1 69.5,477.6" fill="#3a9aa0"/></g><path d="M-93.6,-4.1 A9 21 9 0 1 -87,-45.5" fill="none" stroke="#70c840" stroke-width="3.2" filter="url(#bl2)"/><line x1="-87" y1="-44.9" x2="4.6" y2="-24.2" stroke="#2a60c8" stroke-width="2.4" filter="url(#bl2)"/><g transform="rotate(15.2 -44.6 -12.2)"><rect x="-120" y="-50" width="150" height="52" fill="url(#shade)"/></g></g><path d="M4.6,-24.8 A18 25.2 10.5 0 0 -4.6,24.8" fill="none" stroke="#a0d040" stroke-width="1.3" transform="translate(-2.2,0.4)"/><ellipse cx="0" cy="0" rx="18" ry="25.2" transform="rotate(10.5)" fill="url(#capB)" stroke="#2a6ab0" stroke-width="1.6"/><path d="M4.6,-24.8 A18 25.2 10.5 0 1 -4.6,24.8" fill="none" stroke="#1a4a90" stroke-width="0.9" opacity="0.8"/></g>
<g transform="translate(346.6,468.4)"><clipPath id="cb4"><path d="M-91,-47 L4.6,-24.8 A18 25.2 10.5 0 1 -4.6,24.8 L-97.6,-5.6 A9 21 9 0 1 -91,-47 Z"/></clipPath><path d="M-91,-47 L4.6,-24.8 A18 25.2 10.5 0 1 -4.6,24.8 L-97.6,-5.6 A9 21 9 0 1 -91,-47 Z" fill="#3cc43c"/><g clip-path="url(#cb4)"><g filter="url(#bl2)" transform="translate(-346.6,-468.4)"><polygon points="254.2,420.6 266,417.8 345.2,436.5 342.1,440.3 266,423.2" fill="#3aa0c0"/><ellipse cx="254.7" cy="426.5" rx="3.8" ry="2.8" fill="#50c0c0" transform="rotate(15.2 254.7 426.5)"/><polygon points="252.3,437.4 263.6,432.2 318.9,449.2 318.9,475.2 310.9,475.2 253.2,454" fill="#e0c830"/><polygon points="255.1,439.8 263.6,435.1 317.1,451.1 317.1,472.4 310.9,472.4 255.1,451.6" fill="#f09030"/><ellipse cx="258.4" cy="444.3" rx="4.3" ry="7.6" fill="#e22a18" transform="rotate(0 258.4 444.3)"/><ellipse cx="270.7" cy="448.3" rx="3.8" ry="10.9" fill="#e22a18" transform="rotate(0 270.7 448.3)"/><ellipse cx="282.5" cy="450.2" rx="7.1" ry="5.9" fill="#e22a18" transform="rotate(0 282.5 450.2)"/><ellipse cx="290.1" cy="454" rx="3.3" ry="4.7" fill="#e84020" transform="rotate(0 290.1 454)"/><ellipse cx="296.3" cy="458.2" rx="4.3" ry="9.9" fill="#e22a18" transform="rotate(0 296.3 458.2)"/><ellipse cx="310.9" cy="462.5" rx="4.7" ry="9.9" fill="#e22a18" transform="rotate(0 310.9 462.5)"/><ellipse cx="303.3" cy="460.1" rx="2.8" ry="5.7" fill="#e84020" transform="rotate(0 303.3 460.1)"/><polygon points="320.4,443.1 330.3,445.5 330.3,471.9 320.4,469.6" fill="#40c0c0"/><ellipse cx="287.3" cy="430.3" rx="1.7" ry="1.2" fill="#e0d030" transform="rotate(15.2 287.3 430.3)"/><ellipse cx="295.8" cy="432.7" rx="1.7" ry="1.2" fill="#e0d030" transform="rotate(15.2 295.8 432.7)"/></g><path d="M-97.6,-5.6 A9 21 9 0 1 -91,-47" fill="none" stroke="#40b8a0" stroke-width="3.2" filter="url(#bl2)"/><line x1="-91" y1="-46.4" x2="4.6" y2="-24.2" stroke="#3a90c8" stroke-width="2.4" filter="url(#bl2)"/><g transform="rotate(15.2 -44.6 -12.2)"><rect x="-120" y="-50" width="150" height="52" fill="url(#shade)"/></g></g><path d="M4.6,-24.8 A18 25.2 10.5 0 0 -4.6,24.8" fill="none" stroke="#40c0a0" stroke-width="1.3" transform="translate(-2.2,0.4)"/><ellipse cx="0" cy="0" rx="18" ry="25.2" transform="rotate(10.5)" fill="url(#capB)" stroke="#2a5ab0" stroke-width="1.6"/><path d="M4.6,-24.8 A18 25.2 10.5 0 1 -4.6,24.8" fill="none" stroke="#1a4a90" stroke-width="0.9" opacity="0.8"/></g>
<g transform="translate(529,468.4)"><clipPath id="cb5"><path d="M-93,-47 L4.6,-24.8 A18 25.2 10.5 0 1 -4.6,24.8 L-99.6,-5.6 A9 21 9 0 1 -93,-47 Z"/></clipPath><path d="M-93,-47 L4.6,-24.8 A18 25.2 10.5 0 1 -4.6,24.8 L-99.6,-5.6 A9 21 9 0 1 -93,-47 Z" fill="#3cc43c"/><g clip-path="url(#cb5)"><g filter="url(#bl2)" transform="translate(-529,-468.4)"><ellipse cx="427.1" cy="450.2" rx="2.1" ry="14.7" fill="#3090c0" transform="rotate(0 427.1 450.2)"/><polygon points="434.2,420.6 446,417.8 525.2,440.7 522.1,443.6 446,423.2" fill="#2aa0c0"/><polygon points="498,435.5 525.2,440.7 519.3,445.9 500.4,441.2" fill="#2a6ac8"/><polygon points="446.5,432.7 479.1,435.1 481,470.5 450.7,468.1" fill="#e0c030"/><polygon points="449.3,433.6 477.7,436 479.1,469.1 453.1,467.2" fill="#f08a30"/><polygon points="451.2,432.7 458.3,430.3 462.5,467.7 455.5,467.7" fill="#e22a18"/><polygon points="460.7,432.2 468.2,433.2 471.1,470 464,470" fill="#e22a18"/><polygon points="469.6,435.5 476.7,437.9 478.1,471 472,471" fill="#e22a18"/><ellipse cx="437.7" cy="443.1" rx="2.6" ry="5.2" fill="#f09030" transform="rotate(0 437.7 443.1)"/><ellipse cx="437.7" cy="443.1" rx="1.2" ry="2.6" fill="#e85020" transform="rotate(0 437.7 443.1)"/><ellipse cx="485" cy="460.8" rx="3.1" ry="6.1" fill="#e8c030" transform="rotate(0 485 460.8)"/><ellipse cx="486.2" cy="462" rx="1.4" ry="2.8" fill="#f07030" transform="rotate(0 486.2 462)"/><polygon points="498,441.2 509.8,443.6 509.8,467.2 500.4,464.8" fill="#40b8b8"/></g><path d="M-99.6,-5.6 A9 21 9 0 1 -93,-47" fill="none" stroke="#3080c8" stroke-width="3.2" filter="url(#bl2)"/><line x1="-93" y1="-46.4" x2="4.6" y2="-24.2" stroke="#3a8ad0" stroke-width="2.4" filter="url(#bl2)"/><g transform="rotate(15.2 -44.6 -12.2)"><rect x="-120" y="-50" width="150" height="52" fill="url(#shade)"/></g></g><path d="M4.6,-24.8 A18 25.2 10.5 0 0 -4.6,24.8" fill="none" stroke="#40a0c0" stroke-width="1.3" transform="translate(-2.2,0.4)"/><ellipse cx="0" cy="0" rx="18" ry="25.2" transform="rotate(10.5)" fill="url(#capT)" stroke="#2a6ab0" stroke-width="1.6"/><path d="M4.6,-24.8 A18 25.2 10.5 0 1 -4.6,24.8" fill="none" stroke="#1a4a90" stroke-width="0.9" opacity="0.8"/></g>
<text x="14.5" y="304.6" font-weight="bold" font-size="6.8" fill="#222">S, Mises</text><text x="14.5" y="311.8" font-weight="bold" font-size="6.4" fill="#222">(Avg: 75%)</text><rect x="14.5" y="317.6" width="8.8" height="6.3" fill="#e81818"/><rect x="14.5" y="323.6" width="8.8" height="6.3" fill="#f05818"/><rect x="14.5" y="329.6" width="8.8" height="6.3" fill="#f09018"/><rect x="14.5" y="335.6" width="8.8" height="6.3" fill="#e8c818"/><rect x="14.5" y="341.6" width="8.8" height="6.3" fill="#b8dc18"/><rect x="14.5" y="347.6" width="8.8" height="6.3" fill="#40d020"/><rect x="14.5" y="353.6" width="8.8" height="6.3" fill="#18c820"/><rect x="14.5" y="359.6" width="8.8" height="6.3" fill="#18c038"/><rect x="14.5" y="365.6" width="8.8" height="6.3" fill="#18c070"/><rect x="14.5" y="371.6" width="8.8" height="6.3" fill="#18c8b8"/><rect x="14.5" y="377.6" width="8.8" height="6.3" fill="#1890b0"/><rect x="14.5" y="383.6" width="8.8" height="6.3" fill="#1414a0"/><line x1="23.3" y1="317.6" x2="25.5" y2="317.6" stroke="#777" stroke-width="0.5"/><line x1="23.3" y1="323.6" x2="25.5" y2="323.6" stroke="#777" stroke-width="0.5"/><line x1="23.3" y1="329.6" x2="25.5" y2="329.6" stroke="#777" stroke-width="0.5"/><line x1="23.3" y1="335.6" x2="25.5" y2="335.6" stroke="#777" stroke-width="0.5"/><line x1="23.3" y1="341.6" x2="25.5" y2="341.6" stroke="#777" stroke-width="0.5"/><line x1="23.3" y1="347.6" x2="25.5" y2="347.6" stroke="#777" stroke-width="0.5"/><line x1="23.3" y1="353.6" x2="25.5" y2="353.6" stroke="#777" stroke-width="0.5"/><line x1="23.3" y1="359.6" x2="25.5" y2="359.6" stroke="#777" stroke-width="0.5"/><line x1="23.3" y1="365.6" x2="25.5" y2="365.6" stroke="#777" stroke-width="0.5"/><line x1="23.3" y1="371.6" x2="25.5" y2="371.6" stroke="#777" stroke-width="0.5"/><line x1="23.3" y1="377.6" x2="25.5" y2="377.6" stroke="#777" stroke-width="0.5"/><line x1="23.3" y1="383.6" x2="25.5" y2="383.6" stroke="#777" stroke-width="0.5"/><line x1="23.3" y1="389.6" x2="25.5" y2="389.6" stroke="#777" stroke-width="0.5"/><text x="28.3" y="322.1" font-weight="bold" font-size="8.8" fill="#111">3.801×10<tspan dy="-3.3" font-size="5.5">8</tspan></text><text x="28.3" y="334" font-weight="bold" font-size="8.8" fill="#111">3.205×10<tspan dy="-3.3" font-size="5.5">8</tspan></text><text x="28.3" y="345.8" font-weight="bold" font-size="8.8" fill="#111">2.609×10<tspan dy="-3.3" font-size="5.5">8</tspan></text><text x="28.3" y="357.7" font-weight="bold" font-size="8.8" fill="#111">2.013×10<tspan dy="-3.3" font-size="5.5">8</tspan></text><text x="28.3" y="369.6" font-weight="bold" font-size="8.8" fill="#111">1.417×10<tspan dy="-3.3" font-size="5.5">8</tspan></text><text x="28.3" y="381.4" font-weight="bold" font-size="8.8" fill="#111">8.207×10<tspan dy="-3.3" font-size="5.5">7</tspan></text><text x="28.3" y="393.3" font-weight="bold" font-size="8.8" fill="#111">2.246×10<tspan dy="-3.3" font-size="5.5">7</tspan></text>
<text x="190.3" y="303.7" font-weight="bold" font-size="6.8" fill="#222">S, Mises</text><text x="190.3" y="310.9" font-weight="bold" font-size="6.4" fill="#222">(Avg: 75%)</text><rect x="190.3" y="316.9" width="8.8" height="6.3" fill="#e81818"/><rect x="190.3" y="322.9" width="8.8" height="6.3" fill="#f05818"/><rect x="190.3" y="328.9" width="8.8" height="6.3" fill="#f09018"/><rect x="190.3" y="334.9" width="8.8" height="6.3" fill="#e8c818"/><rect x="190.3" y="340.9" width="8.8" height="6.3" fill="#b8dc18"/><rect x="190.3" y="346.9" width="8.8" height="6.3" fill="#40d020"/><rect x="190.3" y="352.9" width="8.8" height="6.3" fill="#18c820"/><rect x="190.3" y="358.9" width="8.8" height="6.3" fill="#18c038"/><rect x="190.3" y="364.9" width="8.8" height="6.3" fill="#18c070"/><rect x="190.3" y="370.9" width="8.8" height="6.3" fill="#18c8b8"/><rect x="190.3" y="376.9" width="8.8" height="6.3" fill="#1aa0c8"/><rect x="190.3" y="382.9" width="8.8" height="6.3" fill="#1a6aa8"/><line x1="199.1" y1="316.9" x2="201.3" y2="316.9" stroke="#777" stroke-width="0.5"/><line x1="199.1" y1="322.9" x2="201.3" y2="322.9" stroke="#777" stroke-width="0.5"/><line x1="199.1" y1="328.9" x2="201.3" y2="328.9" stroke="#777" stroke-width="0.5"/><line x1="199.1" y1="334.9" x2="201.3" y2="334.9" stroke="#777" stroke-width="0.5"/><line x1="199.1" y1="340.9" x2="201.3" y2="340.9" stroke="#777" stroke-width="0.5"/><line x1="199.1" y1="346.9" x2="201.3" y2="346.9" stroke="#777" stroke-width="0.5"/><line x1="199.1" y1="352.9" x2="201.3" y2="352.9" stroke="#777" stroke-width="0.5"/><line x1="199.1" y1="358.9" x2="201.3" y2="358.9" stroke="#777" stroke-width="0.5"/><line x1="199.1" y1="364.9" x2="201.3" y2="364.9" stroke="#777" stroke-width="0.5"/><line x1="199.1" y1="370.9" x2="201.3" y2="370.9" stroke="#777" stroke-width="0.5"/><line x1="199.1" y1="376.9" x2="201.3" y2="376.9" stroke="#777" stroke-width="0.5"/><line x1="199.1" y1="382.9" x2="201.3" y2="382.9" stroke="#777" stroke-width="0.5"/><line x1="199.1" y1="388.9" x2="201.3" y2="388.9" stroke="#777" stroke-width="0.5"/><text x="204.1" y="321.4" font-weight="bold" font-size="8.8" fill="#111">3.769×10<tspan dy="-3.3" font-size="5.5">8</tspan></text><text x="204.1" y="333.3" font-weight="bold" font-size="8.8" fill="#111">3.207×10<tspan dy="-3.3" font-size="5.5">8</tspan></text><text x="204.1" y="345.1" font-weight="bold" font-size="8.8" fill="#111">2.618×10<tspan dy="-3.3" font-size="5.5">8</tspan></text><text x="204.1" y="357" font-weight="bold" font-size="8.8" fill="#111">2.029×10<tspan dy="-3.3" font-size="5.5">8</tspan></text><text x="204.1" y="368.9" font-weight="bold" font-size="8.8" fill="#111">1.440×10<tspan dy="-3.3" font-size="5.5">8</tspan></text><text x="204.1" y="380.7" font-weight="bold" font-size="8.8" fill="#111">8.504×10<tspan dy="-3.3" font-size="5.5">7</tspan></text><text x="204.1" y="392.6" font-weight="bold" font-size="8.8" fill="#111">2.613×10<tspan dy="-3.3" font-size="5.5">7</tspan></text>
<text x="368.6" y="303.8" font-weight="bold" font-size="6.8" fill="#222">S, Mises</text><text x="368.6" y="311" font-weight="bold" font-size="6.4" fill="#222">(Avg: 75%)</text><rect x="368.6" y="317.2" width="8.8" height="6.3" fill="#e81818"/><rect x="368.6" y="323.2" width="8.8" height="6.3" fill="#f05818"/><rect x="368.6" y="329.2" width="8.8" height="6.3" fill="#f09018"/><rect x="368.6" y="335.2" width="8.8" height="6.3" fill="#e8c818"/><rect x="368.6" y="341.2" width="8.8" height="6.3" fill="#b8dc18"/><rect x="368.6" y="347.2" width="8.8" height="6.3" fill="#40d020"/><rect x="368.6" y="353.2" width="8.8" height="6.3" fill="#18c820"/><rect x="368.6" y="359.2" width="8.8" height="6.3" fill="#18c038"/><rect x="368.6" y="365.2" width="8.8" height="6.3" fill="#18c070"/><rect x="368.6" y="371.2" width="8.8" height="6.3" fill="#18c8b8"/><rect x="368.6" y="377.2" width="8.8" height="6.3" fill="#1aa0d8"/><rect x="368.6" y="383.2" width="8.8" height="6.3" fill="#1a5ac0"/><line x1="377.4" y1="317.2" x2="379.6" y2="317.2" stroke="#777" stroke-width="0.5"/><line x1="377.4" y1="323.2" x2="379.6" y2="323.2" stroke="#777" stroke-width="0.5"/><line x1="377.4" y1="329.2" x2="379.6" y2="329.2" stroke="#777" stroke-width="0.5"/><line x1="377.4" y1="335.2" x2="379.6" y2="335.2" stroke="#777" stroke-width="0.5"/><line x1="377.4" y1="341.2" x2="379.6" y2="341.2" stroke="#777" stroke-width="0.5"/><line x1="377.4" y1="347.2" x2="379.6" y2="347.2" stroke="#777" stroke-width="0.5"/><line x1="377.4" y1="353.2" x2="379.6" y2="353.2" stroke="#777" stroke-width="0.5"/><line x1="377.4" y1="359.2" x2="379.6" y2="359.2" stroke="#777" stroke-width="0.5"/><line x1="377.4" y1="365.2" x2="379.6" y2="365.2" stroke="#777" stroke-width="0.5"/><line x1="377.4" y1="371.2" x2="379.6" y2="371.2" stroke="#777" stroke-width="0.5"/><line x1="377.4" y1="377.2" x2="379.6" y2="377.2" stroke="#777" stroke-width="0.5"/><line x1="377.4" y1="383.2" x2="379.6" y2="383.2" stroke="#777" stroke-width="0.5"/><line x1="377.4" y1="389.2" x2="379.6" y2="389.2" stroke="#777" stroke-width="0.5"/><text x="382.4" y="321.7" font-weight="bold" font-size="8.8" fill="#111">3.791×10<tspan dy="-3.3" font-size="5.5">8</tspan></text><text x="382.4" y="333.6" font-weight="bold" font-size="8.8" fill="#111">3.190×10<tspan dy="-3.3" font-size="5.5">8</tspan></text><text x="382.4" y="345.4" font-weight="bold" font-size="8.8" fill="#111">2.588×10<tspan dy="-3.3" font-size="5.5">8</tspan></text><text x="382.4" y="357.3" font-weight="bold" font-size="8.8" fill="#111">1.987×10<tspan dy="-3.3" font-size="5.5">8</tspan></text><text x="382.4" y="369.2" font-weight="bold" font-size="8.8" fill="#111">1.386×10<tspan dy="-3.3" font-size="5.5">8</tspan></text><text x="382.4" y="381" font-weight="bold" font-size="8.8" fill="#111">7.843×10<tspan dy="-3.3" font-size="5.5">7</tspan></text><text x="382.4" y="392.9" font-weight="bold" font-size="8.8" fill="#111">1.829×10<tspan dy="-3.3" font-size="5.5">7</tspan></text>
<text x="13.5" y="410.7" font-weight="bold" font-size="6.8" fill="#222">S, Mises</text><text x="13.5" y="417.9" font-weight="bold" font-size="6.4" fill="#222">(Avg: 75%)</text><rect x="13.5" y="422" width="8.8" height="6" fill="#e81818"/><rect x="13.5" y="427.8" width="8.8" height="6" fill="#f05818"/><rect x="13.5" y="433.5" width="8.8" height="6" fill="#f09018"/><rect x="13.5" y="439.2" width="8.8" height="6" fill="#e8c818"/><rect x="13.5" y="445" width="8.8" height="6" fill="#b8dc18"/><rect x="13.5" y="450.8" width="8.8" height="6" fill="#40d020"/><rect x="13.5" y="456.5" width="8.8" height="6" fill="#18c820"/><rect x="13.5" y="462.2" width="8.8" height="6" fill="#18c038"/><rect x="13.5" y="468" width="8.8" height="6" fill="#18c070"/><rect x="13.5" y="473.8" width="8.8" height="6" fill="#18c8b8"/><rect x="13.5" y="479.5" width="8.8" height="6" fill="#1aa0d8"/><rect x="13.5" y="485.2" width="8.8" height="6" fill="#1a5ac0"/><line x1="22.3" y1="422" x2="24.5" y2="422" stroke="#777" stroke-width="0.5"/><line x1="22.3" y1="427.8" x2="24.5" y2="427.8" stroke="#777" stroke-width="0.5"/><line x1="22.3" y1="433.5" x2="24.5" y2="433.5" stroke="#777" stroke-width="0.5"/><line x1="22.3" y1="439.2" x2="24.5" y2="439.2" stroke="#777" stroke-width="0.5"/><line x1="22.3" y1="445" x2="24.5" y2="445" stroke="#777" stroke-width="0.5"/><line x1="22.3" y1="450.8" x2="24.5" y2="450.8" stroke="#777" stroke-width="0.5"/><line x1="22.3" y1="456.5" x2="24.5" y2="456.5" stroke="#777" stroke-width="0.5"/><line x1="22.3" y1="462.2" x2="24.5" y2="462.2" stroke="#777" stroke-width="0.5"/><line x1="22.3" y1="468" x2="24.5" y2="468" stroke="#777" stroke-width="0.5"/><line x1="22.3" y1="473.8" x2="24.5" y2="473.8" stroke="#777" stroke-width="0.5"/><line x1="22.3" y1="479.5" x2="24.5" y2="479.5" stroke="#777" stroke-width="0.5"/><line x1="22.3" y1="485.2" x2="24.5" y2="485.2" stroke="#777" stroke-width="0.5"/><line x1="22.3" y1="491" x2="24.5" y2="491" stroke="#777" stroke-width="0.5"/><text x="27.3" y="426.5" font-weight="bold" font-size="8.8" fill="#111">3.742×10<tspan dy="-3.3" font-size="5.5">8</tspan></text><text x="27.3" y="437.9" font-weight="bold" font-size="8.8" fill="#111">3.160×10<tspan dy="-3.3" font-size="5.5">8</tspan></text><text x="27.3" y="449.2" font-weight="bold" font-size="8.8" fill="#111">2.579×10<tspan dy="-3.3" font-size="5.5">8</tspan></text><text x="27.3" y="460.6" font-weight="bold" font-size="8.8" fill="#111">1.997×10<tspan dy="-3.3" font-size="5.5">8</tspan></text><text x="27.3" y="472" font-weight="bold" font-size="8.8" fill="#111">1.416×10<tspan dy="-3.3" font-size="5.5">8</tspan></text><text x="27.3" y="483.3" font-weight="bold" font-size="8.8" fill="#111">8.340×10<tspan dy="-3.3" font-size="5.5">7</tspan></text><text x="27.3" y="494.7" font-weight="bold" font-size="8.8" fill="#111">2.524×10<tspan dy="-3.3" font-size="5.5">7</tspan></text>
<text x="191" y="411" font-weight="bold" font-size="6.8" fill="#222">S, Mises</text><text x="191" y="418.2" font-weight="bold" font-size="6.4" fill="#222">(Avg: 75%)</text><rect x="191" y="422.4" width="8.8" height="6" fill="#e81818"/><rect x="191" y="428.1" width="8.8" height="6" fill="#f05818"/><rect x="191" y="433.9" width="8.8" height="6" fill="#f09018"/><rect x="191" y="439.6" width="8.8" height="6" fill="#e8c818"/><rect x="191" y="445.4" width="8.8" height="6" fill="#b8dc18"/><rect x="191" y="451.1" width="8.8" height="6" fill="#40d020"/><rect x="191" y="456.9" width="8.8" height="6" fill="#18c820"/><rect x="191" y="462.6" width="8.8" height="6" fill="#18c038"/><rect x="191" y="468.4" width="8.8" height="6" fill="#18c070"/><rect x="191" y="474.1" width="8.8" height="6" fill="#18c8b8"/><rect x="191" y="479.9" width="8.8" height="6" fill="#1aa0d8"/><rect x="191" y="485.6" width="8.8" height="6" fill="#1a5ac0"/><line x1="199.8" y1="422.4" x2="202" y2="422.4" stroke="#777" stroke-width="0.5"/><line x1="199.8" y1="428.1" x2="202" y2="428.1" stroke="#777" stroke-width="0.5"/><line x1="199.8" y1="433.9" x2="202" y2="433.9" stroke="#777" stroke-width="0.5"/><line x1="199.8" y1="439.6" x2="202" y2="439.6" stroke="#777" stroke-width="0.5"/><line x1="199.8" y1="445.4" x2="202" y2="445.4" stroke="#777" stroke-width="0.5"/><line x1="199.8" y1="451.1" x2="202" y2="451.1" stroke="#777" stroke-width="0.5"/><line x1="199.8" y1="456.9" x2="202" y2="456.9" stroke="#777" stroke-width="0.5"/><line x1="199.8" y1="462.6" x2="202" y2="462.6" stroke="#777" stroke-width="0.5"/><line x1="199.8" y1="468.4" x2="202" y2="468.4" stroke="#777" stroke-width="0.5"/><line x1="199.8" y1="474.1" x2="202" y2="474.1" stroke="#777" stroke-width="0.5"/><line x1="199.8" y1="479.9" x2="202" y2="479.9" stroke="#777" stroke-width="0.5"/><line x1="199.8" y1="485.6" x2="202" y2="485.6" stroke="#777" stroke-width="0.5"/><line x1="199.8" y1="491.4" x2="202" y2="491.4" stroke="#777" stroke-width="0.5"/><text x="204.8" y="426.9" font-weight="bold" font-size="8.8" fill="#111">3.624×10<tspan dy="-3.3" font-size="5.5">8</tspan></text><text x="204.8" y="438.3" font-weight="bold" font-size="8.8" fill="#111">3.069×10<tspan dy="-3.3" font-size="5.5">8</tspan></text><text x="204.8" y="449.6" font-weight="bold" font-size="8.8" fill="#111">2.514×10<tspan dy="-3.3" font-size="5.5">8</tspan></text><text x="204.8" y="461" font-weight="bold" font-size="8.8" fill="#111">1.960×10<tspan dy="-3.3" font-size="5.5">8</tspan></text><text x="204.8" y="472.4" font-weight="bold" font-size="8.8" fill="#111">1.405×10<tspan dy="-3.3" font-size="5.5">8</tspan></text><text x="204.8" y="483.7" font-weight="bold" font-size="8.8" fill="#111">8.502×10<tspan dy="-3.3" font-size="5.5">7</tspan></text><text x="204.8" y="495.1" font-weight="bold" font-size="8.8" fill="#111">2.955×10<tspan dy="-3.3" font-size="5.5">7</tspan></text>
<text x="369.7" y="411" font-weight="bold" font-size="6.8" fill="#222">S, Mises</text><text x="369.7" y="418.2" font-weight="bold" font-size="6.4" fill="#222">(Avg: 75%)</text><rect x="369.7" y="422.4" width="8.8" height="6" fill="#e81818"/><rect x="369.7" y="428.1" width="8.8" height="6" fill="#f05818"/><rect x="369.7" y="433.9" width="8.8" height="6" fill="#f09018"/><rect x="369.7" y="439.6" width="8.8" height="6" fill="#e8c818"/><rect x="369.7" y="445.4" width="8.8" height="6" fill="#b8dc18"/><rect x="369.7" y="451.1" width="8.8" height="6" fill="#40d020"/><rect x="369.7" y="456.9" width="8.8" height="6" fill="#18c820"/><rect x="369.7" y="462.6" width="8.8" height="6" fill="#18c038"/><rect x="369.7" y="468.4" width="8.8" height="6" fill="#18c070"/><rect x="369.7" y="474.1" width="8.8" height="6" fill="#18c8b8"/><rect x="369.7" y="479.9" width="8.8" height="6" fill="#1aa0d8"/><rect x="369.7" y="485.6" width="8.8" height="6" fill="#1a5ac0"/><line x1="378.5" y1="422.4" x2="380.7" y2="422.4" stroke="#777" stroke-width="0.5"/><line x1="378.5" y1="428.1" x2="380.7" y2="428.1" stroke="#777" stroke-width="0.5"/><line x1="378.5" y1="433.9" x2="380.7" y2="433.9" stroke="#777" stroke-width="0.5"/><line x1="378.5" y1="439.6" x2="380.7" y2="439.6" stroke="#777" stroke-width="0.5"/><line x1="378.5" y1="445.4" x2="380.7" y2="445.4" stroke="#777" stroke-width="0.5"/><line x1="378.5" y1="451.1" x2="380.7" y2="451.1" stroke="#777" stroke-width="0.5"/><line x1="378.5" y1="456.9" x2="380.7" y2="456.9" stroke="#777" stroke-width="0.5"/><line x1="378.5" y1="462.6" x2="380.7" y2="462.6" stroke="#777" stroke-width="0.5"/><line x1="378.5" y1="468.4" x2="380.7" y2="468.4" stroke="#777" stroke-width="0.5"/><line x1="378.5" y1="474.1" x2="380.7" y2="474.1" stroke="#777" stroke-width="0.5"/><line x1="378.5" y1="479.9" x2="380.7" y2="479.9" stroke="#777" stroke-width="0.5"/><line x1="378.5" y1="485.6" x2="380.7" y2="485.6" stroke="#777" stroke-width="0.5"/><line x1="378.5" y1="491.4" x2="380.7" y2="491.4" stroke="#777" stroke-width="0.5"/><text x="383.5" y="426.9" font-weight="bold" font-size="8.8" fill="#111">3.602×10<tspan dy="-3.3" font-size="5.5">8</tspan></text><text x="383.5" y="438.3" font-weight="bold" font-size="8.8" fill="#111">3.061×10<tspan dy="-3.3" font-size="5.5">8</tspan></text><text x="383.5" y="449.6" font-weight="bold" font-size="8.8" fill="#111">2.520×10<tspan dy="-3.3" font-size="5.5">8</tspan></text><text x="383.5" y="461" font-weight="bold" font-size="8.8" fill="#111">1.980×10<tspan dy="-3.3" font-size="5.5">8</tspan></text><text x="383.5" y="472.4" font-weight="bold" font-size="8.8" fill="#111">1.439×10<tspan dy="-3.3" font-size="5.5">8</tspan></text><text x="383.5" y="483.7" font-weight="bold" font-size="8.8" fill="#111">8.980×10<tspan dy="-3.3" font-size="5.5">7</tspan></text><text x="383.5" y="495.1" font-weight="bold" font-size="8.8" fill="#111">3.573×10<tspan dy="-3.3" font-size="5.5">7</tspan></text>
<text x="120.3" y="397.8" font-weight="bold" font-size="11" text-anchor="middle">a=45cm</text>
<text x="301" y="397.8" font-weight="bold" font-size="11" text-anchor="middle">a=75cm</text>
<text x="474" y="397.5" font-weight="bold" font-size="11" text-anchor="middle">a=90cm</text>
<text x="122.8" y="513.3" font-weight="bold" font-size="11" text-anchor="middle">a=135cm</text>
<text x="304" y="514.3" font-weight="bold" font-size="11" text-anchor="middle">a=180cm</text>
<text x="481" y="512.5" font-weight="bold" font-size="11" text-anchor="middle">a=225cm</text>
<text x="274.7" y="532.3" font-weight="bold" font-size="17" text-anchor="middle">(b)</text>
<rect x="21.5" y="556" width="35" height="314" fill="#d9d9d9"/>
<text x="0" y="0" font-weight="bold" font-size="15" text-anchor="middle" transform="translate(43.3,699) rotate(-90)">a=45cm</text>
<rect x="56.5" y="557.5" width="467.7" height="128.8" fill="#fff"/>
<rect x="116" y="557.5" width="177" height="128.8" fill="#6a6ae4"/>
<rect x="353.3" y="557.5" width="170.9" height="128.8" fill="#6a6ae4"/>
<rect x="56.5" y="717.3" width="467.7" height="127.3" fill="#fff"/>
<rect x="116" y="717.3" width="178.5" height="127.3" fill="#6a6ae4"/>
<rect x="353.8" y="717.3" width="170.4" height="127.3" fill="#6a6ae4"/>
<rect x="21" y="555.5" width="503.2" height="2" fill="#000"/>
<line x1="56.5" y1="686.8" x2="524.2" y2="686.8" stroke="#000" stroke-width="1.4" stroke-dasharray="2.4 1.2"/>
<line x1="56.5" y1="716.8" x2="524.2" y2="716.8" stroke="#000" stroke-width="1.4" stroke-dasharray="2.4 1.2"/>
<line x1="56.5" y1="845" x2="524.2" y2="845" stroke="#000" stroke-width="1.4" stroke-dasharray="2.4 1.2"/>
<text x="58.8" y="563.6" font-weight="bold" font-size="6.6" fill="#151525">U, Magnitude</text><rect x="58.8" y="570.1" width="9.4" height="6.5" fill="#ff0000"/><rect x="58.8" y="576.3" width="9.4" height="6.5" fill="#ff4000"/><rect x="58.8" y="582.5" width="9.4" height="6.5" fill="#ff7a00"/><rect x="58.8" y="588.7" width="9.4" height="6.5" fill="#ffae00"/><rect x="58.8" y="594.9" width="9.4" height="6.5" fill="#ffe800"/><rect x="58.8" y="601.1" width="9.4" height="6.5" fill="#c4f000"/><rect x="58.8" y="607.3" width="9.4" height="6.5" fill="#30ee20"/><rect x="58.8" y="613.5" width="9.4" height="6.5" fill="#20e420"/><rect x="58.8" y="619.7" width="9.4" height="6.5" fill="#08dc08"/><rect x="58.8" y="625.9" width="9.4" height="6.5" fill="#10e040"/><rect x="58.8" y="632.1" width="9.4" height="6.5" fill="#30e4a0"/><rect x="58.8" y="638.3" width="9.4" height="6.5" fill="#20e0d0"/><rect x="58.8" y="644.5" width="9.4" height="6.5" fill="#10f0f0"/><rect x="58.8" y="650.7" width="9.4" height="6.5" fill="#10a8f0"/><rect x="58.8" y="656.9" width="9.4" height="6.5" fill="#1070f0"/><rect x="58.8" y="663.1" width="9.4" height="6.5" fill="#1040f0"/><rect x="58.8" y="669.3" width="9.4" height="6.5" fill="#0a14ee"/><rect x="58.8" y="675.5" width="9.4" height="6.5" fill="#0000e6"/><line x1="68.2" y1="570.1" x2="71.3" y2="570.1" stroke="#4a4a80" stroke-width="0.6"/><line x1="68.2" y1="582.5" x2="71.3" y2="582.5" stroke="#4a4a80" stroke-width="0.6"/><line x1="68.2" y1="594.9" x2="71.3" y2="594.9" stroke="#4a4a80" stroke-width="0.6"/><line x1="68.2" y1="607.3" x2="71.3" y2="607.3" stroke="#4a4a80" stroke-width="0.6"/><line x1="68.2" y1="619.7" x2="71.3" y2="619.7" stroke="#4a4a80" stroke-width="0.6"/><line x1="68.2" y1="632.1" x2="71.3" y2="632.1" stroke="#4a4a80" stroke-width="0.6"/><line x1="68.2" y1="644.5" x2="71.3" y2="644.5" stroke="#4a4a80" stroke-width="0.6"/><line x1="68.2" y1="656.9" x2="71.3" y2="656.9" stroke="#4a4a80" stroke-width="0.6"/><line x1="68.2" y1="669.3" x2="71.3" y2="669.3" stroke="#4a4a80" stroke-width="0.6"/><line x1="68.2" y1="681.7" x2="71.3" y2="681.7" stroke="#4a4a80" stroke-width="0.6"/><text x="71.6" y="575.4" font-weight="bold" font-size="9.7" fill="#111">4.44×10<tspan dy="-3.7" font-size="6">-1</tspan></text><text x="71.6" y="587.4" font-weight="bold" font-size="9.7" fill="#111">3.95×10<tspan dy="-3.7" font-size="6">-1</tspan></text><text x="71.6" y="599.4" font-weight="bold" font-size="9.7" fill="#111">3.45×10<tspan dy="-3.7" font-size="6">-1</tspan></text><text x="71.6" y="611.3" font-weight="bold" font-size="9.7" fill="#111">2.96×10<tspan dy="-3.7" font-size="6">-1</tspan></text><text x="71.6" y="623.3" font-weight="bold" font-size="9.7" fill="#111">2.47×10<tspan dy="-3.7" font-size="6">-1</tspan></text><text x="71.6" y="635.3" font-weight="bold" font-size="9.7" fill="#111">1.97×10<tspan dy="-3.7" font-size="6">-1</tspan></text><text x="71.6" y="647.3" font-weight="bold" font-size="9.7" fill="#111">1.48×10<tspan dy="-3.7" font-size="6">-1</tspan></text><text x="71.6" y="659.2" font-weight="bold" font-size="9.7" fill="#111">9.87×10<tspan dy="-3.7" font-size="6">-2</tspan></text><text x="71.6" y="671.2" font-weight="bold" font-size="9.7" fill="#111">4.94×10<tspan dy="-3.7" font-size="6">-2</tspan></text><text x="71.6" y="683.2" font-weight="bold" font-size="9.7" fill="#111">1.80×10<tspan dy="-3.7" font-size="6">-10</tspan></text>
<text x="295" y="563.6" font-weight="bold" font-size="6.6" fill="#151525">U, Magnitude</text><rect x="295" y="570.5" width="9.4" height="6.5" fill="#ff0000"/><rect x="295" y="576.7" width="9.4" height="6.5" fill="#ff4000"/><rect x="295" y="582.9" width="9.4" height="6.5" fill="#ff7a00"/><rect x="295" y="589.1" width="9.4" height="6.5" fill="#ffae00"/><rect x="295" y="595.3" width="9.4" height="6.5" fill="#ffe800"/><rect x="295" y="601.5" width="9.4" height="6.5" fill="#c4f000"/><rect x="295" y="607.7" width="9.4" height="6.5" fill="#30ee20"/><rect x="295" y="613.9" width="9.4" height="6.5" fill="#20e420"/><rect x="295" y="620.1" width="9.4" height="6.5" fill="#08dc08"/><rect x="295" y="626.3" width="9.4" height="6.5" fill="#10e040"/><rect x="295" y="632.5" width="9.4" height="6.5" fill="#30e4a0"/><rect x="295" y="638.7" width="9.4" height="6.5" fill="#20e0d0"/><rect x="295" y="644.9" width="9.4" height="6.5" fill="#10f0f0"/><rect x="295" y="651.1" width="9.4" height="6.5" fill="#10a8f0"/><rect x="295" y="657.3" width="9.4" height="6.5" fill="#1070f0"/><rect x="295" y="663.5" width="9.4" height="6.5" fill="#1040f0"/><rect x="295" y="669.7" width="9.4" height="6.5" fill="#0a14ee"/><rect x="295" y="675.9" width="9.4" height="6.5" fill="#0000e6"/><line x1="304.4" y1="570.5" x2="307.5" y2="570.5" stroke="#4a4a80" stroke-width="0.6"/><line x1="304.4" y1="582.9" x2="307.5" y2="582.9" stroke="#4a4a80" stroke-width="0.6"/><line x1="304.4" y1="595.3" x2="307.5" y2="595.3" stroke="#4a4a80" stroke-width="0.6"/><line x1="304.4" y1="607.7" x2="307.5" y2="607.7" stroke="#4a4a80" stroke-width="0.6"/><line x1="304.4" y1="620.1" x2="307.5" y2="620.1" stroke="#4a4a80" stroke-width="0.6"/><line x1="304.4" y1="632.5" x2="307.5" y2="632.5" stroke="#4a4a80" stroke-width="0.6"/><line x1="304.4" y1="644.9" x2="307.5" y2="644.9" stroke="#4a4a80" stroke-width="0.6"/><line x1="304.4" y1="657.3" x2="307.5" y2="657.3" stroke="#4a4a80" stroke-width="0.6"/><line x1="304.4" y1="669.7" x2="307.5" y2="669.7" stroke="#4a4a80" stroke-width="0.6"/><line x1="304.4" y1="682.1" x2="307.5" y2="682.1" stroke="#4a4a80" stroke-width="0.6"/><text x="307.8" y="575.8" font-weight="bold" font-size="9.7" fill="#111">4.95×10<tspan dy="-3.7" font-size="6">-1</tspan></text><text x="307.8" y="587.8" font-weight="bold" font-size="9.7" fill="#111">4.40×10<tspan dy="-3.7" font-size="6">-1</tspan></text><text x="307.8" y="599.8" font-weight="bold" font-size="9.7" fill="#111">3.85×10<tspan dy="-3.7" font-size="6">-1</tspan></text><text x="307.8" y="611.7" font-weight="bold" font-size="9.7" fill="#111">3.30×10<tspan dy="-3.7" font-size="6">-1</tspan></text><text x="307.8" y="623.7" font-weight="bold" font-size="9.7" fill="#111">2.75×10<tspan dy="-3.7" font-size="6">-1</tspan></text><text x="307.8" y="635.7" font-weight="bold" font-size="9.7" fill="#111">2.20×10<tspan dy="-3.7" font-size="6">-1</tspan></text><text x="307.8" y="647.7" font-weight="bold" font-size="9.7" fill="#111">1.65×10<tspan dy="-3.7" font-size="6">-1</tspan></text><text x="307.8" y="659.6" font-weight="bold" font-size="9.7" fill="#111">1.10×10<tspan dy="-3.7" font-size="6">-1</tspan></text><text x="307.8" y="671.6" font-weight="bold" font-size="9.7" fill="#111">5.50×10<tspan dy="-3.7" font-size="6">-2</tspan></text><text x="307.8" y="683.6" font-weight="bold" font-size="9.7" fill="#111">6.22×10<tspan dy="-3.7" font-size="6">-10</tspan></text>
<text x="58.8" y="723.3" font-weight="bold" font-size="6.6" fill="#151525">U, Magnitude</text><rect x="58.8" y="728.8" width="9.4" height="6.5" fill="#ff0000"/><rect x="58.8" y="735" width="9.4" height="6.5" fill="#ff4000"/><rect x="58.8" y="741.2" width="9.4" height="6.5" fill="#ff7a00"/><rect x="58.8" y="747.4" width="9.4" height="6.5" fill="#ffae00"/><rect x="58.8" y="753.6" width="9.4" height="6.5" fill="#ffe800"/><rect x="58.8" y="759.8" width="9.4" height="6.5" fill="#c4f000"/><rect x="58.8" y="766" width="9.4" height="6.5" fill="#30ee20"/><rect x="58.8" y="772.2" width="9.4" height="6.5" fill="#20e420"/><rect x="58.8" y="778.4" width="9.4" height="6.5" fill="#08dc08"/><rect x="58.8" y="784.6" width="9.4" height="6.5" fill="#10e040"/><rect x="58.8" y="790.8" width="9.4" height="6.5" fill="#30e4a0"/><rect x="58.8" y="797" width="9.4" height="6.5" fill="#20e0d0"/><rect x="58.8" y="803.2" width="9.4" height="6.5" fill="#10f0f0"/><rect x="58.8" y="809.4" width="9.4" height="6.5" fill="#10a8f0"/><rect x="58.8" y="815.6" width="9.4" height="6.5" fill="#1070f0"/><rect x="58.8" y="821.8" width="9.4" height="6.5" fill="#1040f0"/><rect x="58.8" y="828" width="9.4" height="6.5" fill="#0a14ee"/><rect x="58.8" y="834.2" width="9.4" height="6.5" fill="#0000e6"/><line x1="68.2" y1="728.8" x2="71.3" y2="728.8" stroke="#4a4a80" stroke-width="0.6"/><line x1="68.2" y1="741.2" x2="71.3" y2="741.2" stroke="#4a4a80" stroke-width="0.6"/><line x1="68.2" y1="753.6" x2="71.3" y2="753.6" stroke="#4a4a80" stroke-width="0.6"/><line x1="68.2" y1="766" x2="71.3" y2="766" stroke="#4a4a80" stroke-width="0.6"/><line x1="68.2" y1="778.4" x2="71.3" y2="778.4" stroke="#4a4a80" stroke-width="0.6"/><line x1="68.2" y1="790.8" x2="71.3" y2="790.8" stroke="#4a4a80" stroke-width="0.6"/><line x1="68.2" y1="803.2" x2="71.3" y2="803.2" stroke="#4a4a80" stroke-width="0.6"/><line x1="68.2" y1="815.6" x2="71.3" y2="815.6" stroke="#4a4a80" stroke-width="0.6"/><line x1="68.2" y1="828" x2="71.3" y2="828" stroke="#4a4a80" stroke-width="0.6"/><line x1="68.2" y1="840.4" x2="71.3" y2="840.4" stroke="#4a4a80" stroke-width="0.6"/><text x="71.6" y="734.1" font-weight="bold" font-size="9.7" fill="#111">7.76×10<tspan dy="-3.7" font-size="6">-1</tspan></text><text x="71.6" y="746.1" font-weight="bold" font-size="9.7" fill="#111">6.89×10<tspan dy="-3.7" font-size="6">-1</tspan></text><text x="71.6" y="758.1" font-weight="bold" font-size="9.7" fill="#111">6.03×10<tspan dy="-3.7" font-size="6">-1</tspan></text><text x="71.6" y="770" font-weight="bold" font-size="9.7" fill="#111">5.17×10<tspan dy="-3.7" font-size="6">-1</tspan></text><text x="71.6" y="782" font-weight="bold" font-size="9.7" fill="#111">4.31×10<tspan dy="-3.7" font-size="6">-1</tspan></text><text x="71.6" y="794" font-weight="bold" font-size="9.7" fill="#111">3.45×10<tspan dy="-3.7" font-size="6">-1</tspan></text><text x="71.6" y="806" font-weight="bold" font-size="9.7" fill="#111">2.58×10<tspan dy="-3.7" font-size="6">-1</tspan></text><text x="71.6" y="817.9" font-weight="bold" font-size="9.7" fill="#111">1.72×10<tspan dy="-3.7" font-size="6">-1</tspan></text><text x="71.6" y="829.9" font-weight="bold" font-size="9.7" fill="#111">8.62×10<tspan dy="-3.7" font-size="6">-2</tspan></text><text x="71.6" y="841.9" font-weight="bold" font-size="9.7" fill="#111">6.12×10<tspan dy="-3.7" font-size="6">-10</tspan></text>
<text x="295.8" y="723.9" font-weight="bold" font-size="6.6" fill="#151525">U, Magnitude</text><rect x="295.8" y="729.5" width="9.4" height="6.5" fill="#ff0000"/><rect x="295.8" y="735.7" width="9.4" height="6.5" fill="#ff4000"/><rect x="295.8" y="741.9" width="9.4" height="6.5" fill="#ff7a00"/><rect x="295.8" y="748.1" width="9.4" height="6.5" fill="#ffae00"/><rect x="295.8" y="754.3" width="9.4" height="6.5" fill="#ffe800"/><rect x="295.8" y="760.5" width="9.4" height="6.5" fill="#c4f000"/><rect x="295.8" y="766.7" width="9.4" height="6.5" fill="#30ee20"/><rect x="295.8" y="772.9" width="9.4" height="6.5" fill="#20e420"/><rect x="295.8" y="779.1" width="9.4" height="6.5" fill="#08dc08"/><rect x="295.8" y="785.3" width="9.4" height="6.5" fill="#10e040"/><rect x="295.8" y="791.5" width="9.4" height="6.5" fill="#30e4a0"/><rect x="295.8" y="797.7" width="9.4" height="6.5" fill="#20e0d0"/><rect x="295.8" y="803.9" width="9.4" height="6.5" fill="#10f0f0"/><rect x="295.8" y="810.1" width="9.4" height="6.5" fill="#10a8f0"/><rect x="295.8" y="816.3" width="9.4" height="6.5" fill="#1070f0"/><rect x="295.8" y="822.5" width="9.4" height="6.5" fill="#1040f0"/><rect x="295.8" y="828.7" width="9.4" height="6.5" fill="#0a14ee"/><rect x="295.8" y="834.9" width="9.4" height="6.5" fill="#0000e6"/><line x1="305.2" y1="729.5" x2="308.3" y2="729.5" stroke="#4a4a80" stroke-width="0.6"/><line x1="305.2" y1="741.9" x2="308.3" y2="741.9" stroke="#4a4a80" stroke-width="0.6"/><line x1="305.2" y1="754.3" x2="308.3" y2="754.3" stroke="#4a4a80" stroke-width="0.6"/><line x1="305.2" y1="766.7" x2="308.3" y2="766.7" stroke="#4a4a80" stroke-width="0.6"/><line x1="305.2" y1="779.1" x2="308.3" y2="779.1" stroke="#4a4a80" stroke-width="0.6"/><line x1="305.2" y1="791.5" x2="308.3" y2="791.5" stroke="#4a4a80" stroke-width="0.6"/><line x1="305.2" y1="803.9" x2="308.3" y2="803.9" stroke="#4a4a80" stroke-width="0.6"/><line x1="305.2" y1="816.3" x2="308.3" y2="816.3" stroke="#4a4a80" stroke-width="0.6"/><line x1="305.2" y1="828.7" x2="308.3" y2="828.7" stroke="#4a4a80" stroke-width="0.6"/><line x1="305.2" y1="841.1" x2="308.3" y2="841.1" stroke="#4a4a80" stroke-width="0.6"/><text x="308.6" y="734.8" font-weight="bold" font-size="9.7" fill="#111">1.10</text><text x="308.6" y="746.8" font-weight="bold" font-size="9.7" fill="#111">9.77×10<tspan dy="-3.7" font-size="6">-1</tspan></text><text x="308.6" y="758.8" font-weight="bold" font-size="9.7" fill="#111">8.55×10<tspan dy="-3.7" font-size="6">-1</tspan></text><text x="308.6" y="770.7" font-weight="bold" font-size="9.7" fill="#111">7.33×10<tspan dy="-3.7" font-size="6">-1</tspan></text><text x="308.6" y="782.7" font-weight="bold" font-size="9.7" fill="#111">6.10×10<tspan dy="-3.7" font-size="6">-1</tspan></text><text x="308.6" y="794.7" font-weight="bold" font-size="9.7" fill="#111">4.88×10<tspan dy="-3.7" font-size="6">-1</tspan></text><text x="308.6" y="806.7" font-weight="bold" font-size="9.7" fill="#111">3.66×10<tspan dy="-3.7" font-size="6">-1</tspan></text><text x="308.6" y="818.6" font-weight="bold" font-size="9.7" fill="#111">2.44×10<tspan dy="-3.7" font-size="6">-1</tspan></text><text x="308.6" y="830.6" font-weight="bold" font-size="9.7" fill="#111">1.22×10<tspan dy="-3.7" font-size="6">-1</tspan></text><text x="308.6" y="842.6" font-weight="bold" font-size="9.7" fill="#111">5.08×10<tspan dy="-3.7" font-size="6">-10</tspan></text>
<text x="171" y="704.8" font-weight="bold" font-size="13.5" text-anchor="middle">8.0ms</text>
<text x="416.5" y="705.6" font-weight="bold" font-size="13.5" text-anchor="middle">16.0ms</text>
<text x="174" y="862.8" font-weight="bold" font-size="13.5" text-anchor="middle">20.0ms</text>
<text x="417.5" y="864.2" font-weight="bold" font-size="13.5" text-anchor="middle">40.0ms</text>
<defs><clipPath id="row1"><rect x="116" y="557.5" width="408.2" height="128.8"/></clipPath><clipPath id="row2"><rect x="116" y="717.3" width="408.2" height="127.3"/></clipPath></defs><circle cx="205.5" cy="584.6" r="18.7" fill="#4848da" stroke="#5858dc" stroke-width="0.6"/><circle cx="205.5" cy="614.9" r="18.6" fill="#1616d2" stroke="#2222b0" stroke-width="0.8"/><path d="M190.8,603.5 Q205.5,593 220.2,603.5 Q212,606 205.5,606.5 Q199,606 190.8,603.5 Z" fill="#2846dc"/><path d="M191.5,602.8 Q199,605 205.5,605.8 Q212,605 219.5,602.8" fill="none" stroke="#2aa0e0" stroke-width="1.6" transform="translate(0,-0.8)"/><path d="M191.5,603.3 Q199,605.6 205.5,606.3 Q212,605.6 219.5,603.3" fill="none" stroke="#30c860" stroke-width="1.1"/><ellipse cx="205.5" cy="605.3" rx="4.2" ry="1.6" fill="#e8d020"/><ellipse cx="205.5" cy="606.2" rx="3.4" ry="1.5" fill="#f02010"/><path d="M443.5,566.5 C451,566.5 452.5,574 450.5,580 C449,585 446.5,587 446.5,591 L448.5,595 L438.5,595 L440.5,591 C440.5,587 438,585 436.5,580 C434.5,574 436,566.5 443.5,566.5 Z" fill="#3a3ad8"/><circle cx="443.9" cy="614.1" r="19.1" fill="#1616d2" stroke="#2222a8" stroke-width="0.8"/><path d="M428.5,602.5 Q443.9,589 459.3,602.5 Q451,605 443.9,607.5 Q436.8,605 428.5,602.5 Z" fill="#2848dc"/><path d="M429.5,601.5 Q437,603.5 443.9,606 Q450.8,603.5 458.3,601.5" fill="none" stroke="#2aa8e0" stroke-width="1.8" transform="translate(0,-1)"/><path d="M430,602.2 Q437,604.3 443.9,607 Q450.8,604.3 457.8,602.2" fill="none" stroke="#30c860" stroke-width="1.1"/><ellipse cx="443.9" cy="605" rx="2.2" ry="1.6" fill="#e8d020"/><ellipse cx="443.9" cy="607.2" rx="2.8" ry="1.6" fill="#f02010"/><ellipse cx="206" cy="729.5" rx="12" ry="8.7" fill="#3a3ad8"/><rect x="205.1" y="736" width="1.8" height="18" fill="#2626d0"/><circle cx="206" cy="772.8" r="19.3" fill="#1414d0" stroke="#2222a8" stroke-width="0.8"/><path d="M187.2,768 Q189,754 206,753.6 Q223,754 224.8,768 Q214,767.5 206,774 Q198,767.5 187.2,768 Z" fill="#2a4ee2"/><path d="M192,758 Q200,764 203,770 M220,758 Q212,764 209,770" fill="none" stroke="#3a90e8" stroke-width="1.6"/><path d="M188.5,767.2 Q199,767 206,773.2 Q213,767 223.5,767.2" fill="none" stroke="#2aa8e0" stroke-width="1.6" transform="translate(0,-0.9)"/><path d="M188.5,767.8 Q199,767.6 206,773.8 Q213,767.6 223.5,767.8" fill="none" stroke="#30c850" stroke-width="1.2"/><ellipse cx="206" cy="772.6" rx="2.4" ry="1.5" fill="#e8d020"/><ellipse cx="206" cy="774.2" rx="3.2" ry="1.6" fill="#f02010"/><g clip-path="url(#row2)"><path d="M431,714 L458.4,714 L458.4,724 Q458,730 450,730 Q444.5,727.5 439,730 Q431,730 431,724 Z" fill="#3838d6"/><rect x="432.5" y="714" width="4.5" height="15" fill="#5656e0" opacity="0.7"/><rect x="452.5" y="714" width="4.5" height="15" fill="#5656e0" opacity="0.7"/></g><path d="M445,753.2 C456,753.2 462,764 465,774 C467,782 462,792 445,792 C428,792 423,782 425,774 C428,764 434,753.2 445,753.2 Z" fill="#1414d2" stroke="#2a2ab0" stroke-width="0.8"/><path d="M445,753.6 C456,753.6 461.5,764 464.5,774 Q455,773 450,777 Q445,781 440,777 Q435,773 425.5,774 C428.5,764 434,753.6 445,753.6 Z" fill="#2a48e0"/><path d="M436,758 Q439,765 441,772 M454,758 Q451,765 449,772" fill="none" stroke="#3a9ae8" stroke-width="1.8"/><path d="M426,773 Q435,772 440,776.5 Q445,780.5 450,776.5 Q455,772 464,773" fill="none" stroke="#30b8d8" stroke-width="2.6" transform="translate(0,-1)"/><path d="M427,774 Q435,773 440,777.5 Q445,781.5 450,777.5 Q455,773 463,774" fill="none" stroke="#30d040" stroke-width="1.6"/><path d="M425.5,776 Q424,784 428,789" fill="none" stroke="#30a0d0" stroke-width="2.2" opacity="0.8"/><path d="M464.5,776 Q466,784 462,789" fill="none" stroke="#30a0d0" stroke-width="2.2" opacity="0.8"/><ellipse cx="445" cy="779.5" rx="3.8" ry="2" fill="#e8c020"/><ellipse cx="445" cy="781.2" rx="4.2" ry="2.2" fill="#f01810"/><path d="M442.5,768 L445,765.5 L447.5,768 L445,770.5 Z" fill="#30c040"/>
</svg></body></html>
